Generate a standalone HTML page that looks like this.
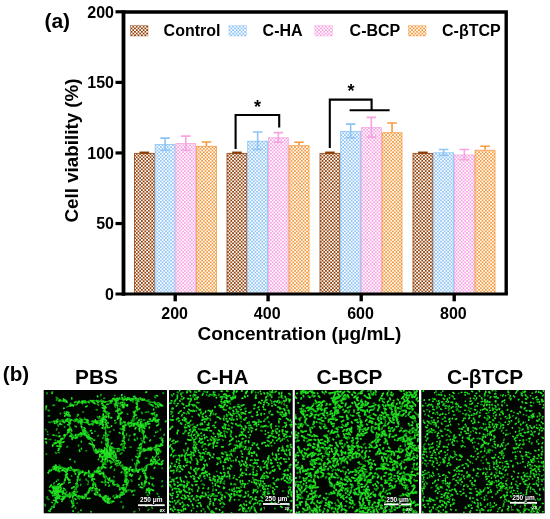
<!DOCTYPE html>
<html lang="en"><head><meta charset="utf-8"><title>Cell viability</title>
<style>html,body{margin:0;padding:0;background:#fff}svg{display:block}text{font-family:"Liberation Sans",sans-serif;font-weight:bold;fill:#000}</style>
</head><body>
<svg width="550" height="519" viewBox="0 0 550 519">
<defs>
<pattern id="p-ctrl" width="3.44" height="3.44" patternUnits="userSpaceOnUse"><rect width="3.44" height="3.44" fill="#fff"/><rect x="0" y="0" width="1.72" height="1.72" fill="#96420c"/><rect x="1.72" y="1.72" width="1.72" height="1.72" fill="#96420c"/></pattern>
<pattern id="p-ha" width="3.44" height="3.44" patternUnits="userSpaceOnUse"><rect width="3.44" height="3.44" fill="#fff"/><rect x="0" y="0" width="1.72" height="1.72" fill="#8ec4f6"/><rect x="1.72" y="1.72" width="1.72" height="1.72" fill="#8ec4f6"/></pattern>
<pattern id="p-bcp" width="3.44" height="3.44" patternUnits="userSpaceOnUse"><rect width="3.44" height="3.44" fill="#fff"/><rect x="0" y="0" width="1.72" height="1.72" fill="#f7a3e2"/><rect x="1.72" y="1.72" width="1.72" height="1.72" fill="#f7a3e2"/></pattern>
<pattern id="p-tcp" width="3.44" height="3.44" patternUnits="userSpaceOnUse"><rect width="3.44" height="3.44" fill="#fff"/><rect x="0" y="0" width="1.72" height="1.72" fill="#f79a3e"/><rect x="1.72" y="1.72" width="1.72" height="1.72" fill="#f79a3e"/></pattern>
<filter id="soft" x="-5%" y="-5%" width="110%" height="110%"><feGaussianBlur stdDeviation="0.45"/></filter>
</defs>
<rect width="550" height="519" fill="#fff"/>
<g id="bars">
<rect x="134.40" y="153.35" width="19.90" height="141.15" fill="url(#p-ctrl)" stroke="#96420c" stroke-width="0.8"/>
<path d="M139.55 152.65H149.15" stroke="#8a3d06" stroke-width="2.2" fill="none"/>
<rect x="155.10" y="144.60" width="19.90" height="149.90" fill="url(#p-ha)" stroke="#8ec4f6" stroke-width="0.8"/>
<path d="M165.05 138.13V150.27M160.25 138.13H169.85M160.25 150.27H169.85" stroke="#8ec4f6" stroke-width="1.6" fill="none"/>
<rect x="175.80" y="143.61" width="19.90" height="150.89" fill="url(#p-bcp)" stroke="#f7a3e2" stroke-width="0.8"/>
<path d="M185.75 136.15V150.27M180.95 136.15H190.55M180.95 150.27H190.55" stroke="#f7a3e2" stroke-width="1.6" fill="none"/>
<rect x="196.50" y="146.29" width="19.90" height="148.21" fill="url(#p-tcp)" stroke="#f79a3e" stroke-width="0.8"/>
<path d="M206.45 141.94V145.89M201.65 141.94H211.25" stroke="#f79a3e" stroke-width="1.6" fill="none"/>
<rect x="227.00" y="153.35" width="19.90" height="141.15" fill="url(#p-ctrl)" stroke="#96420c" stroke-width="0.8"/>
<path d="M232.15 152.65H241.75" stroke="#8a3d06" stroke-width="2.2" fill="none"/>
<rect x="247.70" y="141.21" width="19.90" height="153.29" fill="url(#p-ha)" stroke="#8ec4f6" stroke-width="0.8"/>
<path d="M257.65 132.06V149.56M252.85 132.06H262.45M252.85 149.56H262.45" stroke="#8ec4f6" stroke-width="1.6" fill="none"/>
<rect x="268.40" y="137.82" width="19.90" height="156.68" fill="url(#p-bcp)" stroke="#f7a3e2" stroke-width="0.8"/>
<path d="M278.35 132.62V142.22M273.55 132.62H283.15M273.55 142.22H283.15" stroke="#f7a3e2" stroke-width="1.6" fill="none"/>
<rect x="289.10" y="145.73" width="19.90" height="148.77" fill="url(#p-tcp)" stroke="#f79a3e" stroke-width="0.8"/>
<path d="M299.05 142.22V145.33M294.25 142.22H303.85" stroke="#f79a3e" stroke-width="1.6" fill="none"/>
<rect x="320.00" y="153.35" width="19.90" height="141.15" fill="url(#p-ctrl)" stroke="#96420c" stroke-width="0.8"/>
<path d="M325.15 152.65H334.75" stroke="#8a3d06" stroke-width="2.2" fill="none"/>
<rect x="340.70" y="131.33" width="19.90" height="163.17" fill="url(#p-ha)" stroke="#8ec4f6" stroke-width="0.8"/>
<path d="M350.65 124.16V137.71M345.85 124.16H355.45M345.85 137.71H355.45" stroke="#8ec4f6" stroke-width="1.6" fill="none"/>
<rect x="361.40" y="127.66" width="19.90" height="166.84" fill="url(#p-bcp)" stroke="#f7a3e2" stroke-width="0.8"/>
<path d="M371.35 117.38V137.14M366.55 117.38H376.15M366.55 137.14H376.15" stroke="#f7a3e2" stroke-width="1.6" fill="none"/>
<rect x="382.10" y="132.74" width="19.90" height="161.76" fill="url(#p-tcp)" stroke="#f79a3e" stroke-width="0.8"/>
<path d="M392.05 123.03V132.34M387.25 123.03H396.85" stroke="#f79a3e" stroke-width="1.6" fill="none"/>
<rect x="413.00" y="153.35" width="19.90" height="141.15" fill="url(#p-ctrl)" stroke="#96420c" stroke-width="0.8"/>
<path d="M418.15 152.65H427.75" stroke="#8a3d06" stroke-width="2.2" fill="none"/>
<rect x="433.70" y="152.79" width="19.90" height="141.71" fill="url(#p-ha)" stroke="#8ec4f6" stroke-width="0.8"/>
<path d="M443.65 149.56V155.21M438.85 149.56H448.45M438.85 155.21H448.45" stroke="#8ec4f6" stroke-width="1.6" fill="none"/>
<rect x="454.40" y="155.04" width="19.90" height="139.46" fill="url(#p-bcp)" stroke="#f7a3e2" stroke-width="0.8"/>
<path d="M464.35 149.56V159.73M459.55 149.56H469.15M459.55 159.73H469.15" stroke="#f7a3e2" stroke-width="1.6" fill="none"/>
<rect x="475.10" y="150.24" width="19.90" height="144.26" fill="url(#p-tcp)" stroke="#f79a3e" stroke-width="0.8"/>
<path d="M485.05 146.32V149.84M480.25 146.32H489.85" stroke="#f79a3e" stroke-width="1.6" fill="none"/>
</g>
<g id="axes" stroke="#000" fill="none">
<path d="M123.5 12 H506.2 V294" stroke-width="3.4"/>
<path d="M123.5 10.3 V295.7" stroke-width="3.8"/>
<path d="M115.5 294 H507.9" stroke-width="3.2"/>
<path d="M115.5 223.53H123" stroke-width="3.2"/>
<path d="M115.5 152.95H123" stroke-width="3.2"/>
<path d="M115.5 82.38H123" stroke-width="3.2"/>
<path d="M115.5 11.80H123" stroke-width="3.2"/>
<path d="M175.2 294V301.3" stroke-width="3.4"/>
<path d="M268.1 294V301.3" stroke-width="3.4"/>
<path d="M361.2 294V301.3" stroke-width="3.4"/>
<path d="M454.2 294V301.3" stroke-width="3.4"/>
</g>
<g id="sig" stroke="#000" stroke-width="2.1" fill="none" stroke-linejoin="miter">
<path d="M235.6 149 V115 H279.2 V127.4"/>
<path d="M329.8 148 V99.6 H371.6 V110.3 M349.6 110.3 H389.6"/>
</g>
<text x="257.4" y="112.6" font-size="18" text-anchor="middle">*</text>
<text x="351" y="96.7" font-size="18" text-anchor="middle">*</text>
<text x="114" y="299.8" font-size="16" text-anchor="end">0</text>
<text x="114" y="229.2" font-size="16" text-anchor="end">50</text>
<text x="114" y="158.7" font-size="16" text-anchor="end">100</text>
<text x="114" y="88.1" font-size="16" text-anchor="end">150</text>
<text x="114" y="17.5" font-size="16" text-anchor="end">200</text>
<text x="174.6" y="319.4" font-size="16" text-anchor="middle">200</text>
<text x="267.2" y="319.4" font-size="16" text-anchor="middle">400</text>
<text x="360.5" y="319.4" font-size="16" text-anchor="middle">600</text>
<text x="453.4" y="319.4" font-size="16" text-anchor="middle">800</text>
<text x="299.4" y="339.6" font-size="19" text-anchor="middle">Concentration (μg/mL)</text>
<text transform="translate(77.6 150.5) rotate(-90)" font-size="18.8" text-anchor="middle">Cell viability (%)</text>
<text x="44.4" y="28" font-size="21">(a)</text>
<text x="2.8" y="381.0" font-size="20.6">(b)</text>
<rect x="130.3" y="25.5" width="17.7" height="10.5" fill="url(#p-ctrl)" stroke="#96420c" stroke-opacity="0.6" stroke-width="0.6"/>
<text x="163.6" y="36" font-size="16">Control</text>
<rect x="228.9" y="25.5" width="17.7" height="10.5" fill="url(#p-ha)" stroke="#8ec4f6" stroke-opacity="0.6" stroke-width="0.6"/>
<text x="262.6" y="36" font-size="16">C-HA</text>
<rect x="314.8" y="25.5" width="17.7" height="10.5" fill="url(#p-bcp)" stroke="#f7a3e2" stroke-opacity="0.6" stroke-width="0.6"/>
<text x="349.6" y="36" font-size="16">C-BCP</text>
<rect x="408.3" y="25.5" width="17.7" height="10.5" fill="url(#p-tcp)" stroke="#f79a3e" stroke-opacity="0.6" stroke-width="0.6"/>
<text x="442" y="36" font-size="16">C-βTCP</text>
<text x="96.4" y="383.8" font-size="20.8" text-anchor="middle">PBS</text>
<text x="222.5" y="383.8" font-size="20.8" text-anchor="middle">C-HA</text>
<text x="349.5" y="383.8" font-size="20.8" text-anchor="middle">C-BCP</text>
<text x="485" y="383.8" font-size="20.8" text-anchor="middle">C-βTCP</text>
<g id="panel-pbs">
<clipPath id="c-pbs"><rect x="43.7" y="390.0" width="123.3" height="123.29999999999995"/></clipPath>
<rect x="43.7" y="390.0" width="123.3" height="123.29999999999995" fill="#020402"/>
<g clip-path="url(#c-pbs)" filter="url(#soft)" fill="none" stroke-linecap="round">
<path d="M66.7 407.0L71.3 405.5L72.6 404.9L76.9 404.8L78.7 402.2L83.0 402.9L86.6 402.6L88.4 401.2L93.3 400.6L93.9 400.3L97.5 401.5L100.2 401.6L103.6 402.4L107.2 401.5L108.2 401.2L111.4 400.0L114.4 399.6L117.8 399.4L123.7 398.9L124.9 397.7L127.1 398.8L130.3 398.9L133.4 398.3L136.7 398.7L140.6 399.2L142.7 400.2L145.9 400.3L148.9 401.3L152.1 402.4L153.7 402.4L156.5 404.2L159.5 404.6L161.2 406.1M58.2 400.9L61.2 400.6L63.3 401.1L67.4 402.7M51.6 421.8L54.6 421.6L57.4 421.6L61.7 420.8L63.1 422.0L67.0 420.9L70.6 419.1L74.9 421.5L76.5 421.2L79.6 420.4L82.5 421.9L86.3 422.8L88.5 423.8L91.0 424.0L94.7 422.4L95.0 421.0L98.8 421.1L102.1 419.2L103.4 419.1L105.7 415.8M70.5 421.5L70.4 421.9L69.1 425.4L70.8 428.4L68.9 431.7L67.1 434.1L65.0 434.6L64.3 438.1L62.6 439.4L59.2 440.9L59.4 443.7L59.6 446.5L59.2 449.5M79.3 421.1L81.0 424.1L81.6 425.7L82.2 429.4L85.3 430.5L85.2 432.1L87.1 435.5L90.0 438.0L89.5 438.5L92.5 442.7L92.2 445.1L93.9 449.8L97.6 450.1L98.5 450.6L101.8 451.8L105.4 452.2L107.6 455.4L111.8 452.9L111.9 453.5M101.6 419.2L101.5 422.1L102.0 424.8L104.6 428.4L106.1 430.6L105.1 432.9L105.7 435.7L105.2 440.1L108.0 443.2L108.3 445.7L107.1 448.6L107.7 450.8M107.0 415.2L107.0 414.0L105.5 412.5L104.8 409.5L104.3 406.2L102.1 404.9M107.7 455.4L107.3 457.6L106.4 457.8L105.1 461.2L102.9 463.8L102.4 467.1L101.0 467.7L98.2 469.6L96.2 472.5L93.3 473.0L91.7 474.3L87.9 472.5L85.0 473.7L83.3 471.8L79.7 471.3L76.7 470.5L73.3 469.2L70.1 470.6L68.0 468.9L64.5 468.3L61.9 467.2L58.8 467.2L55.1 465.9L53.2 467.5L52.7 468.4L50.1 471.4M107.8 454.6L111.4 456.4L112.9 457.7L115.3 460.5L117.5 460.9L118.7 462.7L120.4 466.0L123.4 466.9L126.0 468.4L128.7 470.2L130.2 469.4L133.9 471.9L138.6 469.6L141.6 469.4L143.8 468.5L146.2 465.8L148.1 464.4L151.6 464.9L155.5 461.4L155.6 462.2L159.3 464.7M123.0 425.3L126.4 425.4L127.8 423.9L131.9 423.5L135.4 424.0L138.6 424.6L141.0 426.9L144.3 425.0L145.3 423.3L149.4 421.4L152.0 420.8L154.7 420.2L157.8 420.3M131.8 424.5L132.4 419.6L134.2 416.3L134.2 414.5L136.1 410.3L136.4 410.4L137.7 406.6L137.3 404.1L137.7 401.8M122.4 425.7L124.0 428.7L122.7 432.6L123.6 434.5L124.8 437.5L123.6 440.6L125.3 443.3L123.1 447.5L123.1 450.3L120.8 449.2L117.2 451.4M139.6 453.0L142.8 451.2L145.7 450.4L149.0 450.2L151.0 448.0L153.0 448.1L156.9 446.8L159.8 445.9L162.4 445.0M140.9 425.7L141.8 429.3L142.5 431.7L143.7 435.8L143.5 437.1L143.8 439.4L142.8 442.2L141.6 443.7L141.4 447.0L139.4 451.2L139.8 454.6L138.8 455.1L137.8 459.6L136.9 462.0L136.5 464.2L135.4 467.7M90.6 474.2L92.6 476.7L92.0 478.2L93.6 482.5L92.7 485.5L94.0 488.0L96.4 490.6L97.6 492.9L97.9 494.9L100.7 496.5L103.6 498.6L107.0 497.8L108.5 501.0L113.4 501.2M66.4 469.1L66.6 472.5L65.7 474.8L65.7 477.7L64.8 479.5L63.7 483.3L61.6 483.7L60.0 486.6L57.9 488.0L56.6 488.8L52.9 489.8M50.4 492.2L52.6 493.5L56.9 495.0L58.0 497.9L60.4 496.3L63.7 496.3L67.5 495.5L69.0 494.6L72.4 494.4L75.3 495.5L77.9 497.0L82.0 497.0L83.7 496.8L86.1 497.2L87.2 493.0L88.6 490.8L90.0 489.4L93.3 487.6M57.7 486.8L57.7 490.8L56.2 492.9L56.6 497.3L56.6 499.6L55.4 502.5L54.0 506.2L51.7 506.8M125.8 468.7L126.5 471.8L126.2 474.6L125.8 477.1L128.9 481.3L127.0 484.7L126.1 487.9L124.8 490.2L123.7 492.0L120.2 494.0L118.8 496.5L116.8 497.3M143.8 469.9L144.6 472.0L145.3 475.0L146.5 478.8L145.3 481.8L144.9 483.0L144.9 485.5M155.0 412.2L153.7 414.2L155.7 416.2L154.4 418.4L156.7 420.3L158.9 423.3M72.1 494.9L72.4 497.6L73.6 501.3L73.8 504.0M59.5 441.7L57.5 442.4L55.0 442.8L53.4 443.2M87.2 433.0L82.8 433.7L81.3 436.4L77.7 435.6L74.4 438.2L72.4 434.6L69.9 432.5M115.4 399.1L116.0 404.5L117.8 404.8L117.4 408.6L117.7 412.2L118.3 413.7L119.1 416.2L121.1 419.2L120.0 420.8L121.2 424.0M98.8 471.9L100.6 471.5L103.0 474.6L105.0 475.1L106.7 477.1L108.1 479.5L110.9 480.2L111.8 480.7L115.0 484.8L117.7 484.0L119.6 487.5L123.7 489.6M153.9 461.8L154.1 459.0L155.8 456.4L157.2 454.2L158.6 453.1L157.7 449.4M79.4 470.2L78.9 474.6L77.6 478.1L77.5 480.5L76.9 482.3L77.6 484.8L75.9 487.6L74.5 489.8L73.0 493.4" stroke="#14b414" stroke-width="1.25" stroke-linejoin="round"/>
<path d="M71.0 404.3l0.7 0.2M76.3 401.4l0.5 0.4M78.9 403.0l0.6 -0.6M83.6 401.9l2.1 0.8M93.7 400.6l0.7 0.2M97.3 404.0l1.2 1.0M98.4 400.6l0.4 0.1M100.8 400.5l0.6 -0.7M103.9 398.4l0.6 -0.2M109.5 403.4l2.2 -0.4M113.6 398.4l0.6 -0.3M135.5 397.5l1.7 1.9M137.9 400.4l1.2 0.8M143.8 400.0l0.7 -0.1M149.3 403.4l-0.1 0.6M146.7 400.9l2.2 -0.9M149.4 402.3l0.4 -0.4M157.2 402.9l1.8 0.0M58.1 398.7l-1.8 -1.4M59.9 399.8l1.4 0.9M69.7 404.6l1.0 -1.5M48.9 422.1l1.6 0.4M61.5 420.1l2.3 -0.1M67.6 420.3l1.6 -1.7M74.8 419.4l0.5 -0.0M80.6 423.5l1.3 0.5M86.3 420.6l1.6 1.4M91.6 421.5l1.4 -0.8M93.2 422.7l0.2 0.4M100.7 421.5l1.7 1.4M68.0 419.0l0.1 1.4M70.6 423.2l-0.9 0.9M65.0 435.3l-0.7 1.9M65.3 435.3l-0.2 0.5M60.9 446.2l-0.6 1.5M98.4 451.0l2.0 -0.9M104.3 453.4l1.5 0.6M102.4 421.8l0.0 0.8M102.9 428.1l0.9 0.3M106.9 435.3l0.3 1.5M106.4 434.6l2.2 0.5M106.6 440.2l-0.5 1.7M106.7 449.2l0.7 -0.3M107.1 449.1l-0.5 0.2M107.5 414.4l-1.3 -1.1M107.9 412.2l-0.6 -0.0M104.2 406.4l-0.8 0.9M108.7 454.5l-0.9 0.2M106.9 458.7l-2.1 -0.7M104.1 462.5l-1.4 1.8M104.7 463.2l1.1 1.3M93.7 473.3l-0.7 1.3M89.6 473.5l-1.2 0.5M86.2 473.7l-0.8 -0.9M83.2 471.3l-2.1 1.0M79.8 470.4l-1.8 1.7M79.3 470.9l-1.4 -1.3M70.6 468.3l-2.0 -0.3M72.9 470.5l-0.2 -0.2M58.0 468.0l-0.8 -0.5M122.2 464.8l-0.4 1.5M121.9 465.1l1.9 1.5M122.4 466.4l1.4 1.2M127.0 469.2l0.6 -0.0M127.3 468.3l0.9 0.5M134.7 469.7l1.6 1.0M132.6 471.3l0.1 -0.5M142.0 469.5l0.8 -0.4M141.6 468.4l0.4 -0.2M142.6 470.2l-0.1 -1.6M151.9 463.6l1.0 -0.1M120.2 428.6l1.1 0.4M127.2 424.0l0.7 -0.4M131.7 425.3l2.3 0.3M143.2 424.2l-0.9 2.1M141.7 424.0l1.5 -0.2M144.2 425.1l2.1 -0.9M150.1 420.9l0.7 -0.5M128.9 425.4l-0.6 -2.3M133.4 421.3l1.1 -1.8M131.7 422.1l-0.4 -1.6M133.4 417.4l0.5 -0.6M133.7 418.3l-0.2 -1.1M137.2 402.9l0.1 -2.1M136.7 402.9l0.5 -0.5M126.6 433.8l-0.2 1.5M124.3 438.4l-1.2 0.7M123.3 445.5l0.8 2.1M123.1 449.4l0.9 1.3M122.8 446.8l-0.2 0.9M121.4 449.7l-2.2 0.3M121.9 453.0l-1.6 1.0M137.5 453.8l0.5 0.1M141.6 450.9l2.0 0.5M145.5 449.4l1.6 0.2M148.0 450.2l1.8 -0.1M151.0 450.7l0.4 -1.0M141.9 427.5l0.7 1.2M142.4 430.6l-0.6 1.5M146.4 437.1l0.7 0.8M143.7 440.0l-0.6 0.6M141.8 440.6l0.8 0.5M141.1 443.8l0.3 1.0M140.4 447.8l0.7 1.8M139.2 447.7l0.6 0.6M137.9 450.5l-0.7 -0.1M136.7 460.3l0.9 1.8M136.2 464.7l0.5 0.9M135.5 465.2l0.7 1.4M134.8 463.7l0.6 0.9M90.2 474.9l-0.5 2.3M94.2 482.5l0.0 0.6M95.3 483.4l-0.6 1.1M95.5 490.3l-0.3 0.3M68.2 478.7l0.6 2.1M64.5 482.7l-1.1 0.9M60.9 484.7l-0.9 1.1M54.8 491.8l1.2 1.2M68.2 496.7l0.2 -0.5M72.2 492.6l2.2 -1.2M75.2 493.1l2.2 -1.4M77.6 497.9l2.0 1.1M82.4 498.3l0.9 0.2M84.0 497.2l0.7 -1.2M91.4 490.7l1.5 -0.5M57.1 486.2l-1.3 1.0M56.7 488.1l0.9 -0.2M56.6 493.7l-0.1 1.2M55.8 502.8l-1.8 1.5M52.5 506.4l-0.6 0.2M128.1 473.1l-0.8 0.7M125.7 476.0l-0.5 2.0M125.0 488.1l-1.6 0.9M116.9 495.8l-0.7 -0.9M147.4 477.4l-0.4 0.4M155.4 415.2l0.5 1.9M158.1 421.9l0.1 0.3M73.1 502.4l-0.3 0.7M85.5 431.5l-2.4 0.0M77.2 437.9l-0.6 -0.1M79.2 434.4l-1.0 0.3M71.5 431.5l-0.7 -2.4M117.9 402.6l-0.8 1.9M115.1 406.7l0.4 0.5M118.8 408.7l-0.9 2.3M120.9 421.9l1.6 1.4M103.4 476.2l0.8 0.7M105.3 478.2l0.2 1.3M113.3 480.1l1.1 1.7M120.0 489.2l1.7 -1.7M154.0 458.8l0.1 -1.1M158.2 457.0l0.2 -0.2M158.6 450.1l0.9 -0.5M157.5 448.9l-1.5 -1.1M156.5 446.7l1.7 -1.7M82.3 470.9l-0.2 1.1M78.3 475.3l0.1 1.3M78.1 478.6l1.3 1.4M78.2 485.3l-2.2 -0.2M77.7 486.8l-0.2 0.5M75.9 487.7l0.5 2.1M74.9 491.5l-0.3 0.2M74.7 491.2l1.2 0.8M105.3 453.4l-1.0 0.9M112.8 461.9l-2.1 1.0M110.2 453.9l1.1 0.3M109.1 451.6l0.4 2.0M105.9 450.5l-0.6 0.6M104.7 460.8l0.9 2.1M110.5 453.0l0.4 2.1M112.8 457.6l0.3 0.6M114.5 461.9l1.2 0.7M112.8 448.6l2.4 0.0M105.7 451.7l-0.3 0.9M109.5 450.7l-0.7 0.5M100.0 418.1l-0.8 0.4M99.4 422.1l-0.3 0.4M102.3 417.4l0.7 1.1M105.3 419.0l0.0 0.5M100.1 423.9l-0.9 1.3M104.2 419.4l0.7 0.5M103.6 421.1l-1.2 1.7M105.8 424.7l0.5 1.0M58.5 492.9l-0.2 0.3M54.4 482.7l-0.5 1.0M56.5 488.6l-2.0 0.1M61.8 491.1l0.4 1.6M59.4 491.1l2.0 0.9M66.6 492.3l-1.1 1.7M60.7 485.2l0.1 0.7M55.0 486.1l-0.4 0.8M54.6 494.7l-0.7 0.9M54.0 486.0l-1.9 1.1M140.7 438.4l0.4 0.2M139.3 419.3l2.3 0.3M106.9 496.8l-1.3 1.4M104.1 497.8l1.6 0.2M108.0 496.3l-0.4 0.7M85.6 431.9l1.2 0.1M85.5 432.6l2.0 0.5M85.0 435.4l2.0 0.5M87.8 432.4l-1.2 0.9M123.9 406.0l-1.5 1.4M123.2 404.4l0.1 0.9M120.0 403.2l-2.3 0.6M124.3 402.4l0.8 2.1M68.0 415.9l1.9 0.5M57.0 470.4l1.8 0.2M58.4 470.1l-0.1 0.5M58.3 470.8l0.0 0.8M56.3 469.2l-0.8 0.6M125.3 472.9l-0.0 1.4M125.6 472.1l-1.4 0.9M127.3 472.6l0.6 0.5M124.9 470.5l-0.5 0.1M113.8 429.9l0.3 0.1M127.6 490.0l0.9 0.3M164.2 434.0l-0.1 1.3M47.6 496.9l-0.9 0.8M86.3 450.6l-0.3 0.1M54.5 468.8l-0.4 0.1M67.6 446.5l-0.8 0.6M124.5 396.5l0.8 0.6M132.5 401.6l0.6 0.2M94.8 431.2l0.3 0.2M123.4 506.4l-0.6 1.4M59.4 465.2l0.6 1.3M118.1 465.4l-1.5 0.4M60.5 443.9l0.9 0.3M71.6 475.8l0.1 0.2M152.5 405.6l0.6 0.7M51.3 484.8l-0.2 0.3M120.1 406.1l-0.0 0.3M78.7 445.0l-0.2 1.1M157.5 431.3l0.2 0.4M134.2 435.3l0.4 0.3M95.5 492.1l0.3 1.3M101.6 461.3l0.5 0.6M75.0 425.9l0.2 0.4M114.5 395.3l0.4 0.4M66.7 491.9l-0.8 1.2M60.2 413.1l0.5 0.8M146.3 492.5l-0.2 0.1M47.5 431.6l0.0 0.2M87.3 406.0l-0.5 0.2M83.3 411.8l-0.3 0.2M97.4 416.9l1.1 1.1M131.2 479.9l0.7 1.4M162.1 468.1l0.2 0.2M111.5 449.7l-1.5 0.7M144.6 420.1l-1.1 0.1M49.5 415.8l-1.3 0.2M134.0 471.4l1.5 0.1M80.7 484.4l-0.1 0.9M108.9 502.7l-0.7 0.4M148.3 411.6l0.3 0.6M49.2 439.5l1.6 0.0M143.9 449.1l0.6 0.1M138.3 426.3l0.8 0.2M114.7 405.5l0.4 0.9M135.6 440.3l-0.6 0.0M136.4 400.1l-0.9 0.3M65.6 490.1l-0.4 0.1M151.8 507.2l0.6 1.2M132.2 459.5l0.2 0.6M144.1 486.2l-0.3 0.1M113.8 476.7l0.2 0.1M153.7 485.7l-0.4 0.5M97.2 489.7l1.2 0.4M131.2 447.0l-1.1 0.2M152.2 414.0l0.2 0.6M105.9 482.7l-1.5 0.0M148.9 509.4l-0.8 0.9M55.3 440.2l0.0 0.3M154.3 436.0l0.2 0.2M110.4 431.6l-1.1 0.2M96.2 409.7l1.1 0.2M119.1 450.6l-0.0 0.8M154.6 396.8l1.0 0.9M82.7 430.8l0.1 0.6M137.2 401.6l-0.2 1.2M86.0 479.2l0.5 1.0M56.8 428.8l-0.2 1.0M101.0 394.3l-0.2 1.4M77.5 415.7l-0.2 0.5M57.0 398.9l-0.5 1.3M139.2 462.4l-1.3 0.5M77.8 437.0l-1.5 0.1M122.5 467.4l0.2 0.3M84.7 418.2l-0.4 1.0M121.0 501.9l0.5 0.0M56.8 435.6l-0.8 0.2M141.7 412.3l0.6 1.2M80.2 479.3l-0.3 1.1M48.1 434.5l-0.7 0.0M78.4 512.2l-0.3 1.1M103.3 466.5l0.2 0.6M79.9 418.2l-0.2 0.3M59.2 452.5l-1.3 0.0M125.6 480.9l0.7 0.6M46.2 454.1l0.4 0.0M58.9 432.5l0.0 0.5M54.5 405.2l-1.6 0.2M155.4 406.8l1.2 0.8M46.4 408.0l-0.7 1.4M157.1 493.3l0.7 1.0M159.4 500.5l-1.3 0.1M140.3 475.9l0.2 1.0M157.5 460.4l0.8 0.1M150.7 476.5l0.1 1.5M137.1 417.4l-0.8 1.1M44.9 504.4l0.3 1.4M45.6 429.4l0.3 0.4M125.0 487.2l-0.7 1.3M57.9 424.9l0.4 1.2M134.9 511.5l-0.9 0.4M134.7 490.0l-0.1 1.1M148.5 492.2l0.2 0.1M130.1 489.9l1.2 0.8M136.3 410.3l1.0 0.5M120.6 410.0l-0.5 0.1M145.6 505.9l1.1 0.4M111.4 502.1l0.1 0.8M72.3 493.4l0.8 1.2M47.8 499.2l1.2 0.1M160.5 429.4l-0.2 0.7M52.2 492.5l0.0 1.3M48.1 410.0l1.0 0.9M46.9 392.9l0.3 0.7M147.3 495.1l0.9 0.8M88.0 484.1l-0.1 0.3M101.6 441.8l0.1 1.0M128.7 439.0l-0.1 1.4M127.2 414.0l0.5 0.2M161.3 437.6l-1.4 0.6M130.0 435.3l-0.6 0.6M160.9 451.3l-0.5 1.1M121.3 411.9l-0.2 0.8M127.1 485.0l0.6 0.4M75.5 507.7l0.0 0.8M162.6 486.0l-0.8 0.4M59.3 435.9l0.7 0.2M99.8 449.1l-0.9 0.1M64.7 412.0l-0.5 0.8M94.1 450.3l0.3 1.1M74.7 461.1l0.1 1.3M162.3 480.8l-0.3 0.8M57.7 479.6l0.6 0.4M116.1 422.7l-0.9 0.4M163.1 392.9l0.1 0.6M114.7 469.0l-0.4 1.5M98.5 435.5l-0.7 0.7M77.0 503.1l0.2 0.2M110.4 501.6l-0.9 0.6M106.3 425.9l0.7 0.4M146.8 458.2l-1.3 0.1M110.5 462.1l0.4 1.4M146.6 412.1l-1.1 0.3M88.1 481.0l0.3 1.1M106.6 467.5l-1.4 0.4M103.3 437.4l-0.7 0.9M55.5 452.4l0.7 0.9M64.4 426.7l0.4 0.4M113.6 495.6l-0.5 1.0M137.2 437.8l0.2 1.1" stroke="#109a10" stroke-width="1.7"/>
<path d="M70.0 405.7l1.1 -0.3M70.3 405.3l0.7 0.1M70.7 406.1l0.3 -0.2M72.0 404.5l1.4 1.6M74.7 402.4l0.4 -0.3M77.4 402.9l1.8 -1.8M81.7 401.3l1.9 -0.3M82.4 403.6l-0.2 -2.5M83.6 401.7l1.3 0.1M85.8 401.4l-1.0 -0.5M88.9 402.6l0.3 -0.3M93.2 402.4l1.8 1.1M92.8 401.3l0.1 -0.4M91.6 401.3l0.7 0.5M96.9 400.6l1.1 1.9M101.7 401.3l0.3 -0.1M101.9 403.6l0.6 -0.3M103.3 401.2l2.2 0.8M110.3 401.2l1.4 -0.4M110.4 402.1l2.0 -1.1M112.7 398.9l2.2 0.2M115.0 400.6l1.2 0.7M117.4 398.2l0.4 0.4M115.2 400.0l0.3 0.1M118.3 398.9l1.3 -1.0M125.2 399.2l1.7 0.1M122.0 397.7l0.8 0.6M122.9 399.8l2.0 -0.2M126.7 400.0l1.8 -0.9M127.6 397.9l1.8 0.6M129.3 399.1l1.5 1.6M131.1 399.1l1.2 0.4M132.3 400.0l1.4 -0.4M133.6 396.7l1.1 -0.5M135.4 397.8l0.7 0.8M140.1 398.0l1.4 1.9M142.6 399.0l0.4 0.5M141.4 399.9l0.5 -0.1M143.5 399.9l0.9 -0.7M150.6 404.5l2.0 0.9M154.3 402.1l0.4 0.1M154.8 402.5l1.0 1.9M157.6 405.7l1.0 1.2M159.7 404.0l1.5 0.5M160.0 405.3l2.5 0.4M161.1 404.9l1.5 0.9M59.5 400.8l0.1 -1.0M63.6 400.8l-0.1 -2.0M64.0 400.3l0.6 -0.1M65.2 400.2l0.4 0.0M66.1 401.5l0.8 -0.1M54.5 422.9l0.4 0.4M54.1 421.1l1.0 0.0M56.7 422.9l0.8 -1.0M56.9 420.9l-0.1 1.0M59.4 424.2l0.9 -1.1M59.6 423.8l2.1 0.7M64.1 422.4l0.4 0.2M66.6 419.6l1.0 -0.9M65.6 420.2l1.6 1.0M70.4 420.7l1.0 -0.7M69.7 421.3l0.7 -0.5M76.5 419.0l1.3 0.7M75.5 420.1l0.5 0.1M80.2 420.9l0.8 -0.4M81.0 419.2l0.2 1.4M80.8 421.0l1.8 -1.1M85.4 419.5l1.9 0.3M86.3 422.0l1.6 0.5M88.6 424.3l1.3 0.5M91.8 424.1l1.1 0.7M93.3 421.6l0.6 -0.1M95.4 422.7l1.7 -0.3M97.7 422.7l0.4 0.5M102.2 420.4l1.7 -1.9M103.1 417.0l2.4 -0.9M101.9 419.0l2.3 0.3M105.6 416.9l1.3 -0.1M110.9 417.9l0.8 -0.3M69.1 422.3l-0.4 0.1M69.4 422.7l0.1 1.1M68.4 424.4l-0.7 0.4M69.8 429.0l-0.3 0.7M69.7 428.6l-2.1 1.6M69.3 430.0l-0.8 1.7M68.2 431.8l-0.5 0.5M64.7 434.8l-0.6 1.0M65.3 435.6l-1.4 -0.5M62.5 438.4l-1.5 0.8M62.5 438.5l-1.5 0.2M61.1 439.2l-0.3 0.6M58.6 441.0l-1.2 0.1M60.7 442.2l-0.0 0.8M60.4 445.8l0.5 0.6M56.6 446.0l2.3 0.1M58.4 448.7l0.2 0.4M58.9 449.9l-0.8 0.5M78.4 421.9l-0.1 0.8M81.9 421.8l-0.2 0.6M80.6 422.5l0.6 1.0M81.5 426.7l0.1 0.4M81.3 426.3l0.2 0.3M84.1 429.8l0.8 0.4M84.6 431.3l1.1 -0.4M82.7 433.5l1.4 1.0M84.4 433.7l1.7 1.6M88.7 434.7l0.4 0.5M86.8 436.8l0.1 0.7M88.0 436.7l0.3 0.1M88.2 439.0l1.5 -0.2M89.9 437.7l2.3 1.1M89.1 443.3l1.6 0.9M93.3 444.8l0.6 0.4M90.9 444.0l1.8 0.9M94.3 445.4l0.0 1.0M93.9 446.6l0.2 0.5M95.8 449.1l0.2 2.1M97.9 451.5l0.4 0.8M97.3 451.1l1.9 0.3M102.1 451.3l1.9 -0.2M102.9 451.0l1.3 1.3M105.7 453.6l1.7 -0.1M105.4 457.5l0.3 -0.3M108.5 454.8l2.1 -1.5M111.6 453.9l1.5 -0.2M110.3 454.3l0.9 0.1M110.2 451.5l0.8 -2.4M113.4 451.1l0.7 -0.1M100.4 420.7l0.8 1.2M101.4 421.6l1.2 1.3M101.8 423.1l-0.6 1.0M103.0 424.6l-0.1 0.5M102.3 427.7l0.0 0.4M107.3 427.6l2.0 -0.1M105.8 432.9l0.1 0.6M103.9 435.2l0.2 0.3M107.5 438.7l0.6 2.4M106.2 438.7l0.1 1.6M105.8 443.9l1.1 2.1M108.0 445.0l-0.6 1.9M107.3 444.0l0.2 0.5M106.8 446.3l-0.2 0.3M105.0 452.9l-0.1 1.9M109.3 452.7l-2.2 1.1M108.7 417.4l-0.0 -1.8M106.1 411.7l-1.8 -0.5M104.8 411.4l-1.4 -0.4M103.8 408.5l-1.5 -0.8M104.8 407.8l-0.4 2.0M106.1 407.8l-1.2 -1.9M103.5 405.7l-1.2 -1.8M106.1 454.4l-1.6 1.7M106.5 459.0l-2.1 0.4M102.9 459.2l-0.6 0.9M105.0 467.4l-0.8 -0.0M103.9 464.1l-1.1 0.7M103.3 466.4l-1.6 0.7M99.0 467.2l-1.3 1.4M100.2 470.2l-1.9 1.6M98.1 471.9l-1.2 -1.6M97.2 471.2l-0.6 -0.3M95.1 471.6l-0.6 -0.5M92.4 475.6l-1.4 1.2M93.9 474.8l-2.0 0.2M89.0 472.5l-0.3 -1.8M86.4 473.1l-1.0 -0.8M84.9 473.5l-0.6 1.6M82.8 471.8l-1.2 0.7M75.0 471.9l-1.0 -0.6M75.8 474.1l-0.6 -0.2M74.7 470.0l-0.7 0.1M71.6 468.2l-0.9 -1.2M67.8 470.5l-0.4 -0.9M67.2 469.7l-1.3 -0.6M65.0 468.4l-1.2 0.5M63.4 469.3l-1.8 1.3M61.1 468.1l-2.5 0.4M58.7 468.3l-0.0 -1.3M56.2 468.4l-0.3 -2.0M55.8 465.0l0.2 0.4M55.3 468.1l-0.9 -0.6M55.1 467.4l1.4 2.1M49.4 470.0l-0.5 1.9M51.5 470.3l-1.4 0.2M48.4 473.0l-0.3 -0.3M108.9 453.3l0.7 0.3M108.8 456.3l2.0 0.1M111.0 457.8l1.9 1.6M109.7 455.8l1.1 -0.1M114.9 457.3l1.0 -0.0M113.0 459.4l0.5 0.7M116.6 461.0l2.2 -0.4M117.4 463.5l-2.1 0.8M120.8 461.9l-1.1 1.8M122.5 468.1l1.7 1.2M125.0 467.6l0.5 -0.3M130.1 467.4l0.7 -0.3M129.0 469.9l0.2 1.4M137.5 471.7l0.6 0.5M138.3 471.4l0.6 -1.0M138.5 470.7l1.1 -1.3M146.1 469.0l0.6 -1.3M146.8 466.2l0.1 -0.4M150.4 464.3l0.5 -0.9M151.5 464.1l1.8 -1.0M150.4 464.2l1.6 0.5M152.4 461.1l1.3 1.4M155.1 461.1l1.5 0.4M157.1 462.2l0.4 0.4M158.3 463.9l2.3 0.2M161.5 464.8l1.0 -1.4M161.4 462.1l1.6 -1.4M124.3 426.8l1.0 -2.2M129.6 426.5l2.2 -1.0M128.5 423.7l2.4 -1.0M130.8 423.5l0.3 -0.1M133.2 423.8l1.5 -0.4M135.2 423.4l1.9 0.5M136.4 424.7l1.8 -1.8M138.6 425.7l0.8 0.7M140.8 427.3l1.6 -0.6M146.1 423.8l1.5 0.2M145.5 423.2l-0.1 -0.3M149.4 419.2l1.1 -0.1M148.8 423.9l0.9 -0.3M151.6 421.0l0.9 0.1M154.6 419.2l0.9 -0.1M157.8 419.8l0.1 0.7M157.2 420.5l1.9 -0.9M157.3 420.9l0.8 0.3M134.0 416.4l0.1 -0.3M135.7 415.4l0.4 -0.4M134.7 414.0l-1.3 -2.1M135.0 411.5l0.0 -0.5M138.9 409.4l0.5 -0.9M137.5 409.2l-1.3 -1.6M136.5 407.2l0.2 -0.8M136.6 407.3l0.6 -0.3M137.7 401.3l0.6 -2.0M123.3 426.1l-0.3 0.7M124.7 427.8l-1.4 0.5M122.4 429.0l-0.2 0.4M123.6 429.4l0.9 1.0M123.3 432.9l-0.7 1.0M122.9 432.2l0.0 2.4M124.1 436.1l-0.5 1.9M124.3 437.4l-0.4 0.4M123.1 440.7l-0.8 0.4M124.1 441.3l0.2 0.5M122.0 444.0l-1.0 0.9M119.1 448.5l-2.1 0.4M117.5 451.3l-0.0 -0.4M115.6 453.5l0.3 2.4M144.2 450.9l1.7 -1.0M143.2 449.6l0.7 -1.0M148.0 449.2l0.2 -1.0M149.0 449.2l1.7 -1.8M155.2 447.1l1.1 -1.1M155.4 449.3l1.5 -0.2M156.0 445.2l0.9 0.1M159.2 446.1l1.1 -0.1M160.9 444.8l0.5 -0.7M161.4 445.6l1.2 -0.4M162.5 443.0l0.3 -2.4M161.7 440.0l0.9 -1.2M141.7 425.4l-0.4 0.9M143.2 427.2l1.6 1.3M142.8 430.6l0.2 0.4M144.1 431.8l-0.8 1.7M145.3 435.4l0.0 1.4M144.1 437.4l-0.2 1.4M144.2 441.7l0.6 1.0M140.8 443.6l-1.3 2.0M139.3 448.3l-1.2 -0.2M140.5 447.3l0.2 1.1M140.6 452.3l-0.5 1.6M140.0 455.9l-0.9 0.7M135.9 456.4l1.8 1.0M137.7 460.5l1.6 2.0M136.6 463.3l0.4 0.5M136.2 468.5l0.4 2.2M133.1 469.5l-1.3 0.8M92.7 475.1l-0.2 0.5M92.6 474.6l0.5 1.8M93.8 479.2l0.8 -0.1M92.3 478.5l-0.3 1.4M92.4 479.0l-0.5 1.5M95.5 484.6l0.2 1.9M95.6 488.8l0.8 0.0M96.5 488.1l0.4 0.4M94.4 493.9l0.4 -0.1M95.8 494.3l0.2 0.7M97.0 492.1l0.7 0.6M99.9 494.4l0.4 0.8M100.0 496.2l0.9 0.1M102.9 497.6l1.5 -0.3M104.3 496.3l1.8 -0.5M102.8 497.5l0.8 1.2M104.0 499.1l0.5 0.7M104.3 500.2l1.6 1.5M108.0 501.9l1.2 1.4M108.3 500.8l0.6 -1.1M114.6 497.9l0.2 0.4M112.4 501.8l1.4 -0.5M68.6 467.7l-1.3 2.3M67.3 471.1l-1.3 1.2M64.3 470.7l1.4 0.8M67.5 474.0l-2.0 1.3M66.7 476.2l0.8 1.4M65.8 477.2l-0.5 1.7M67.7 478.7l1.2 1.1M65.2 480.4l-0.5 -0.4M62.4 484.1l-1.5 0.9M60.9 484.7l-1.0 1.2M58.5 486.8l-2.4 0.3M58.8 488.3l-1.9 1.1M57.6 490.8l-1.3 1.2M54.9 488.5l-1.1 -0.3M54.3 491.1l-2.2 1.3M52.0 492.4l0.3 0.6M49.3 490.6l1.4 0.7M53.0 495.3l-0.1 0.4M55.1 492.8l-0.2 0.6M57.1 495.8l2.0 1.1M58.0 496.4l1.1 2.1M57.7 497.6l0.5 0.6M61.0 499.2l1.5 0.1M62.6 498.2l1.2 0.9M63.1 497.0l0.9 -0.6M64.4 497.9l0.8 -0.9M67.0 496.1l0.5 -1.0M69.2 496.3l0.9 -0.3M69.4 493.5l0.5 -0.5M73.6 493.1l1.2 1.0M77.9 496.1l1.7 -0.1M81.1 496.5l1.1 1.6M81.8 496.3l0.3 -0.1M84.4 498.1l-0.9 -0.9M85.4 495.8l1.1 -1.5M85.8 494.6l-0.8 -0.2M88.3 493.0l0.5 -1.9M89.5 490.1l-0.4 -0.2M89.3 488.7l1.5 -1.0M92.0 488.3l1.1 -1.0M93.3 484.9l-0.2 -1.1M56.6 490.1l-0.8 0.4M57.3 491.3l-0.0 0.4M55.5 493.2l-1.0 -0.0M55.2 497.7l1.4 2.2M56.3 498.7l-0.6 1.7M56.7 501.8l1.1 0.8M54.4 500.5l-0.8 -0.2M54.2 506.9l-0.7 0.4M51.4 508.3l-1.2 1.3M126.7 467.6l0.2 1.7M125.6 469.5l-0.8 0.1M125.3 475.2l0.3 0.2M127.1 476.0l-0.8 0.2M126.1 478.9l0.8 1.1M125.1 479.9l-0.2 2.2M126.6 479.9l0.2 2.5M127.5 483.7l-1.5 0.7M126.7 482.3l-1.2 -0.2M123.8 484.7l-0.8 0.8M123.5 487.4l-0.7 0.5M126.7 491.7l-1.1 0.2M123.4 492.5l-2.3 -0.2M122.8 494.6l-1.0 0.6M124.3 493.9l-1.3 0.2M120.7 494.3l0.1 1.0M117.9 496.0l-1.8 1.1M119.9 496.9l-0.1 0.4M117.6 497.6l-0.5 -0.1M145.7 469.3l-0.0 1.2M146.0 470.3l-2.0 0.3M142.8 469.7l-0.1 1.8M143.7 473.1l1.9 0.2M145.1 475.4l0.5 -0.0M146.3 476.5l-0.6 1.2M145.6 476.9l0.9 1.9M146.5 481.7l-1.6 1.4M144.8 481.1l-0.1 1.4M144.4 483.4l-0.2 0.6M142.0 484.8l-0.4 -2.2M142.7 487.8l-2.5 -0.7M153.7 409.2l-0.1 0.6M153.8 413.3l-2.4 0.4M156.9 414.5l-0.0 1.4M153.7 417.8l0.8 1.4M154.9 419.9l0.1 1.1M157.6 420.7l-0.3 0.2M156.1 420.8l-0.1 0.6M158.4 424.6l-1.7 1.2M72.8 496.1l0.0 1.0M70.6 495.8l-1.0 1.8M74.0 495.5l2.4 -0.6M71.4 500.5l0.5 2.1M72.3 503.6l0.3 0.3M73.8 505.4l-1.6 1.5M73.9 505.6l-1.0 0.5M60.8 441.5l-0.4 1.1M59.7 441.9l-1.8 0.4M56.0 442.6l-0.9 0.4M56.1 443.4l-1.4 0.3M54.9 442.9l-0.1 0.3M53.0 444.7l-0.3 1.4M81.7 433.1l-0.5 1.4M80.2 434.0l-2.0 0.5M80.6 432.8l-0.1 0.4M77.2 437.1l-1.7 1.2M72.2 439.5l-0.2 -2.0M75.2 436.0l0.2 -1.1M73.1 437.6l-0.5 0.2M71.5 436.1l-0.2 -1.2M71.7 430.5l-0.8 -1.1M116.3 398.6l1.6 2.0M116.2 401.1l-0.3 2.2M116.2 404.6l-1.8 -0.6M115.9 405.5l1.5 0.0M119.6 408.9l-1.0 1.3M115.9 411.2l2.2 -0.6M120.1 413.7l2.3 -1.1M118.9 413.5l1.9 0.4M118.9 415.4l-1.4 1.6M118.5 417.6l-0.9 1.6M120.2 418.7l0.6 0.6M121.2 418.4l-0.7 2.3M123.6 421.9l1.7 0.4M120.3 422.7l0.1 1.8M97.2 472.7l0.0 -1.4M98.5 471.0l0.2 1.1M99.7 474.0l2.4 -0.8M103.5 472.4l0.0 2.4M103.8 476.6l0.9 0.5M105.2 480.8l0.4 0.7M109.7 478.0l-0.6 0.7M108.4 479.7l1.0 0.4M110.5 481.7l1.5 -1.2M113.4 484.7l0.6 0.3M113.3 482.2l-0.6 1.3M118.3 485.5l0.4 0.2M117.1 486.0l1.0 0.2M119.7 489.2l0.0 0.5M121.9 488.4l1.8 0.9M124.6 488.6l-1.2 1.8M124.6 489.2l1.5 1.2M150.8 461.2l0.6 -1.9M153.7 459.3l1.6 0.2M156.4 452.7l0.1 -0.7M156.8 453.5l-0.6 -2.4M157.8 454.4l0.8 -1.2M157.2 450.5l1.5 -1.8M80.2 473.2l-1.1 -0.2M79.6 473.7l-0.8 1.1M78.3 477.0l-0.9 -0.1M77.2 479.9l0.3 0.7M77.1 483.3l-1.2 0.4M73.8 487.0l-2.1 1.3M74.2 486.8l-0.6 0.2M74.2 491.6l-0.6 0.9M101.5 449.7l1.0 1.2M98.5 459.0l-0.0 0.6M99.6 455.9l0.2 1.2M102.7 456.6l0.2 0.6M109.1 457.3l1.2 0.3M102.9 453.1l-1.3 0.6M116.5 457.3l-0.4 1.6M106.4 457.2l1.5 0.2M107.0 457.7l0.3 0.2M99.9 454.7l0.3 0.2M114.3 451.7l-1.8 0.5M99.8 454.2l1.1 2.0M114.6 452.0l0.3 0.4M106.1 454.6l1.8 0.6M97.5 451.1l-0.7 2.1M106.3 449.0l0.6 1.4M101.3 451.4l-0.5 0.6M111.7 450.1l-1.3 0.7M104.8 454.7l-0.8 1.2M113.8 455.0l-0.1 1.3M106.4 455.1l0.7 0.6M109.9 449.5l-0.0 0.7M104.6 447.9l0.1 1.6M109.7 460.6l1.4 1.2M107.2 451.2l-0.3 1.9M111.6 466.5l-1.2 1.3M104.6 453.1l0.0 2.4M109.5 448.8l1.5 0.1M103.1 450.8l0.4 1.8M104.1 451.4l-0.7 1.3M102.1 457.2l0.5 2.3M110.2 446.2l0.1 0.6M111.4 447.1l1.3 0.5M106.2 451.5l-0.3 2.1M104.1 450.2l0.4 0.5M110.0 446.8l-0.3 0.8M101.4 420.1l1.3 1.3M103.4 413.9l-0.3 1.4M102.3 422.7l-0.7 0.5M105.5 422.1l-0.3 0.2M97.3 421.3l-0.6 2.1M102.5 419.9l0.1 2.0M101.5 420.2l0.5 0.5M102.2 421.6l-1.3 0.0M103.4 424.5l-0.2 0.5M102.8 417.4l-1.3 2.0M107.7 422.7l0.5 0.2M106.0 424.1l1.4 1.8M95.3 419.8l0.3 1.9M103.2 419.5l-1.1 2.0M102.4 421.0l-0.0 0.6M105.4 419.7l1.1 1.1M54.4 487.5l-1.1 0.9M58.2 490.2l1.4 1.8M55.8 490.9l-0.2 0.5M58.6 496.5l-2.2 0.7M59.2 483.6l-1.5 1.2M57.7 492.6l-0.4 1.3M59.0 487.2l-0.1 1.5M53.6 490.4l0.4 0.4M63.2 490.6l-0.2 1.6M61.2 488.8l-1.3 1.8M51.2 485.2l-1.5 1.8M59.8 486.1l1.1 1.7M56.4 481.2l0.1 0.3M55.1 487.7l2.1 0.1M62.1 491.6l1.0 0.3M55.2 495.0l-0.3 0.5M59.8 495.9l-0.5 1.7M55.7 489.1l-0.5 2.1M62.7 499.1l-0.7 2.2M52.7 486.9l-0.1 0.8M58.8 491.0l-0.2 0.6M58.6 494.6l-0.1 1.8M64.0 493.0l1.7 1.6M63.6 488.5l1.0 0.5M61.1 491.4l1.0 0.6M141.3 425.6l1.0 0.2M139.0 420.4l-0.3 0.3M139.8 426.2l-0.2 0.6M143.2 425.5l0.6 2.2M141.7 421.7l-1.0 0.1M138.4 425.3l-0.5 0.1M136.0 427.5l-1.0 1.4M139.8 426.3l0.4 0.6M139.7 429.6l-0.1 1.9M141.8 424.4l0.6 0.1M144.0 431.0l-0.0 1.4M140.2 422.6l0.7 1.9M134.2 424.1l-0.3 1.8M139.5 428.1l-0.5 1.1M139.9 424.7l1.8 0.7M144.1 426.8l-0.1 0.9M137.4 422.2l-0.2 1.7M140.8 424.8l0.5 1.6M105.6 500.5l0.0 1.2M107.7 502.2l-0.4 0.5M108.7 498.3l-0.3 0.2M110.2 498.4l-1.4 1.6M106.1 495.7l-1.1 2.0M107.2 499.6l0.2 0.7M105.7 497.2l-0.7 0.1M107.4 502.2l0.5 0.5M108.3 498.6l-1.6 0.4M102.9 498.7l0.3 0.4M103.6 499.8l1.7 0.7M103.7 498.6l-0.2 0.4M85.3 430.7l-0.2 0.2M91.7 433.1l0.6 0.1M85.2 434.8l1.8 0.5M83.5 430.0l-0.0 2.4M91.4 430.5l-1.0 0.4M84.9 433.1l-1.5 0.2M85.4 432.7l-0.6 1.1M88.8 436.7l-1.0 1.1M122.9 402.0l0.1 0.4M120.7 402.5l-0.1 0.4M122.3 402.4l0.5 0.4M124.7 404.1l-0.5 0.8M126.2 405.2l1.2 0.9M123.9 407.0l-0.2 0.5M122.2 405.6l0.2 0.3M121.2 404.7l2.4 0.1M65.5 413.6l-0.5 0.0M67.3 414.6l-1.0 0.3M66.4 414.4l1.9 0.5M65.0 415.6l-0.1 0.6M68.6 414.0l1.4 1.8M66.6 411.8l2.1 0.7M66.2 413.3l0.3 1.0M147.1 488.8l-0.6 1.9M149.7 490.0l-1.6 0.3M148.9 488.0l-0.0 0.4M148.7 490.2l1.2 0.9M148.2 489.7l-1.1 0.6M151.4 489.7l2.1 0.7M149.2 491.4l0.3 2.3M151.0 489.2l-0.3 0.5M54.0 466.5l0.7 0.6M56.0 469.5l-0.1 0.8M57.7 467.3l-1.6 0.2M59.4 471.2l0.2 0.4M56.0 467.9l-0.7 0.8M58.6 469.9l-0.5 0.6M55.3 468.7l-1.7 0.5M54.7 466.3l-1.5 0.4M126.5 469.3l-0.9 0.2M127.3 472.0l-1.0 1.3M130.3 473.8l0.6 1.6M129.5 468.9l-0.5 0.0M126.6 467.3l0.1 2.2M130.3 474.5l-0.7 0.6M125.1 470.9l-0.5 0.0M121.8 472.0l-0.6 0.7M70.2 482.4l-1.4 0.4M52.0 502.4l0.3 0.2M119.2 432.6l0.9 0.6M109.8 455.6l-0.0 1.1M139.7 478.1l-0.8 1.1M101.6 468.7l0.3 0.1M99.0 473.3l1.1 1.0M79.5 449.8l0.2 1.6M63.1 420.9l-0.3 0.6M86.6 406.5l-0.8 0.2M115.1 420.5l-0.3 0.1M129.5 398.2l-0.1 0.7M160.6 444.1l-0.2 0.1M73.0 511.0l0.1 0.2M76.0 434.5l-0.1 0.7M81.4 448.3l0.0 0.5M107.7 460.4l-0.3 1.2M99.8 416.5l-0.4 0.1M81.3 441.3l0.1 0.5M149.5 427.0l-0.2 1.0M59.7 443.0l0.9 0.4M133.7 494.9l-0.4 0.1M159.8 450.9l-0.3 0.1M92.1 475.5l-0.8 0.4M149.0 482.9l0.3 1.1M108.0 404.1l-1.3 0.4M153.4 419.2l-0.2 0.2M105.3 427.1l-0.0 0.7M111.9 443.2l-0.8 0.8M77.9 414.5l0.5 0.4M96.7 451.6l-1.2 1.1M76.2 426.5l-0.0 0.2M122.0 394.6l-0.3 1.0M91.0 511.6l0.1 0.2M57.7 419.4l-0.8 0.9M87.2 498.4l0.5 0.3M114.3 455.5l-0.5 0.4M154.8 467.4l-0.6 0.8M70.2 459.4l-0.2 0.0M84.1 427.7l0.9 0.9M123.9 406.4l-0.9 1.1M52.4 392.1l-0.4 1.4M111.4 451.9l0.3 1.0M156.1 463.3l-0.6 0.6M152.3 484.2l-0.0 0.6M81.0 510.1l-0.1 0.3M108.0 442.5l-0.2 0.6M155.1 449.4l-0.5 0.3M152.8 456.9l-0.1 0.8M159.5 459.0l-0.1 0.7M100.1 423.3l0.1 0.6M53.0 435.1l1.1 0.1M55.7 501.0l0.3 0.5M111.6 425.9l-0.4 0.5M156.1 395.5l1.4 0.3M128.5 422.4l-0.3 0.6M106.4 423.6l-0.1 1.1M147.8 421.3l-0.2 1.0M151.8 448.9l-1.4 0.6M94.6 440.1l-1.0 0.1M109.3 485.2l-0.3 0.9M124.6 422.4l0.1 0.2M132.9 490.7l-1.1 1.2M136.2 403.0l0.8 1.3M57.5 497.8l-0.3 0.2M69.9 479.9l-0.1 0.2M109.4 413.4l-0.9 0.4M45.1 438.8l1.5 0.0M152.0 478.3l1.5 0.0M76.8 469.7l-0.7 0.7M59.7 436.4l-0.8 0.2M62.5 469.4l0.6 1.2M89.1 491.8l-0.4 0.2M155.9 432.2l-0.1 0.3M160.6 510.2l-0.2 0.3M125.3 447.6l0.0 0.5M63.0 493.2l-0.4 1.2M134.6 439.3l-0.1 0.6M124.5 443.0l-0.5 0.4M90.6 400.5l0.5 0.1M46.0 441.7l0.5 1.3M48.8 510.8l1.3 0.4M88.1 420.2l-0.2 0.7M46.5 406.0l-0.6 1.0M166.0 421.2l-0.5 0.5M155.8 420.6l0.3 1.4M99.5 489.6l-0.1 0.7M132.0 469.6l0.6 1.5M55.8 494.0l-0.8 0.9M101.6 482.0l1.1 0.2M150.5 440.0l-0.8 0.9M105.6 484.5l0.0 0.4M107.8 482.4l0.7 0.4M146.6 392.0l-0.6 0.3M88.7 475.7l-0.1 0.6M64.0 441.7l-1.5 0.5M132.4 475.0l-0.8 1.2M64.0 408.2l-0.2 0.1M108.7 439.6l-1.0 0.3M71.7 397.9l0.1 1.0M101.0 461.5l0.7 0.1M145.5 425.7l0.4 0.3M158.9 496.5l0.2 0.6M89.9 498.3l-1.4 0.2M127.6 404.8l-0.4 0.1M134.0 434.1l1.1 0.1M74.9 498.8l1.0 0.6M97.4 396.1l0.4 0.5M139.2 484.8l-0.4 0.1M69.9 436.0l0.3 0.4" stroke="#1cd81c" stroke-width="1.7"/>
<path d="M70.6 405.4l0.0 0.0M72.7 405.3l0.0 0.0M74.9 402.2l0.0 0.0M78.3 402.0l0.0 0.0M94.1 403.0l0.0 0.0M92.8 401.1l0.0 0.0M110.9 401.1l0.0 0.0M127.6 399.6l0.0 0.0M135.8 398.2l0.0 0.0M144.0 399.5l0.0 0.0M160.4 404.2l0.0 0.0M161.2 405.5l0.0 0.0M161.8 405.3l0.0 0.0M59.6 400.3l0.0 0.0M66.5 401.4l0.0 0.0M54.7 423.1l0.0 0.0M56.9 421.4l0.0 0.0M67.1 419.2l0.0 0.0M87.1 422.3l0.0 0.0M96.2 422.6l0.0 0.0M103.1 419.4l0.0 0.0M103.1 419.1l0.0 0.0M106.2 416.9l0.0 0.0M111.2 417.7l0.0 0.0M68.7 429.4l0.0 0.0M68.9 430.8l0.0 0.0M67.9 432.0l0.0 0.0M64.4 435.3l0.0 0.0M64.5 435.4l0.0 0.0M61.7 438.7l0.0 0.0M61.7 438.6l0.0 0.0M57.7 446.0l0.0 0.0M58.5 450.1l0.0 0.0M81.6 426.9l0.0 0.0M93.6 445.0l0.0 0.0M91.8 444.5l0.0 0.0M95.8 450.1l0.0 0.0M98.3 451.3l0.0 0.0M103.0 451.2l0.0 0.0M106.6 453.5l0.0 0.0M109.5 454.0l0.0 0.0M102.0 422.3l0.0 0.0M103.0 424.9l0.0 0.0M102.3 427.9l0.0 0.0M105.8 433.1l0.0 0.0M107.7 439.9l0.0 0.0M106.4 445.0l0.0 0.0M108.2 453.3l0.0 0.0M108.7 416.5l0.0 0.0M105.2 411.4l0.0 0.0M103.1 408.1l0.0 0.0M104.6 408.8l0.0 0.0M105.5 406.9l0.0 0.0M105.5 459.2l0.0 0.0M102.6 459.6l0.0 0.0M104.6 467.4l0.0 0.0M98.4 467.9l0.0 0.0M99.3 471.0l0.0 0.0M96.9 471.1l0.0 0.0M91.6 476.2l0.0 0.0M92.9 474.9l0.0 0.0M88.8 471.6l0.0 0.0M82.2 472.2l0.0 0.0M74.4 470.1l0.0 0.0M67.5 470.1l0.0 0.0M62.5 470.0l0.0 0.0M56.0 467.4l0.0 0.0M54.9 467.8l0.0 0.0M48.3 472.9l0.0 0.0M109.3 453.5l0.0 0.0M110.2 455.8l0.0 0.0M117.7 460.8l0.0 0.0M120.2 462.8l0.0 0.0M123.3 468.7l0.0 0.0M125.2 467.5l0.0 0.0M130.5 467.3l0.0 0.0M137.8 471.9l0.0 0.0M139.0 470.1l0.0 0.0M159.4 464.0l0.0 0.0M133.9 423.6l0.0 0.0M139.0 426.1l0.0 0.0M149.2 423.7l0.0 0.0M134.1 416.2l0.0 0.0M136.0 415.2l0.0 0.0M134.1 412.9l0.0 0.0M136.6 406.8l0.0 0.0M136.9 407.1l0.0 0.0M123.1 426.4l0.0 0.0M124.0 428.0l0.0 0.0M122.9 433.4l0.0 0.0M123.0 433.4l0.0 0.0M122.7 440.9l0.0 0.0M145.1 450.4l0.0 0.0M148.1 448.7l0.0 0.0M149.8 448.3l0.0 0.0M155.8 446.6l0.0 0.0M159.7 446.1l0.0 0.0M161.1 444.5l0.0 0.0M141.5 425.8l0.0 0.0M145.4 436.1l0.0 0.0M144.5 442.2l0.0 0.0M140.1 444.6l0.0 0.0M140.6 447.8l0.0 0.0M140.3 453.1l0.0 0.0M139.5 456.3l0.0 0.0M138.5 461.4l0.0 0.0M132.5 469.9l0.0 0.0M92.9 475.6l0.0 0.0M94.2 479.1l0.0 0.0M92.2 479.2l0.0 0.0M96.0 488.8l0.0 0.0M96.7 488.3l0.0 0.0M94.6 493.9l0.0 0.0M95.9 494.7l0.0 0.0M97.4 492.4l0.0 0.0M103.7 497.5l0.0 0.0M105.3 496.1l0.0 0.0M104.2 499.5l0.0 0.0M105.1 500.9l0.0 0.0M113.1 501.5l0.0 0.0M65.0 471.1l0.0 0.0M66.5 474.6l0.0 0.0M68.3 479.3l0.0 0.0M61.6 484.5l0.0 0.0M60.4 485.3l0.0 0.0M54.3 488.3l0.0 0.0M53.2 491.8l0.0 0.0M52.1 492.7l0.0 0.0M55.0 493.1l0.0 0.0M57.9 497.9l0.0 0.0M63.2 498.6l0.0 0.0M69.7 493.3l0.0 0.0M78.7 496.0l0.0 0.0M92.6 487.8l0.0 0.0M56.2 490.3l0.0 0.0M57.3 491.5l0.0 0.0M57.2 502.2l0.0 0.0M54.0 500.4l0.0 0.0M53.9 507.1l0.0 0.0M126.8 468.4l0.0 0.0M125.2 469.5l0.0 0.0M125.0 481.0l0.0 0.0M126.7 484.1l0.0 0.0M123.1 487.7l0.0 0.0M122.2 492.4l0.0 0.0M117.0 496.6l0.0 0.0M119.9 497.0l0.0 0.0M145.0 470.4l0.0 0.0M146.0 477.1l0.0 0.0M146.0 477.8l0.0 0.0M145.7 482.4l0.0 0.0M141.5 487.5l0.0 0.0M152.6 413.5l0.0 0.0M157.5 420.8l0.0 0.0M157.6 425.3l0.0 0.0M72.8 496.6l0.0 0.0M75.2 495.2l0.0 0.0M73.0 506.1l0.0 0.0M52.8 445.4l0.0 0.0M75.3 435.5l0.0 0.0M117.0 410.9l0.0 0.0M119.9 413.7l0.0 0.0M118.0 418.4l0.0 0.0M120.8 419.6l0.0 0.0M98.6 471.6l0.0 0.0M101.0 473.6l0.0 0.0M103.5 473.6l0.0 0.0M109.3 478.4l0.0 0.0M108.9 479.9l0.0 0.0M119.7 489.4l0.0 0.0M151.1 460.3l0.0 0.0M154.6 459.4l0.0 0.0M156.5 452.4l0.0 0.0M156.5 452.3l0.0 0.0M158.0 449.6l0.0 0.0M79.7 473.0l0.0 0.0M79.2 474.2l0.0 0.0M77.8 477.0l0.0 0.0M74.0 486.9l0.0 0.0M102.0 450.3l0.0 0.0M99.7 456.5l0.0 0.0M102.7 456.9l0.0 0.0M100.0 454.7l0.0 0.0M113.4 451.9l0.0 0.0M100.4 455.2l0.0 0.0M97.2 452.2l0.0 0.0M106.6 449.7l0.0 0.0M101.1 451.7l0.0 0.0M111.1 450.4l0.0 0.0M109.9 449.8l0.0 0.0M107.1 452.2l0.0 0.0M104.7 454.3l0.0 0.0M110.2 448.8l0.0 0.0M103.3 451.7l0.0 0.0M103.7 452.0l0.0 0.0M104.3 450.5l0.0 0.0M103.3 414.6l0.0 0.0M105.4 422.2l0.0 0.0M102.5 420.9l0.0 0.0M95.4 420.7l0.0 0.0M102.4 421.3l0.0 0.0M53.8 487.9l0.0 0.0M58.4 484.2l0.0 0.0M58.7 491.3l0.0 0.0M138.9 420.6l0.0 0.0M135.5 428.2l0.0 0.0M140.5 423.6l0.0 0.0M134.0 425.0l0.0 0.0M139.3 428.7l0.0 0.0M107.5 502.4l0.0 0.0M108.5 498.4l0.0 0.0M107.6 502.5l0.0 0.0M107.5 498.8l0.0 0.0M92.0 433.2l0.0 0.0M88.3 437.2l0.0 0.0M126.8 405.6l0.0 0.0M123.8 407.3l0.0 0.0M122.3 405.8l0.0 0.0M122.4 404.7l0.0 0.0M67.3 414.7l0.0 0.0M64.9 416.0l0.0 0.0M66.3 413.8l0.0 0.0M146.8 489.8l0.0 0.0M148.9 488.2l0.0 0.0M149.3 490.6l0.0 0.0M152.5 490.1l0.0 0.0M149.4 492.5l0.0 0.0M54.4 468.9l0.0 0.0M126.0 469.4l0.0 0.0M126.8 472.7l0.0 0.0M130.6 474.6l0.0 0.0M129.3 469.0l0.0 0.0M126.7 468.3l0.0 0.0M130.0 474.8l0.0 0.0M139.3 478.7l0.0 0.0M99.6 473.8l0.0 0.0M86.2 406.6l0.0 0.0M115.0 420.5l0.0 0.0M73.1 511.1l0.0 0.0M99.6 416.5l0.0 0.0M91.7 475.7l0.0 0.0M149.2 483.4l0.0 0.0M153.3 419.3l0.0 0.0M121.9 395.1l0.0 0.0M87.5 498.5l0.0 0.0M70.1 459.4l0.0 0.0M123.5 406.9l0.0 0.0M155.8 463.6l0.0 0.0M55.8 501.2l0.0 0.0M106.4 424.1l0.0 0.0M147.7 421.8l0.0 0.0M151.1 449.2l0.0 0.0M45.8 438.9l0.0 0.0M59.3 436.5l0.0 0.0M155.8 432.3l0.0 0.0M46.2 406.5l0.0 0.0M108.2 482.6l0.0 0.0M146.3 392.1l0.0 0.0M88.6 476.0l0.0 0.0M63.2 442.0l0.0 0.0M63.9 408.2l0.0 0.0M127.4 404.8l0.0 0.0M134.6 434.2l0.0 0.0M97.6 396.3l0.0 0.0M139.0 484.8l0.0 0.0M70.0 436.2l0.0 0.0" stroke="#3cf23c" stroke-width="1.1"/>
</g>
<rect x="138.0" y="504.3" width="26.7" height="1.8" fill="#fff"/>
<text x="151.3" y="502.0" font-size="6.5" text-anchor="middle" style="fill:#fff;stroke:#000;stroke-width:1.6;paint-order:stroke">250 μm</text>
<text x="165.0" y="511.6" font-size="4.4" text-anchor="end" style="fill:#f0f4f0">2X</text>
<path d="M138.3 508.5h1.2v2.4" stroke="#c8d0c8" stroke-width="0.5" fill="none"/>
</g>
<g id="panel-ha">
<clipPath id="c-ha"><rect x="169.0" y="390.0" width="123.7" height="123.29999999999995"/></clipPath>
<rect x="169.0" y="390.0" width="123.7" height="123.29999999999995" fill="#020402"/>
<g clip-path="url(#c-ha)" filter="url(#soft)" fill="none" stroke-linecap="round">
<path d="M287.3 407.7l-0.5 0.0M283.0 474.2l1.8 0.3M242.4 428.2l-1.1 0.5M176.0 455.4l-1.0 0.2M214.1 443.1l-1.9 0.4M232.5 439.4l-0.4 0.1M213.4 413.1l-0.2 1.6M282.6 446.2l-0.1 1.2M291.6 481.0l-0.9 1.0M213.0 486.4l-0.1 0.0M200.7 496.3l0.2 0.2M227.8 415.2l-1.2 1.4M271.9 395.1l-0.1 0.1M195.0 449.9l-1.0 1.0M226.4 420.9l0.2 0.2M174.7 450.0l-0.1 0.1M246.6 510.7l0.8 0.7M269.9 391.4l-0.2 0.4M268.5 499.5l-1.0 0.5M193.1 424.2l-0.9 0.5M254.7 489.6l0.5 1.7M193.3 410.0l0.2 0.5M234.9 484.3l-1.4 0.2M268.3 491.4l0.4 0.1M249.5 429.7l0.2 0.1M283.0 426.9l0.2 0.2M224.1 430.7l0.1 0.9M213.1 489.1l-0.2 1.8M287.7 436.2l-1.1 0.2M196.1 406.0l0.2 0.3M231.1 398.1l0.7 1.7M240.3 446.5l1.4 0.2M204.2 391.5l0.9 0.4M248.1 467.3l-1.2 0.3M207.1 419.7l-0.7 0.2M218.1 457.8l0.5 1.8M238.5 490.8l-1.5 0.6M239.9 463.7l-0.1 0.8M240.0 418.1l1.4 0.6M175.3 464.4l-0.3 0.2M252.6 477.7l0.7 0.3M249.0 421.6l0.3 1.6M189.2 402.5l0.0 0.4M240.2 418.4l0.3 0.1M178.7 491.4l-1.3 0.3M208.2 492.2l0.1 0.1M267.3 467.0l-0.7 1.3M179.4 500.1l-1.4 0.5M173.3 408.5l-1.5 0.7M196.9 433.3l1.2 0.6M256.0 423.9l0.5 0.7M280.9 414.7l0.5 0.3M226.4 453.6l-0.0 0.6M208.3 395.9l1.1 0.2M253.7 451.9l0.9 1.3M271.8 401.6l0.0 1.8M275.1 430.2l0.1 0.3M202.2 484.1l1.5 0.3M260.8 482.5l0.0 2.0M264.9 419.1l0.8 0.2M265.1 400.6l0.1 1.0M253.6 504.4l-0.2 1.4M242.7 438.6l-0.6 0.5M239.8 434.7l-0.7 1.3M258.4 483.1l-0.3 0.5M226.6 396.5l0.4 0.3M232.9 396.1l1.4 0.4M185.0 486.3l1.0 0.3M193.8 453.4l-0.3 0.4M240.2 424.4l0.3 1.6M213.4 439.1l0.3 0.4M205.9 472.0l-0.7 1.7M224.2 415.9l-0.0 1.5M290.5 490.8l0.2 1.1M273.2 431.2l-1.2 0.4M216.0 438.6l-0.3 1.6M194.8 449.0l0.9 0.3M245.1 442.7l-0.0 0.5M229.5 477.3l0.2 1.3M287.5 410.4l1.3 0.5M219.5 492.2l1.4 0.4M210.2 443.7l-1.3 0.1M225.2 425.7l-1.7 0.6M231.1 454.7l1.2 1.3M290.7 511.4l-0.5 0.7M235.1 451.2l-1.5 0.3M201.7 436.0l0.1 0.3M263.8 426.0l1.5 0.5M288.2 398.6l0.1 0.2M231.6 408.3l-1.7 0.6M193.8 442.8l0.3 0.5M223.6 396.5l1.6 0.7M196.0 436.8l0.9 1.4M186.4 413.7l0.1 0.1M189.0 404.7l-0.2 0.7M246.0 408.2l-1.3 0.7M179.3 457.9l-0.1 1.4M190.9 451.7l0.1 1.5M205.5 448.4l1.1 0.8M188.2 488.0l1.5 0.6M172.4 426.1l-0.7 0.9M289.4 450.8l0.8 1.4M169.8 467.7l-0.6 0.6M284.0 404.0l0.7 1.0M195.8 437.8l0.6 0.1M234.4 445.0l1.2 0.1M270.7 442.5l-0.6 1.2M237.0 491.3l-0.7 0.5M190.1 430.3l0.7 1.0M240.8 443.3l-0.5 0.2M276.5 453.9l-0.5 1.0M185.9 405.8l0.1 0.1M218.5 437.0l0.2 0.4M222.7 502.3l-1.0 0.4M248.2 449.2l-1.1 0.4M192.9 427.6l-0.2 0.8M229.3 455.1l-0.2 0.4M173.7 402.9l1.2 0.8M182.4 392.4l0.5 0.3M290.0 394.1l0.3 0.7M288.4 446.1l-0.5 1.3M286.1 422.6l-0.4 0.6M215.2 395.2l0.7 0.3M267.7 492.2l0.1 2.0M180.7 485.3l1.4 0.2M244.8 473.1l-1.5 0.2M172.5 411.8l-0.2 0.9M287.9 482.8l0.6 0.1M220.2 478.1l0.3 1.3M288.3 479.2l0.5 1.3M204.2 485.2l0.1 0.3M180.9 399.0l1.4 0.4M245.2 425.5l0.4 1.9M290.8 477.1l0.3 0.2M223.1 506.6l-1.0 0.6M202.7 445.2l-0.7 1.7M208.9 508.4l0.6 1.3M195.8 394.8l0.0 0.4M214.2 479.1l-1.3 1.2M174.1 471.9l-0.6 1.3M193.3 395.1l-0.3 1.7M184.7 498.6l-0.2 0.4M291.4 447.1l-0.1 0.2M200.8 423.3l-0.6 1.5M192.4 491.0l0.2 0.2M220.5 483.1l-0.0 0.1M289.1 486.5l-0.4 1.0M225.0 452.2l1.7 0.1M279.3 397.2l-0.8 0.3M171.6 470.8l-1.3 0.2M201.5 469.7l1.5 0.6M169.9 429.2l-0.1 0.3M252.1 466.1l0.9 0.2M208.0 453.5l1.8 0.4M260.1 484.9l-0.3 1.7M173.6 506.0l-0.0 0.7M187.3 481.0l-0.1 0.6M254.2 467.4l-0.5 0.2M274.9 508.4l-0.2 0.1M261.4 509.8l0.0 0.1M198.5 408.6l0.5 1.3M202.2 473.5l1.1 0.3M183.7 489.4l-0.3 0.9M260.6 490.4l-0.0 0.3M265.9 399.0l1.5 0.8M174.8 443.2l-1.9 0.2M220.7 494.2l0.6 0.4M248.6 427.9l0.9 1.0M248.3 491.4l-0.5 0.2M234.6 494.9l0.5 0.2M279.4 438.3l0.5 0.7M194.6 428.8l0.5 1.5M192.0 416.5l0.3 0.3M195.8 410.6l0.6 0.4M268.1 416.9l-0.9 1.4M169.6 481.9l0.4 0.3M240.7 484.0l1.5 1.1M224.7 433.6l-0.3 0.1M210.0 494.8l-1.5 0.7M171.5 413.3l-0.5 0.9M271.4 425.9l-0.5 0.7M240.4 474.9l0.3 0.8M270.2 485.2l0.5 1.5M230.2 403.3l0.2 0.5M252.8 442.8l1.0 0.6M266.7 426.5l1.4 0.2M230.9 434.0l-0.6 0.8M187.2 458.8l0.2 1.5M210.0 410.9l0.9 1.2M229.2 500.8l0.6 0.5M241.9 490.6l-0.7 0.1M213.2 511.6l0.0 0.2M270.5 400.2l0.4 0.5M230.7 460.5l0.6 0.6M278.9 479.7l-0.7 0.3M200.9 457.0l-0.1 0.6M183.5 509.4l-0.4 1.6M181.1 455.6l-0.0 0.7M271.5 445.8l0.3 0.2M261.8 400.3l0.2 0.2M182.6 484.7l0.4 0.7M281.1 412.0l-1.2 0.6M199.0 402.7l-0.4 0.1M204.6 476.1l-0.7 0.0M183.7 449.9l0.7 1.8M286.8 454.8l0.3 0.9M237.9 404.6l1.1 0.1M184.7 431.6l0.1 0.7M215.8 495.7l-1.8 0.4M247.6 483.4l0.3 0.2M244.2 496.9l-0.9 0.1M241.4 421.7l-0.3 0.1M191.5 456.6l-1.1 0.5M287.3 440.0l0.8 0.8M214.0 479.5l1.3 0.3M231.3 496.7l0.3 0.7M221.7 436.0l-1.7 0.2M196.8 448.7l-0.9 0.3M223.0 401.8l-1.2 1.6M205.2 478.4l-0.5 0.1M198.4 428.8l1.6 0.6M244.4 508.4l0.4 0.9M255.6 392.3l0.1 0.2M262.8 477.7l-0.1 0.6M236.4 441.0l0.4 0.9M234.6 396.4l0.4 1.5M240.1 496.4l0.3 0.2M215.0 392.2l-1.0 0.4M228.9 473.7l0.1 0.3M195.8 397.2l0.2 0.3M239.3 499.8l-0.7 0.1M199.3 476.7l0.9 0.2M268.5 461.4l-0.5 1.7M291.5 496.2l0.3 0.3M253.7 390.4l-1.3 0.9M203.0 508.9l0.7 0.5M209.9 418.6l0.6 1.7M241.1 412.4l0.4 1.9M250.3 509.3l-0.5 1.8M193.8 508.1l-0.5 0.3M234.7 483.6l1.0 1.2M227.6 391.2l0.5 0.1M243.6 446.2l-0.5 0.9M190.4 461.8l-0.2 0.6M182.4 495.1l0.7 0.5M257.0 463.9l-0.4 0.1M245.1 429.9l-0.9 0.7M197.3 470.4l-0.4 0.3M186.9 421.7l-0.5 0.8M196.5 511.5l0.1 0.1M254.1 510.1l0.1 0.0M268.9 437.5l-1.6 0.2M181.6 454.6l0.5 0.8M253.6 479.7l0.4 1.0M193.8 404.7l-0.4 1.7M205.0 511.4l0.1 0.7M212.3 394.5l-1.1 0.5M286.9 476.9l0.5 0.8M252.4 391.5l-0.1 0.6M204.5 454.1l0.2 0.1M206.5 495.0l-0.3 0.0M174.3 483.3l-0.3 0.1M216.6 471.4l0.3 0.3M292.7 426.3l-1.6 0.6M222.3 452.5l-0.5 0.3M219.1 394.3l-0.6 1.1M217.1 481.7l2.0 0.1M191.7 460.0l0.2 0.2M249.0 452.2l-0.8 1.7M237.6 447.8l-0.4 0.3M203.2 418.7l1.0 0.3M240.6 486.8l0.9 0.4M259.7 504.0l0.2 1.1M171.4 394.8l0.9 1.3M197.4 464.2l-0.3 0.2M205.9 437.1l0.4 0.1M245.6 466.0l-0.2 0.0M267.4 394.5l0.6 1.5M228.3 425.2l0.8 0.6M265.4 475.6l-1.8 0.8M283.5 491.0l-1.0 0.2M257.7 486.4l0.4 1.9M260.5 466.8l-0.4 0.6M288.5 419.3l0.2 1.1M187.8 390.5l-1.0 0.8M212.8 395.0l1.3 1.2M241.6 505.1l0.3 1.8M288.7 410.2l-0.5 0.3M177.2 392.1l1.0 0.8M189.8 425.0l0.8 0.2M290.2 467.4l-1.1 0.0M235.3 406.6l-1.7 1.0M174.3 479.1l-1.0 0.7M230.2 494.1l0.4 0.5M217.6 481.8l-0.8 1.1M284.2 401.0l0.1 0.0M227.0 457.1l1.0 0.9M225.9 431.4l1.5 1.1M229.9 451.4l0.6 0.2M179.9 503.1l0.7 0.2M224.8 409.7l1.6 0.4M195.6 500.4l0.6 0.5M270.0 500.9l-0.9 0.2M224.6 481.1l-0.4 0.6M194.8 477.8l-0.1 0.5M232.1 417.4l0.4 1.3M196.1 458.6l0.6 0.5M283.4 449.2l-1.1 0.1M236.3 494.5l1.8 0.5M258.1 419.9l1.3 0.2M268.6 404.9l-0.6 0.6M223.0 483.2l1.4 0.6M283.1 408.6l1.3 0.7M276.4 480.8l-1.0 0.0M268.8 412.2l0.6 1.0M184.8 417.3l-0.2 1.6M282.5 431.4l-0.1 0.5M234.1 448.5l1.0 0.3M222.8 439.8l0.3 0.6M204.9 464.5l-0.1 0.0M266.8 477.4l0.5 0.5M251.2 501.0l-1.3 0.5M201.6 480.4l-0.6 0.7M256.6 473.3l0.6 1.7M217.3 495.7l-0.6 0.7M243.5 431.7l-1.5 0.2M206.4 394.9l0.1 0.0M170.2 419.4l1.0 1.0M285.6 459.0l0.6 0.3M286.6 450.6l-0.0 0.2M176.4 468.3l1.5 1.2M202.4 442.1l0.0 0.4M264.6 488.2l0.4 1.2M261.3 425.9l-0.3 1.0M170.1 477.3l0.0 0.5M289.1 504.8l-0.8 0.9M171.7 509.0l0.1 0.1M271.8 498.4l0.5 0.4M231.2 431.4l-0.1 1.6M268.5 421.4l0.7 1.1M235.8 413.0l1.4 0.4M256.5 470.8l0.4 0.2M282.4 398.0l0.3 0.2M187.9 447.9l0.3 0.7M279.4 466.1l-0.6 1.6M179.8 492.7l0.7 0.1M258.1 392.4l0.2 0.5M273.5 458.1l-0.3 0.0M203.3 458.2l0.3 0.1M278.5 400.4l0.5 0.2M189.6 498.9l0.7 1.5M251.1 411.3l0.1 0.2M195.2 468.9l-1.3 0.9M184.4 426.7l0.5 0.9M290.9 474.4l0.1 0.6M194.9 391.0l-0.2 1.5M282.0 402.0l-0.6 1.7M225.9 492.5l1.3 0.8M241.6 444.5l0.0 0.7M222.9 397.0l-0.7 1.1M183.6 504.1l1.5 1.3M249.3 447.7l-0.2 0.1M209.1 427.5l-0.1 0.5M189.0 440.1l0.1 0.1M284.5 438.5l-0.1 0.4M196.1 496.7l0.7 0.6M278.3 426.2l0.9 0.4M170.3 486.4l1.3 0.8M201.1 453.8l-0.6 0.1M270.8 462.3l0.9 1.1M204.9 496.4l-0.2 0.0M189.9 492.6l0.1 0.1M204.0 429.0l-0.3 0.8M260.8 430.7l1.2 0.2M187.3 483.7l-0.2 0.1" stroke="#109a10" stroke-width="1.7"/>
<path d="M237.6 406.7l1.9 0.1M193.6 478.4l0.9 1.0M292.3 491.4l-1.1 1.6M258.6 424.3l-0.1 0.2M247.0 457.7l-0.3 1.9M238.6 411.6l-1.8 0.1M206.9 437.1l-0.2 0.0M189.3 492.7l0.3 0.8M278.8 453.9l0.2 0.3M276.9 440.4l-0.2 0.1M242.5 472.5l-0.6 0.7M170.3 465.7l0.4 1.7M241.3 409.4l-0.8 0.4M174.2 466.1l1.0 0.4M191.2 501.3l-0.2 0.2M195.3 468.4l1.2 0.0M170.8 444.6l-0.8 1.3M267.0 464.3l-0.2 0.2M179.2 510.0l-1.8 0.2M206.1 416.2l-0.0 0.2M193.3 447.2l0.0 0.7M177.8 496.7l-1.1 0.4M212.1 511.0l-1.1 1.0M262.8 426.6l-0.2 0.0M182.6 502.2l-0.4 0.2M240.2 491.3l-0.1 0.6M287.8 469.3l0.3 1.4M175.6 400.0l-1.0 1.5M214.9 479.7l0.2 1.6M220.5 435.5l0.5 0.3M201.3 433.0l-0.4 0.4M228.7 494.4l0.4 0.4M232.3 439.2l-1.3 1.1M241.0 451.0l0.6 0.6M177.3 395.2l0.2 2.0M194.8 434.4l-1.0 0.8M242.5 438.7l0.6 0.0M242.4 480.6l0.2 0.5M221.2 478.2l1.2 1.2M235.9 423.8l-0.1 0.4M171.2 403.0l-1.3 0.3M261.0 480.8l-0.6 0.2M256.0 397.2l0.3 1.0M229.7 395.6l-1.6 0.7M171.0 411.6l0.1 0.1M272.6 470.4l-0.1 0.3M221.0 498.3l1.0 1.0M198.1 499.9l0.1 0.0M195.9 446.6l0.2 1.6M279.0 392.7l0.3 1.3M279.6 468.6l0.4 0.5M251.8 506.6l-0.6 1.7M286.4 418.3l0.4 0.3M256.6 429.2l-0.8 0.6M236.6 416.2l0.1 0.1M178.0 418.0l0.8 0.6M176.4 461.3l0.2 0.8M188.4 454.9l-0.8 0.2M240.3 480.6l-0.1 1.6M203.7 496.6l0.4 0.0M267.4 465.4l-0.9 0.6M275.0 501.9l0.1 0.2M243.7 428.9l0.3 0.9M290.9 464.5l-1.5 1.2M238.4 488.0l1.0 0.3M252.8 445.0l-0.6 0.1M181.2 490.8l-0.3 1.6M171.4 463.2l0.5 0.5M177.5 482.2l0.6 0.4M232.0 490.2l0.2 0.6M268.8 437.3l-0.5 0.2M257.5 502.3l0.1 1.0M237.0 418.8l0.1 0.9M221.6 476.5l2.0 0.1M289.7 452.9l0.6 0.1M189.7 488.7l-0.7 1.2M292.4 500.9l-2.0 0.1M181.0 484.3l-1.6 0.7M250.9 447.8l-0.5 1.5M241.0 474.9l1.4 0.6M176.8 470.4l-0.1 0.5M265.0 495.1l0.1 1.5M246.1 469.0l0.2 1.4M246.0 411.2l-0.6 0.5M213.3 478.4l-0.2 0.5M202.4 472.8l-0.8 0.9M196.9 463.3l0.7 0.9M174.9 484.6l0.2 0.2M219.1 478.1l0.0 0.5M222.9 512.0l-1.3 1.1M289.7 399.4l0.6 0.5M215.3 436.5l-0.1 0.1M196.6 444.1l0.2 0.2M241.4 426.1l0.4 0.7M173.6 456.0l-0.3 0.8M169.2 484.3l1.3 1.3M285.1 426.3l0.5 0.9M233.0 398.6l-1.7 0.7M186.9 427.5l-2.0 0.2M260.6 421.7l0.6 0.1M222.3 435.6l0.5 0.7M291.9 421.9l-0.2 0.0M194.9 426.7l-0.9 0.1M207.3 454.0l-0.1 0.0M220.6 461.2l0.1 1.4M194.9 447.7l-0.8 1.8M202.7 456.6l-0.3 0.7M279.4 437.8l-0.3 0.6M283.0 433.5l0.8 0.3M219.4 405.1l-0.1 0.6M255.9 395.1l0.3 0.2M209.9 415.6l0.6 0.0M197.0 505.9l0.7 0.8M242.6 434.3l1.1 0.9M257.5 444.2l-1.0 1.1M182.1 403.4l1.5 1.3M281.3 457.8l-0.7 0.2M173.8 393.9l-0.3 0.2M190.4 395.5l-0.1 0.1M285.0 396.3l0.5 1.2M226.5 401.5l1.7 1.0M252.7 498.5l-0.3 0.8M210.4 439.2l1.0 1.2M280.6 506.3l1.5 1.1M201.2 412.0l-0.5 1.1M215.3 483.9l-0.0 1.6M231.6 450.1l0.3 0.9M242.9 398.2l-0.9 0.1M191.0 457.5l0.4 1.3M240.3 416.9l0.8 0.2M202.3 468.7l0.1 1.4M253.9 405.3l1.3 0.1M261.4 508.5l-0.5 1.3M248.5 494.6l-0.4 1.3M267.4 440.6l1.6 0.9M227.2 428.8l1.9 0.4M276.0 426.1l-0.2 0.0M184.1 407.8l0.4 0.1M220.5 503.5l-0.3 0.3M227.8 476.4l-1.5 0.4M290.9 444.5l-0.6 0.5M251.7 430.5l-0.2 1.4M173.9 507.2l0.0 0.2M189.0 405.6l-0.1 0.1M211.6 436.6l-0.1 0.3M194.1 441.4l1.4 1.2M251.7 391.0l-0.2 1.8M200.3 459.5l1.2 0.7M177.8 430.2l0.7 0.6M267.5 468.3l0.3 0.5M259.9 484.2l-0.4 0.7M200.0 475.2l0.4 0.2M281.9 395.5l-0.5 1.0M284.3 434.5l-0.2 2.0M245.4 461.6l0.6 1.5M222.5 495.1l-0.3 0.5M274.7 489.4l-0.0 0.2M188.5 435.5l0.5 0.0M229.8 440.8l-0.1 0.5M285.5 480.5l-1.1 0.2M214.6 427.4l1.0 0.2M270.9 435.4l-0.2 0.5M216.0 413.8l-0.6 0.7M254.3 482.0l-0.1 0.1M228.8 412.2l-0.0 0.3M197.2 460.4l0.7 1.7M222.1 456.8l0.5 0.3M223.8 487.1l-0.2 0.3M200.6 424.0l0.2 0.7M266.5 461.1l-1.0 1.1M180.5 423.0l1.1 1.0M257.0 460.1l1.4 0.1M190.9 420.5l-0.6 0.7M267.7 458.5l0.6 1.4M239.2 446.4l0.5 1.3M182.7 455.3l-0.9 0.5M212.3 493.7l1.5 0.4M189.6 390.5l1.1 1.5M258.8 406.8l-0.8 0.8M206.5 418.9l-2.0 0.4M252.0 460.0l-1.6 0.2M218.7 430.3l0.9 1.3M242.8 509.4l0.5 1.9M225.8 397.5l1.1 1.0M259.5 500.9l-0.3 0.3M206.8 464.0l0.5 1.7M198.9 452.2l1.5 1.2M212.3 495.2l-1.4 1.3M271.5 433.1l0.9 0.6M219.5 509.7l0.3 0.4M286.5 449.6l-0.1 0.3M196.6 495.7l1.3 0.7M199.0 435.0l-1.1 0.8M285.9 470.1l-1.7 1.0M209.0 473.6l0.7 1.0M221.5 432.6l-0.7 0.2M174.7 500.6l0.1 0.2M172.9 415.9l-0.4 0.8M246.0 393.0l0.1 0.7M193.1 430.9l-0.7 1.3M231.9 427.0l0.1 0.6M183.8 508.5l-0.1 1.2M261.1 413.3l-0.0 1.8M240.6 490.3l-1.5 0.7M203.5 488.1l-0.4 0.2M189.6 473.2l0.8 0.1M239.2 477.1l0.2 0.1M199.0 468.4l-1.0 1.0M193.0 475.6l1.2 0.8M275.9 431.6l1.3 1.4M199.7 409.8l0.8 0.1M201.3 510.8l0.0 0.1M259.2 409.5l0.0 0.3M193.8 445.0l1.2 0.2M186.2 497.7l-0.7 0.9M213.4 446.4l-0.2 1.5M279.0 434.5l-0.2 1.1M282.6 447.6l-0.3 0.3M264.1 473.2l0.0 0.2M286.1 414.9l0.3 0.2M263.1 481.1l-0.0 0.6M217.1 464.5l0.1 0.0M283.8 476.9l-0.6 1.8M212.4 512.4l1.7 0.3M291.9 510.4l-1.3 0.2M183.6 486.6l0.8 1.0M227.1 405.5l-0.1 0.4M242.0 442.1l-1.2 1.2M242.2 412.7l0.3 0.2M265.8 445.5l0.2 0.8M250.7 425.4l-1.7 0.0M213.4 442.4l1.1 0.1M260.6 468.3l0.4 1.8M191.6 454.6l-2.0 0.3M254.5 452.0l-0.7 1.0M254.9 462.7l-1.4 0.7M193.9 394.3l0.9 1.2M184.9 455.4l-0.1 1.8M173.1 493.3l-0.5 0.0M264.0 392.8l0.6 1.0M172.1 400.8l-0.9 0.1M222.4 427.2l0.8 1.1M177.9 501.7l-0.0 0.2M186.4 486.0l-0.1 0.8M251.7 482.0l0.1 0.2M285.8 431.3l1.3 1.2M213.8 454.1l0.1 0.5M265.6 489.3l-1.9 0.2M261.2 496.7l1.4 1.4M264.9 467.0l-1.4 0.3M270.6 435.5l-1.6 0.4M257.0 462.9l-1.2 0.3M256.4 482.8l-0.2 1.8M204.2 434.6l-0.1 0.9M215.6 508.6l1.1 0.1M219.8 418.6l0.8 0.2M190.7 476.3l0.6 0.6M201.1 496.7l-0.6 1.5M209.6 454.4l0.8 1.1M265.4 430.8l-0.1 0.0M262.4 442.7l-0.4 1.1M272.0 405.9l0.1 0.1M274.8 469.3l-0.2 1.3M194.4 455.2l-1.0 0.4M289.9 482.6l0.1 0.4M224.9 435.5l0.6 1.7M249.0 480.8l0.4 0.1M233.3 460.6l-0.1 0.1M195.4 481.4l-0.8 0.1M281.5 395.4l-0.3 1.7M284.9 474.3l-0.3 1.3M204.8 421.6l-0.1 0.6M281.0 408.6l-1.3 0.3M229.7 418.3l-0.2 0.4M234.2 488.0l-0.3 1.2M273.7 436.4l0.2 0.6M282.8 438.9l-0.7 1.2M241.3 432.0l0.9 1.0M278.3 465.4l-0.7 0.2M197.8 490.1l-0.1 1.3M265.3 462.4l-0.7 1.4M240.1 509.2l-1.1 1.0M224.9 474.7l-0.5 1.5M231.0 431.0l0.6 1.2M224.4 393.9l-0.5 0.8M194.8 398.8l0.1 0.9M230.8 465.4l0.9 1.2M246.0 501.1l0.4 0.3M248.5 440.8l0.3 1.7M283.3 450.1l1.3 1.3M197.1 397.2l0.9 0.5M201.2 496.0l-1.5 1.2M210.1 498.8l0.1 0.7M266.4 396.8l-0.6 0.8M245.8 511.1l-0.2 0.5M182.1 414.5l-0.2 1.4M213.3 504.9l0.4 0.4M231.5 493.6l-0.0 0.7M207.3 424.7l1.2 0.4M237.2 425.3l1.9 0.4M286.4 399.0l-0.5 1.9M233.9 419.6l-0.8 0.3M172.6 495.5l-1.1 0.2M173.9 440.2l-1.7 1.0M287.2 445.6l-0.3 0.7M214.4 498.8l1.7 0.3M194.5 429.6l0.6 0.2M172.1 426.8l0.5 0.1M221.1 480.9l-0.6 1.6M242.2 483.3l1.8 0.3M264.6 421.0l-0.8 0.2M233.8 477.7l-0.6 0.4M237.0 390.9l-0.5 1.1M241.2 405.6l0.4 0.3M193.9 470.0l1.2 1.5M265.7 434.1l-0.5 0.2M285.7 415.8l-1.6 0.1M288.4 491.1l0.1 1.1M173.3 419.8l-1.9 0.3M180.9 480.0l0.8 1.7M262.1 485.6l1.6 0.9M184.3 485.4l-0.2 0.0M213.7 476.2l1.5 0.7M254.7 499.1l1.6 0.8M272.9 497.1l0.2 0.1M191.5 440.0l-1.9 0.1M251.6 416.3l1.0 0.4M254.5 443.1l-0.2 0.6M280.0 402.0l-1.0 0.9M231.5 512.8l0.1 0.1M189.4 498.8l-0.6 0.6M247.9 422.9l-0.7 0.3M198.4 434.7l-0.7 1.3M244.1 404.8l-1.7 0.6M283.6 458.6l0.7 1.0M187.7 495.7l1.2 1.1M212.9 438.0l1.4 1.2M230.4 499.0l-0.9 1.7M289.8 454.2l0.3 1.0M253.1 472.0l0.3 0.7M266.9 475.8l1.4 1.2M273.6 466.3l-1.5 0.9M238.6 441.0l0.5 0.5M217.8 442.6l-1.0 0.2M203.1 393.5l-0.7 1.7M216.5 397.5l-0.2 0.3M255.1 509.8l0.4 1.6M270.8 472.1l-1.3 1.2M264.0 483.7l0.8 0.2M170.1 493.8l0.4 1.2M217.7 433.5l0.7 1.4M240.7 434.5l-1.0 1.3M272.3 470.6l1.4 0.6M208.5 487.9l-0.4 1.1M282.1 430.0l1.0 0.2M223.9 472.6l0.9 0.3M287.7 496.4l0.6 0.5M291.8 432.2l0.2 1.8M202.1 429.1l0.6 0.7M178.0 485.9l-0.4 0.5M282.4 412.3l-0.1 0.2M235.9 459.1l0.1 1.8M169.5 505.1l0.4 0.2M250.4 412.6l-1.5 0.1M291.2 424.3l1.1 0.4M276.2 391.3l-1.2 0.8M177.6 459.3l-0.8 0.2M269.9 394.0l0.4 1.6M187.7 439.5l1.0 0.4M245.2 435.5l1.0 1.3M194.3 405.2l0.6 0.2M188.0 461.7l-1.4 0.9M240.9 495.6l-2.0 0.0M202.5 442.2l-1.7 0.7M233.2 392.7l0.6 1.5M174.2 484.6l0.5 0.3M184.4 495.2l0.8 1.6M196.1 431.8l0.7 0.3M214.0 394.3l1.0 0.4M257.9 414.7l-1.2 0.7M239.9 407.5l-0.8 0.2M221.7 453.4l1.9 0.6M231.0 419.5l0.2 0.5M286.4 424.4l-0.3 1.3M183.8 481.3l0.4 0.9M286.0 434.4l-1.2 0.1M274.2 483.3l0.3 1.0M180.9 510.1l0.7 0.9M223.7 406.6l-1.8 0.8M275.3 401.2l-1.3 0.6M274.8 459.2l1.6 0.9M264.0 402.3l0.3 0.1M224.0 462.2l1.8 0.2M253.5 489.5l0.2 1.6M200.7 504.7l0.5 1.8M233.7 449.3l-0.0 0.8M285.8 475.3l-0.8 0.3M287.6 509.0l0.2 1.7M286.7 461.8l-1.5 0.1M231.1 483.4l0.0 1.0M202.3 416.9l1.2 0.3M180.0 503.9l0.2 0.1M278.3 479.1l-1.4 0.5M222.2 396.7l-1.9 0.4M272.9 490.5l-0.0 1.8M179.3 460.2l0.6 0.4M266.2 472.0l0.9 0.9M178.4 413.1l0.5 0.1M270.7 459.6l0.6 0.9M290.9 494.4l0.7 1.4M187.4 504.6l1.3 1.3M273.4 493.5l0.2 0.5M188.7 472.0l0.9 0.8M272.5 487.8l0.8 0.2M229.9 407.5l-0.6 0.7M230.6 496.8l-0.2 1.1M176.7 491.7l-0.1 0.7M256.0 489.9l-0.2 0.3M217.4 475.7l0.2 0.2M212.5 482.8l-0.0 0.5M225.4 427.2l-0.3 1.5M221.1 407.1l-0.6 0.2M264.5 493.2l-0.1 0.8M192.2 437.6l0.4 0.7M207.6 506.2l0.5 1.3M229.3 489.4l0.3 0.5M229.8 458.1l0.4 0.5M289.8 449.4l-0.9 0.8M272.6 430.4l0.5 1.0M221.7 399.1l-0.2 0.2M209.2 427.6l-1.6 0.2M205.7 411.1l-0.3 1.3M264.8 425.8l-1.3 0.9M231.1 453.7l0.1 1.2M170.9 470.6l1.0 0.2M277.6 462.6l-0.2 0.1M178.6 455.3l1.1 0.7M179.8 400.7l0.3 0.5M249.3 502.3l0.9 1.1M176.9 405.5l-0.6 0.6M246.2 391.9l-0.7 1.5M176.9 419.0l-0.4 0.5M253.3 469.0l-0.1 0.7M208.7 423.0l0.2 1.0M271.3 427.4l0.1 0.7M246.4 474.2l-0.5 0.5M290.4 473.5l-0.0 0.1M226.7 414.5l-0.1 0.4M249.1 437.4l0.1 0.1M204.1 443.8l1.5 0.3M181.2 410.7l-1.4 0.9M216.1 489.6l0.2 0.9M237.2 457.0l0.1 0.0M194.3 411.1l-0.1 0.1M192.3 504.2l0.7 1.4M228.0 421.0l-0.5 1.1M279.5 430.6l-0.2 1.1M242.0 456.9l0.6 0.1M221.2 401.3l0.0 0.5M256.5 425.6l0.3 0.5M234.3 475.6l0.2 0.1M203.8 464.4l0.6 1.0M178.9 465.4l1.9 0.6M287.6 431.5l-1.4 0.4M263.1 406.6l0.2 0.7M262.9 475.1l-0.8 1.8M171.0 428.0l-1.0 1.1M289.8 476.5l-0.1 0.1M257.8 447.5l1.2 1.4M202.9 419.9l-1.1 0.2M199.7 438.2l0.6 0.9M289.7 478.1l0.5 1.7M246.5 504.6l-0.1 0.7M229.4 429.1l-1.0 0.3M223.1 465.8l0.3 0.8M252.6 474.6l1.7 0.2M185.4 508.4l0.3 0.8M238.8 461.3l0.9 1.0M177.3 432.2l-0.1 1.6M184.0 417.8l0.5 0.5M219.3 439.6l-1.8 0.4M255.2 404.6l-0.8 0.5M264.1 478.1l0.4 0.2M271.4 502.2l0.9 1.2M287.0 477.8l0.1 0.8M273.6 478.0l-0.4 0.4M173.5 480.8l0.5 0.4M185.5 476.3l1.0 1.0M217.4 463.1l0.5 0.4M251.5 496.7l-1.4 0.5M203.6 449.4l0.2 0.3M262.9 487.6l-0.0 0.6M210.8 501.1l-0.9 0.9M267.0 392.9l1.1 0.4M273.4 482.8l0.7 0.7M272.0 463.3l-1.3 0.3M224.3 424.0l1.7 0.9M236.0 436.3l0.2 0.6M259.2 401.8l-0.4 0.9M191.1 410.9l1.3 0.3M197.1 398.9l-0.4 0.1M181.4 497.7l1.3 0.9M223.7 468.6l0.0 0.8M284.7 453.5l1.4 1.0M250.2 434.8l0.0 0.2M200.4 409.3l-0.5 0.8M274.3 404.3l1.5 1.1M284.0 409.0l1.0 1.5M226.0 395.2l0.7 0.3M239.3 491.4l0.6 0.7M213.2 433.1l0.7 0.7M200.1 502.8l-1.7 0.4M204.2 468.3l-1.0 0.6M268.7 403.7l0.2 0.4M256.3 512.1l0.2 1.2M254.5 408.4l-0.5 0.2M278.3 438.8l-0.1 0.3M228.3 471.6l-0.3 1.5M198.4 397.2l-1.0 0.2M217.9 479.9l-0.1 1.0M271.6 396.9l0.2 0.4M257.7 491.1l-0.7 1.6M183.0 433.5l0.7 0.1M282.3 431.2l0.1 0.3M178.4 512.1l1.5 1.2M244.3 486.1l0.1 1.4M183.6 465.8l0.7 1.3M206.6 472.1l0.5 0.1M198.5 390.8l1.3 0.0M242.6 507.6l0.8 0.8M257.4 474.0l-0.5 0.0M231.6 414.9l1.1 0.8M251.2 452.7l1.1 0.4M249.5 451.0l-0.2 1.4M190.6 400.8l-0.6 0.9M241.6 464.7l-0.9 1.2M191.0 398.3l0.1 1.9M245.5 448.2l-1.2 1.2M170.3 438.6l-0.5 1.4M228.2 468.0l-0.6 0.1M186.7 453.0l-1.3 1.1M195.8 472.4l0.4 1.8M288.6 393.5l0.8 0.1M279.1 418.8l1.4 0.4M177.3 477.7l-1.2 0.7M209.8 444.2l-1.5 1.2M213.3 502.8l0.1 0.6M278.3 449.5l-0.1 1.8M187.0 406.0l-0.3 0.2M174.4 488.4l1.8 0.3M177.6 466.9l-0.1 0.3M270.6 498.5l0.5 1.2M226.8 390.4l0.2 0.8M233.7 407.1l0.2 0.3M290.9 447.0l1.6 0.7M264.2 413.8l0.2 0.1M232.8 438.3l0.3 0.5M193.9 498.0l-0.2 0.7M187.1 392.0l-0.1 0.8M179.5 491.3l0.5 0.7M244.8 413.7l0.7 0.4M199.8 455.9l0.9 0.3M251.7 455.5l0.2 0.4M185.3 491.7l1.8 0.6M196.1 481.2l1.3 0.2M241.7 391.0l0.4 0.1M202.5 495.9l-0.7 0.4M250.3 474.0l-0.8 0.6M177.5 494.5l0.9 0.4M272.5 390.7l-0.8 1.6M196.5 392.2l-0.3 0.0M245.2 496.2l-0.8 1.0M174.9 509.2l0.1 0.1M232.0 489.3l-0.0 0.2M213.6 392.0l-0.1 0.6M261.6 477.6l-0.8 0.9M221.9 497.2l-0.2 1.1M289.0 412.6l0.4 0.9M171.6 447.8l0.5 1.3M195.3 427.2l0.7 0.1M172.1 501.9l0.7 0.1M203.1 472.8l1.8 0.5M170.8 481.5l0.8 0.1M185.7 458.6l-0.8 0.5M245.7 446.7l0.2 0.2M241.0 469.0l-0.4 1.6M218.8 499.8l1.3 1.1M225.9 400.6l1.9 0.5M179.3 463.2l-0.3 0.0M283.4 449.9l-1.8 0.7M183.8 397.7l-0.2 1.0M267.6 417.4l-0.3 0.0M279.5 448.1l-0.7 0.2M265.4 491.8l-1.9 0.5M179.9 467.2l0.5 0.4M230.6 443.6l-1.5 1.3M214.1 440.9l1.3 0.1M262.1 400.5l-0.4 0.1M190.0 461.6l0.5 1.3M281.7 392.3l-0.1 1.5M249.1 453.1l0.1 1.1M224.6 487.8l-1.1 0.8M261.2 500.7l1.2 0.6M180.3 477.4l-0.0 1.6M224.8 459.4l0.1 1.1M265.3 442.5l-1.5 0.1M185.0 459.5l0.8 1.2M265.8 485.8l0.6 0.0M247.0 464.9l0.3 0.0M265.9 400.1l-0.3 0.1M217.7 485.8l1.7 1.0M271.3 442.3l-0.1 0.2M268.2 432.5l0.3 0.2M281.6 478.9l-0.2 0.5M172.3 498.2l0.1 0.2M259.7 402.3l1.3 1.0M287.0 405.9l-0.7 0.1M220.4 472.7l0.9 0.7M218.8 492.8l-0.5 0.2M226.0 458.2l0.3 1.1M255.7 396.8l-0.2 1.5M280.1 462.7l1.1 1.5M256.4 454.3l0.5 1.5M243.6 413.1l-0.6 0.2M224.7 496.4l0.4 1.1M229.6 467.6l0.4 1.5M205.5 471.2l-0.2 1.1M277.2 411.3l1.0 1.1M205.5 460.2l-0.5 0.9M276.0 437.3l-0.7 0.4M287.8 419.3l0.1 0.2M193.7 452.5l-1.9 0.1M198.1 477.5l1.1 1.1M263.8 409.3l1.5 0.4M254.2 482.8l1.4 0.3M224.6 401.0l-0.8 1.6M185.9 443.4l-0.0 0.4M183.4 505.9l-1.1 1.1M209.8 479.6l1.2 0.9M277.6 428.8l-1.4 0.2M288.6 492.2l0.1 1.5M290.1 424.6l0.5 0.9M217.0 417.0l1.9 0.3M272.5 453.1l0.2 1.7M198.2 450.2l-0.0 0.1M207.0 429.9l0.2 0.4M229.9 495.7l-0.4 0.2M198.6 487.2l0.2 1.2M238.7 414.3l1.1 1.5M215.1 406.7l-0.1 0.7M196.8 484.6l-1.0 0.3M196.5 407.1l0.7 0.7M202.1 423.2l0.4 1.2M173.9 470.4l-0.9 0.2M183.8 489.9l1.3 1.2M207.9 497.1l0.5 0.7M231.5 423.1l1.3 0.6M204.8 437.3l-0.1 1.4M288.6 410.5l0.4 0.4M235.4 396.0l-0.1 1.7M202.5 458.1l0.0 0.6M206.9 474.6l0.6 1.2M178.3 403.5l-0.7 0.1M180.4 471.4l-1.2 0.2M233.2 413.4l0.9 0.4M207.8 440.4l0.1 0.0M241.9 434.8l-0.5 0.4M246.0 440.8l-1.0 0.7M193.3 499.2l0.6 0.1M280.2 414.4l0.6 0.0M239.9 444.3l0.5 1.5M273.8 493.6l0.3 0.3M191.9 489.3l-0.1 0.3M225.9 394.2l-0.2 0.4M214.1 425.3l-1.1 0.5M205.8 451.5l-0.1 0.0M184.1 420.4l1.8 0.6M260.4 391.0l0.0 0.6M246.1 427.1l-0.5 0.8M230.8 397.6l1.3 0.4M181.8 396.4l-0.0 0.1M226.0 418.7l0.7 0.4M173.4 450.5l-0.7 1.4M271.5 423.9l-1.2 1.4M202.3 438.6l-1.1 1.1M249.7 465.1l1.0 0.5M276.0 486.5l1.3 0.4M258.2 466.4l-0.3 0.3M285.0 501.2l0.9 0.2M241.8 390.7l-0.0 0.1M246.3 466.1l-0.2 0.0M225.3 404.3l-1.1 0.7M209.6 477.5l0.4 0.2M243.2 412.9l0.1 0.1M255.8 474.9l0.2 0.5M179.8 390.1l-0.5 0.8M290.5 419.9l-0.6 0.8M189.2 403.8l0.4 0.9M248.8 507.6l-0.4 0.8M256.2 497.1l-0.9 0.2M206.3 428.7l-0.1 1.2M186.9 465.3l-1.0 0.2M244.4 508.3l-1.8 0.3M190.9 467.1l0.2 1.9M192.0 404.6l0.6 0.4M172.6 489.1l-0.3 0.8M171.0 508.6l-0.5 0.7M220.7 433.5l-1.5 0.9M262.9 494.3l0.0 0.4M205.4 493.0l0.6 1.9M241.8 460.6l0.6 0.8M256.6 422.5l-0.8 1.7M279.2 407.4l0.5 0.2M274.5 443.0l0.2 0.0M280.7 441.0l-0.2 0.3M197.6 425.0l-0.4 0.5M241.0 495.4l-1.1 0.3M267.9 488.7l-0.1 0.1M171.5 454.3l-0.8 1.3M289.2 399.8l-0.2 0.2M278.9 458.8l0.2 0.7M213.5 443.4l-0.1 1.4M192.0 484.7l0.6 1.0M288.8 458.3l0.3 0.8M188.6 409.3l1.5 1.2M285.6 412.7l0.7 0.9M240.8 504.9l-0.9 1.0M286.5 437.2l-0.4 0.1M287.5 474.7l0.7 0.5M202.8 441.9l-0.4 0.7M195.3 439.3l-1.6 0.5M268.2 485.6l0.6 0.4M271.2 392.4l1.6 0.0M230.0 401.2l-0.9 0.1M250.8 427.4l1.7 0.9M209.5 458.6l0.1 0.4M191.5 510.3l-0.1 0.6M217.0 458.0l0.4 0.6M263.9 404.3l-0.2 0.7M219.2 476.7l-0.1 0.0M254.4 507.9l0.2 0.5M178.0 488.7l1.6 0.6M284.2 473.8l0.1 0.2M236.9 492.5l0.2 0.1M175.9 441.5l-0.0 0.8M218.9 457.7l1.1 1.2M265.9 425.4l-1.4 0.8M198.4 414.2l1.1 1.6M282.4 416.5l0.3 0.1M248.2 432.0l0.5 0.1M277.6 400.7l-0.7 1.5M209.8 430.6l1.7 0.2M290.7 487.7l-0.3 0.0M282.4 412.2l-0.4 0.4M195.1 450.3l0.5 1.3M231.5 414.9l-0.1 0.6M255.3 423.6l-1.1 1.2M196.9 402.5l0.8 0.1M193.8 429.6l0.1 0.8M204.5 467.1l-1.5 1.0M236.8 487.5l-0.0 0.5M227.7 454.9l-0.9 0.4M243.9 503.9l0.5 1.1M290.1 489.6l-0.5 0.2M283.4 414.3l1.4 0.0M260.3 503.6l-0.4 0.3M269.4 493.5l-1.1 0.2M253.6 421.9l-1.0 0.1M190.3 429.4l-0.9 0.6M221.1 391.1l1.2 0.2M209.2 452.5l-1.2 0.1M229.6 475.1l0.1 1.2M290.7 436.3l-1.3 0.2M232.6 397.4l1.3 0.6M186.4 419.1l-0.9 0.0M205.1 429.9l0.3 0.1M181.0 393.3l-0.1 1.4M276.0 454.6l0.7 1.6M254.4 421.5l1.2 1.2M267.6 445.0l1.2 1.0M185.6 424.5l-0.1 0.3M245.6 483.9l-0.6 0.7M257.5 480.6l1.1 0.1M189.1 482.2l-0.5 0.3M209.8 411.1l1.9 0.5M182.7 419.7l-0.3 0.2M230.3 413.7l-0.1 1.0M204.5 476.2l-0.5 0.2M222.4 477.9l0.3 0.3M244.6 396.0l0.7 1.2M199.6 440.6l-0.8 1.5M217.2 446.0l-1.6 0.1M233.6 390.2l0.9 1.7M188.0 425.8l1.6 1.1M210.0 394.3l0.1 0.3M207.6 391.8l-0.5 0.8M215.2 499.3l-0.6 1.2M277.9 407.1l1.8 0.4M215.8 422.1l-0.6 0.7M261.2 393.7l-0.1 0.3M207.9 418.0l-0.1 0.2M271.3 414.6l1.4 0.1M187.8 449.1l-0.5 1.5M283.8 400.6l0.6 1.1M257.2 411.7l-0.1 1.1M236.1 409.3l0.4 0.6M211.1 412.7l-0.5 1.4M270.2 411.2l0.0 0.2M172.4 510.1l0.8 1.0M230.7 436.1l0.6 0.5M179.5 420.8l-0.8 0.5M278.2 502.6l-0.1 0.1M192.3 495.7l-0.9 0.8M254.9 479.7l1.3 0.1M181.5 468.9l1.2 0.9M223.3 409.1l0.9 0.7M263.7 460.9l-1.0 0.5M223.5 418.5l0.4 1.5M243.8 419.5l1.0 0.6M276.2 431.8l0.3 1.6M177.0 398.3l0.2 0.5M191.6 434.2l-0.6 1.7M234.5 499.6l0.2 0.3M236.2 479.2l1.2 0.5M221.4 405.6l-1.0 0.2M224.7 402.5l0.2 0.0M170.5 445.7l-1.0 1.2M202.8 492.3l-0.4 1.0M268.9 455.9l-0.4 1.8M168.8 501.2l1.5 0.6M286.5 481.8l0.8 0.5M254.9 459.6l0.4 1.0M253.3 492.3l-0.2 0.5M272.6 436.5l0.6 0.1M246.4 417.6l-1.0 1.0M292.5 479.6l-0.7 0.7M272.8 439.8l0.0 1.0M267.7 458.0l0.9 0.7M172.0 479.6l1.0 0.1M278.8 420.9l0.2 1.9M245.5 492.0l0.5 1.5M233.0 410.5l0.7 0.9M177.6 441.2l0.1 0.2M235.1 491.0l-1.2 0.5M234.2 493.6l0.0 2.0M187.8 411.9l1.2 1.6M276.8 457.6l-0.6 0.6M185.4 430.3l0.6 0.7M235.9 447.3l-0.4 1.3M266.8 402.4l0.2 0.1M221.5 446.8l1.8 0.0M172.3 408.1l0.9 0.4M203.7 413.4l-1.4 1.3M247.7 395.8l0.0 0.2M187.1 483.3l0.4 1.8M210.1 503.4l-0.6 1.3M183.5 412.8l1.0 0.2M289.4 400.4l-0.0 1.5M243.6 463.7l0.7 1.4M236.7 445.3l1.0 0.7M247.2 391.0l-0.5 1.2M227.3 458.7l1.1 1.6M189.4 422.6l-1.8 0.8M189.3 432.6l-1.0 0.9M242.3 453.5l0.0 0.6M223.6 503.5l0.9 0.8M187.7 398.6l1.4 0.2M202.5 452.9l1.9 0.2M176.1 502.8l-0.5 1.0M212.1 457.1l1.0 0.3M208.9 410.3l-0.8 0.4M255.5 503.2l-1.5 0.6M258.5 421.9l0.5 0.0M285.1 422.8l-0.5 0.1M212.5 410.3l-0.4 0.9" stroke="#1cd81c" stroke-width="1.7"/>
<path d="M194.0 478.9l0.0 0.0M258.6 424.4l0.0 0.0M246.8 458.6l0.0 0.0M206.8 437.1l0.0 0.0M189.5 493.1l0.0 0.0M276.8 440.5l0.0 0.0M242.2 472.9l0.0 0.0M170.5 466.6l0.0 0.0M174.7 466.3l0.0 0.0M191.1 501.4l0.0 0.0M178.3 510.1l0.0 0.0M206.1 416.3l0.0 0.0M193.3 447.5l0.0 0.0M287.9 470.0l0.0 0.0M220.8 435.6l0.0 0.0M201.1 433.3l0.0 0.0M241.3 451.3l0.0 0.0M242.5 480.9l0.0 0.0M221.8 478.8l0.0 0.0M235.9 424.0l0.0 0.0M260.8 480.9l0.0 0.0M272.6 470.5l0.0 0.0M221.5 498.8l0.0 0.0M198.2 500.0l0.0 0.0M196.0 447.5l0.0 0.0M279.2 393.3l0.0 0.0M279.8 468.9l0.0 0.0M286.6 418.5l0.0 0.0M188.0 455.0l0.0 0.0M266.9 465.7l0.0 0.0M243.8 429.4l0.0 0.0M290.2 465.1l0.0 0.0M252.5 445.1l0.0 0.0M181.0 491.6l0.0 0.0M268.6 437.3l0.0 0.0M189.4 489.3l0.0 0.0M291.4 501.0l0.0 0.0M265.1 495.9l0.0 0.0M245.7 411.4l0.0 0.0M202.0 473.3l0.0 0.0M215.3 436.5l0.0 0.0M169.8 484.9l0.0 0.0M285.4 426.7l0.0 0.0M185.9 427.6l0.0 0.0M194.4 426.8l0.0 0.0M219.4 405.4l0.0 0.0M197.4 506.3l0.0 0.0M257.0 444.8l0.0 0.0M182.9 404.0l0.0 0.0M280.9 457.9l0.0 0.0M190.4 395.6l0.0 0.0M227.3 401.9l0.0 0.0M281.3 506.9l0.0 0.0M215.3 484.7l0.0 0.0M242.4 398.3l0.0 0.0M261.2 509.1l0.0 0.0M184.4 407.9l0.0 0.0M220.4 503.7l0.0 0.0M290.6 444.8l0.0 0.0M251.6 431.2l0.0 0.0M259.7 484.5l0.0 0.0M200.2 475.3l0.0 0.0M284.2 435.5l0.0 0.0M245.7 462.4l0.0 0.0M285.0 480.6l0.0 0.0M254.3 482.1l0.0 0.0M228.7 412.3l0.0 0.0M223.7 487.3l0.0 0.0M268.0 459.2l0.0 0.0M219.2 431.0l0.0 0.0M243.0 510.3l0.0 0.0M226.4 398.0l0.0 0.0M219.6 509.9l0.0 0.0M209.3 474.1l0.0 0.0M221.1 432.7l0.0 0.0M174.7 500.7l0.0 0.0M192.8 431.6l0.0 0.0M183.7 509.1l0.0 0.0M203.3 488.2l0.0 0.0M200.1 409.8l0.0 0.0M201.3 510.9l0.0 0.0M278.9 435.0l0.0 0.0M282.5 447.7l0.0 0.0M264.1 473.3l0.0 0.0M263.1 481.4l0.0 0.0M217.2 464.5l0.0 0.0M291.3 510.4l0.0 0.0M227.0 405.7l0.0 0.0M242.4 412.8l0.0 0.0M214.0 442.5l0.0 0.0M260.8 469.2l0.0 0.0M254.1 452.5l0.0 0.0M254.2 463.0l0.0 0.0M184.8 456.3l0.0 0.0M172.8 493.4l0.0 0.0M264.3 393.3l0.0 0.0M222.8 427.7l0.0 0.0M177.9 501.8l0.0 0.0M286.4 431.9l0.0 0.0M269.8 435.8l0.0 0.0M204.2 435.1l0.0 0.0M216.1 508.6l0.0 0.0M220.2 418.7l0.0 0.0M200.8 497.5l0.0 0.0M265.3 430.8l0.0 0.0M262.2 443.2l0.0 0.0M272.1 405.9l0.0 0.0M274.7 469.9l0.0 0.0M193.9 455.3l0.0 0.0M249.2 480.8l0.0 0.0M284.8 475.0l0.0 0.0M204.8 421.8l0.0 0.0M229.6 418.6l0.0 0.0M241.7 432.5l0.0 0.0M224.6 475.4l0.0 0.0M224.1 394.3l0.0 0.0M194.9 399.2l0.0 0.0M248.7 441.7l0.0 0.0M197.5 397.5l0.0 0.0M210.1 499.1l0.0 0.0M266.1 397.2l0.0 0.0M231.5 493.9l0.0 0.0M286.2 399.9l0.0 0.0M172.0 495.6l0.0 0.0M173.1 440.7l0.0 0.0M215.2 499.0l0.0 0.0M236.8 391.4l0.0 0.0M194.5 470.8l0.0 0.0M172.4 419.9l0.0 0.0M181.4 480.8l0.0 0.0M184.2 485.4l0.0 0.0M214.5 476.6l0.0 0.0M255.5 499.5l0.0 0.0M273.0 497.2l0.0 0.0M190.5 440.1l0.0 0.0M279.5 402.5l0.0 0.0M189.1 499.1l0.0 0.0M198.1 435.4l0.0 0.0M283.9 459.1l0.0 0.0M230.0 499.8l0.0 0.0M289.9 454.7l0.0 0.0M253.3 472.3l0.0 0.0M217.3 442.7l0.0 0.0M216.5 397.6l0.0 0.0M255.3 510.6l0.0 0.0M264.4 483.8l0.0 0.0M218.1 434.2l0.0 0.0M282.6 430.1l0.0 0.0M288.0 496.6l0.0 0.0M177.8 486.2l0.0 0.0M282.4 412.4l0.0 0.0M249.6 412.6l0.0 0.0M291.8 424.4l0.0 0.0M188.2 439.7l0.0 0.0M245.7 436.1l0.0 0.0M187.3 462.2l0.0 0.0M233.5 393.5l0.0 0.0M174.5 484.7l0.0 0.0M184.8 496.0l0.0 0.0M214.5 394.5l0.0 0.0M257.2 415.0l0.0 0.0M231.1 419.7l0.0 0.0M286.3 425.1l0.0 0.0M285.4 434.4l0.0 0.0M274.3 483.8l0.0 0.0M181.3 510.6l0.0 0.0M222.9 407.0l0.0 0.0M274.6 401.5l0.0 0.0M275.6 459.7l0.0 0.0M264.2 402.3l0.0 0.0M253.6 490.3l0.0 0.0M287.7 509.9l0.0 0.0M180.0 504.0l0.0 0.0M272.8 491.4l0.0 0.0M178.7 413.1l0.0 0.0M270.9 460.1l0.0 0.0M291.2 495.1l0.0 0.0M229.6 407.8l0.0 0.0M230.5 497.3l0.0 0.0M176.6 492.1l0.0 0.0M225.2 428.0l0.0 0.0M272.8 430.9l0.0 0.0M208.3 427.7l0.0 0.0M205.5 411.7l0.0 0.0M264.2 426.3l0.0 0.0M277.6 462.6l0.0 0.0M179.2 455.6l0.0 0.0M249.8 502.8l0.0 0.0M245.9 392.7l0.0 0.0M246.1 474.4l0.0 0.0M180.5 411.2l0.0 0.0M216.2 490.1l0.0 0.0M237.3 457.0l0.0 0.0M194.2 411.1l0.0 0.0M192.6 504.9l0.0 0.0M227.7 421.6l0.0 0.0M279.4 431.2l0.0 0.0M221.2 401.5l0.0 0.0M204.2 464.9l0.0 0.0M263.2 407.0l0.0 0.0M170.5 428.5l0.0 0.0M258.3 448.2l0.0 0.0M202.4 420.0l0.0 0.0M200.0 438.6l0.0 0.0M246.5 505.0l0.0 0.0M223.3 466.2l0.0 0.0M185.5 508.8l0.0 0.0M177.2 433.0l0.0 0.0M184.3 418.0l0.0 0.0M264.3 478.2l0.0 0.0M287.0 478.2l0.0 0.0M173.8 481.0l0.0 0.0M186.0 476.8l0.0 0.0M250.8 496.9l0.0 0.0M203.7 449.5l0.0 0.0M271.3 463.4l0.0 0.0M225.2 424.4l0.0 0.0M236.1 436.6l0.0 0.0M182.0 498.2l0.0 0.0M250.2 434.9l0.0 0.0M200.2 409.7l0.0 0.0M284.5 409.7l0.0 0.0M226.3 395.4l0.0 0.0M239.6 491.7l0.0 0.0M257.4 491.9l0.0 0.0M183.9 466.4l0.0 0.0M199.1 390.8l0.0 0.0M232.1 415.3l0.0 0.0M251.8 452.9l0.0 0.0M241.2 465.3l0.0 0.0M191.0 399.2l0.0 0.0M279.8 419.0l0.0 0.0M176.6 478.1l0.0 0.0M209.0 444.8l0.0 0.0M213.3 503.1l0.0 0.0M278.2 450.4l0.0 0.0M270.8 499.2l0.0 0.0M233.8 407.3l0.0 0.0M264.3 413.8l0.0 0.0M233.0 438.5l0.0 0.0M187.0 392.4l0.0 0.0M179.8 491.6l0.0 0.0M251.8 455.7l0.0 0.0M186.2 492.0l0.0 0.0M244.8 496.7l0.0 0.0M174.9 509.3l0.0 0.0M213.5 392.3l0.0 0.0M204.0 473.1l0.0 0.0M171.2 481.5l0.0 0.0M185.4 458.8l0.0 0.0M245.8 446.8l0.0 0.0M240.8 469.8l0.0 0.0M219.5 500.4l0.0 0.0M183.7 398.2l0.0 0.0M279.2 448.1l0.0 0.0M264.4 492.1l0.0 0.0M180.1 467.4l0.0 0.0M261.9 400.6l0.0 0.0M249.2 453.6l0.0 0.0M224.1 488.2l0.0 0.0M224.8 459.9l0.0 0.0M264.6 442.6l0.0 0.0M185.4 460.1l0.0 0.0M265.7 400.2l0.0 0.0M218.6 486.3l0.0 0.0M271.3 442.4l0.0 0.0M268.3 432.6l0.0 0.0M172.4 498.3l0.0 0.0M220.9 473.1l0.0 0.0M218.5 492.9l0.0 0.0M255.6 397.5l0.0 0.0M280.7 463.4l0.0 0.0M256.6 455.1l0.0 0.0M224.9 496.9l0.0 0.0M205.4 471.7l0.0 0.0M205.3 460.6l0.0 0.0M275.7 437.5l0.0 0.0M287.8 419.4l0.0 0.0M198.6 478.0l0.0 0.0M185.9 443.6l0.0 0.0M210.4 480.0l0.0 0.0M288.7 493.0l0.0 0.0M218.0 417.2l0.0 0.0M207.1 430.2l0.0 0.0M229.7 495.8l0.0 0.0M196.3 484.8l0.0 0.0M208.2 497.4l0.0 0.0M204.7 438.0l0.0 0.0M288.8 410.6l0.0 0.0M235.3 396.9l0.0 0.0M207.2 475.1l0.0 0.0M207.8 440.4l0.0 0.0M245.5 441.2l0.0 0.0M240.1 445.0l0.0 0.0M260.4 391.3l0.0 0.0M245.9 427.5l0.0 0.0M181.8 396.5l0.0 0.0M173.0 451.2l0.0 0.0M271.0 424.6l0.0 0.0M201.8 439.2l0.0 0.0M250.2 465.4l0.0 0.0M276.7 486.7l0.0 0.0M258.1 466.5l0.0 0.0M285.4 501.3l0.0 0.0M241.8 390.7l0.0 0.0M224.8 404.7l0.0 0.0M209.9 477.6l0.0 0.0M243.2 412.9l0.0 0.0M255.9 475.2l0.0 0.0M179.6 390.6l0.0 0.0M189.3 404.2l0.0 0.0M248.6 508.0l0.0 0.0M255.7 497.2l0.0 0.0M243.6 508.5l0.0 0.0M172.4 489.5l0.0 0.0M170.7 509.0l0.0 0.0M205.7 494.0l0.0 0.0M242.1 461.0l0.0 0.0M256.2 423.4l0.0 0.0M197.4 425.2l0.0 0.0M267.8 488.7l0.0 0.0M171.1 455.0l0.0 0.0M289.1 399.9l0.0 0.0M285.9 413.1l0.0 0.0M240.4 505.4l0.0 0.0M287.8 475.0l0.0 0.0M202.6 442.2l0.0 0.0M194.5 439.5l0.0 0.0M268.5 485.8l0.0 0.0M209.6 458.8l0.0 0.0M191.5 510.7l0.0 0.0M263.8 404.7l0.0 0.0M175.9 441.9l0.0 0.0M199.0 415.0l0.0 0.0M277.3 401.4l0.0 0.0M210.7 430.7l0.0 0.0M282.3 412.4l0.0 0.0M195.4 451.0l0.0 0.0M203.8 467.6l0.0 0.0M236.8 487.7l0.0 0.0M227.3 455.1l0.0 0.0M289.9 489.7l0.0 0.0M268.9 493.6l0.0 0.0M253.1 422.0l0.0 0.0M208.6 452.6l0.0 0.0M229.7 475.7l0.0 0.0M290.1 436.4l0.0 0.0M205.2 430.0l0.0 0.0M276.3 455.4l0.0 0.0M255.0 422.1l0.0 0.0M245.3 484.3l0.0 0.0M182.5 419.7l0.0 0.0M230.2 414.3l0.0 0.0M204.3 476.2l0.0 0.0M244.9 396.6l0.0 0.0M199.3 441.4l0.0 0.0M234.1 391.1l0.0 0.0M188.8 426.4l0.0 0.0M261.1 393.9l0.0 0.0M207.9 418.1l0.0 0.0M272.0 414.6l0.0 0.0M257.1 412.3l0.0 0.0M210.9 413.4l0.0 0.0M270.2 411.3l0.0 0.0M182.1 469.4l0.0 0.0M244.3 419.8l0.0 0.0M234.5 499.8l0.0 0.0M224.8 402.5l0.0 0.0M170.0 446.3l0.0 0.0M169.5 501.4l0.0 0.0M253.2 492.6l0.0 0.0M272.9 436.6l0.0 0.0M292.2 480.0l0.0 0.0M245.7 492.8l0.0 0.0M233.3 410.9l0.0 0.0M234.2 494.6l0.0 0.0M235.7 448.0l0.0 0.0M266.9 402.5l0.0 0.0M222.4 446.8l0.0 0.0M172.8 408.3l0.0 0.0M247.7 395.9l0.0 0.0M243.9 464.4l0.0 0.0M237.2 445.7l0.0 0.0M247.0 391.6l0.0 0.0M188.8 433.0l0.0 0.0M242.3 453.8l0.0 0.0M208.5 410.5l0.0 0.0M212.3 410.8l0.0 0.0" stroke="#3cf23c" stroke-width="1.1"/>
</g>
<rect x="263.0" y="503.1" width="26.5" height="1.8" fill="#fff"/>
<text x="276.2" y="501.4" font-size="6.5" text-anchor="middle" style="fill:#fff;stroke:#000;stroke-width:1.6;paint-order:stroke">250 μm</text>
<text x="289.8" y="510.4" font-size="4.4" text-anchor="end" style="fill:#f0f4f0">2X</text>
<path d="M263.3 507.3h1.2v2.4" stroke="#c8d0c8" stroke-width="0.5" fill="none"/>
</g>
<g id="panel-bcp">
<clipPath id="c-bcp"><rect x="294.8" y="390.0" width="124.2" height="123.29999999999995"/></clipPath>
<rect x="294.8" y="390.0" width="124.2" height="123.29999999999995" fill="#020402"/>
<g clip-path="url(#c-bcp)" filter="url(#soft)" fill="none" stroke-linecap="round">
<path d="M373.6 427.1l0.0 0.4M371.4 479.8l-2.5 1.3M362.3 473.6l2.9 0.5M387.3 405.2l0.7 0.7M296.0 454.3l0.3 0.8M363.7 405.4l1.1 0.4M301.5 423.6l1.7 1.2M351.8 447.2l-0.3 2.4M342.2 485.9l-0.3 0.1M404.8 475.4l0.0 2.0M351.4 441.1l1.8 1.9M413.4 448.3l0.8 2.3M335.9 402.6l-1.2 1.6M415.5 491.4l-2.3 1.6M383.5 417.7l1.2 1.4M366.1 414.8l-0.5 0.1M418.7 473.5l-1.4 0.3M408.0 490.0l0.4 0.0M335.2 405.5l0.8 1.4M350.5 415.0l0.5 0.4M308.4 440.7l-1.4 1.0M323.9 392.8l0.6 1.1M329.7 479.1l0.7 0.1M416.8 432.7l-2.0 0.2M412.7 431.0l0.9 0.1M343.0 497.3l-0.3 0.7M314.2 416.9l1.2 0.7M354.2 411.7l-0.4 0.4M409.7 459.5l-2.7 1.2M406.4 454.3l-0.7 2.3M417.3 450.1l1.0 1.5M362.7 425.0l-0.9 0.2M351.2 489.9l-0.8 2.5M409.7 433.3l1.1 0.1M335.6 469.8l0.4 0.5M392.6 500.4l-0.3 0.4M348.3 452.6l0.7 0.7M303.7 391.5l-1.4 1.5M327.1 510.8l0.3 1.2M311.3 411.6l0.4 1.0M333.8 462.0l-0.2 1.9M296.2 466.9l1.1 2.0M413.6 427.6l1.3 2.5M316.9 470.7l-0.4 2.3M343.3 488.0l-2.3 1.4M406.3 433.4l-2.0 1.9M320.9 406.2l-0.4 2.5M295.7 414.7l-0.4 0.7M364.0 465.0l0.3 1.3M326.3 434.9l1.1 0.4M309.8 427.9l0.6 0.5M376.9 427.5l-2.3 1.7M322.6 474.0l0.6 0.5M401.9 461.2l2.3 1.3M381.9 497.7l-0.6 2.9M367.3 480.3l0.2 2.5M384.9 410.9l0.2 1.5M417.3 504.4l-0.2 0.6M406.1 504.5l2.3 0.5M352.3 484.5l0.6 2.2M340.8 451.0l-0.3 0.4M380.8 500.7l-2.2 0.3M342.6 459.1l-0.2 0.3M400.0 504.8l2.1 0.5M342.6 393.3l-0.9 2.2M389.8 480.2l-2.8 0.5M381.7 507.1l-0.7 0.2M368.1 492.0l0.7 0.8M324.8 462.7l1.1 1.1M391.2 461.9l-0.8 0.1M382.2 427.7l-0.4 1.7M382.0 398.9l2.5 0.0M413.5 468.2l-1.3 0.4M300.6 495.3l-0.2 0.3M349.9 447.1l-0.9 0.6M379.3 494.8l-0.4 0.0M317.7 446.6l2.3 1.2M401.6 481.3l-1.9 2.1M390.1 428.3l0.6 1.0M299.9 408.7l0.3 0.2M386.8 490.4l-1.6 2.1M302.0 497.3l0.6 0.8M393.6 402.5l-1.1 2.6M307.9 468.8l1.4 0.8M328.1 506.5l-0.0 0.3M333.2 469.4l-0.9 1.6M375.2 392.9l0.5 2.0M405.9 410.4l-0.1 2.1M394.4 506.6l1.5 1.5M361.1 406.1l0.3 0.3M295.7 431.4l-0.2 1.5M359.2 467.3l-1.7 1.2M398.8 471.0l-0.7 0.3M384.4 417.7l-0.4 1.5M404.1 473.4l0.7 1.0M343.7 460.3l0.7 1.4M384.0 408.2l1.1 2.2M333.5 417.1l-0.0 2.0M387.4 416.7l2.6 1.4M326.9 503.3l0.9 0.8M380.2 417.8l0.8 0.1M396.2 409.8l0.4 0.3M415.2 392.3l1.2 2.3M391.8 412.3l-0.3 0.5M401.4 473.1l0.3 0.5M381.5 463.9l-0.4 0.8M384.8 473.0l0.7 0.5M380.9 491.9l-0.8 0.2M348.4 494.3l-0.4 0.2M331.2 492.4l0.1 1.7M300.0 504.3l-2.1 0.5M376.2 434.4l0.1 2.9M300.0 481.9l0.4 0.1M351.4 430.6l-0.2 0.5M401.0 449.0l2.4 1.2M393.2 478.5l1.8 0.4M367.0 471.8l-1.9 0.1M346.3 410.5l1.4 1.6M347.4 489.1l-2.6 1.4M377.7 487.1l0.2 1.3M414.1 479.4l0.3 1.4M372.5 507.0l1.2 0.7M364.5 507.7l1.7 0.1M401.6 407.2l-0.8 1.8M347.0 425.7l-2.3 0.5M350.7 480.3l0.5 0.8M414.7 420.5l1.2 1.1M330.4 474.3l0.9 1.0M321.4 466.2l-1.4 1.8M298.4 436.0l-0.9 1.8M296.0 481.7l2.3 0.1M314.2 462.5l2.6 0.8M411.6 447.5l0.0 1.1M356.7 437.2l0.9 2.2M400.9 479.2l2.8 0.0M386.6 463.5l-1.8 1.7M336.5 436.7l-0.1 0.5M299.1 440.6l-1.2 0.0M418.4 436.0l0.2 0.4M373.2 491.8l-0.2 0.3M358.8 492.1l2.6 1.0M365.6 489.3l-2.0 0.4M301.1 430.4l1.6 1.6M318.5 502.7l0.5 0.3M393.4 497.7l-1.9 1.1M328.3 455.8l0.5 0.2M369.0 502.3l0.9 0.4M409.9 429.9l1.3 0.3M414.0 394.1l-1.9 2.0M403.9 436.6l-1.7 0.6M385.5 510.9l-0.8 2.5M318.2 402.5l-2.5 1.1M336.5 448.7l-0.8 0.0M319.1 449.2l1.3 1.0M359.6 409.1l1.4 0.6M319.0 407.7l-0.0 0.7M329.4 437.6l-0.1 0.3M391.2 414.5l1.2 0.2M389.6 433.4l0.9 0.4M345.1 444.0l-0.9 1.8M336.3 510.4l0.4 0.3M341.4 461.5l-0.4 2.0M362.4 512.0l2.7 0.6M381.6 435.3l-0.6 1.4M339.9 443.4l0.7 1.1M351.6 430.9l-0.6 0.1M319.4 422.7l2.4 1.1M403.7 509.1l2.5 1.4M414.0 455.6l0.0 0.4M303.4 412.9l-0.1 2.2M334.9 412.5l-0.4 0.6M315.1 491.1l-0.1 2.6M301.2 417.5l-2.4 1.4M359.8 455.0l-1.7 2.2M323.6 467.6l1.8 1.8M359.4 463.8l2.5 0.6M366.6 401.9l-1.1 1.6M306.1 487.1l2.1 0.1M308.9 472.8l-0.1 1.3M337.2 451.2l-1.5 1.2M335.4 418.4l-2.3 1.0M372.0 422.0l0.6 1.0M393.3 393.9l-0.8 1.7M313.8 426.5l0.9 0.3M385.3 432.7l0.7 2.5M305.1 469.7l1.5 1.5M404.3 487.6l-0.4 0.0M386.1 439.5l1.2 1.9M397.8 417.2l-2.4 0.7M327.0 452.4l-1.7 0.9M297.9 472.4l-0.7 0.7M360.9 469.6l1.2 0.5M302.4 491.1l1.6 0.0M370.4 415.5l-1.2 0.6M413.6 445.9l0.4 0.0M356.1 419.5l-0.6 1.1M377.8 424.4l1.4 2.1M318.5 409.0l-1.4 2.2M331.5 423.6l0.3 0.8M379.4 449.0l-1.3 2.6M358.3 445.1l-0.6 2.9M374.5 488.6l0.3 0.3M344.9 467.1l-1.8 0.4M361.8 434.6l-1.4 0.0M368.4 402.6l-2.6 0.6M325.2 409.9l0.4 0.7M406.7 394.4l-0.2 2.6M414.7 412.2l1.9 2.0M299.9 420.4l-0.2 0.2M358.4 479.4l-1.2 1.2M377.3 437.9l1.2 2.0M411.1 502.9l-0.0 0.7M323.6 400.9l1.2 0.7M310.0 461.2l2.0 1.5M377.7 488.6l-1.0 0.2M418.9 467.0l-1.8 1.1M323.2 447.6l1.3 1.7M335.1 431.4l-0.8 0.4M324.6 456.1l-0.4 0.1M391.2 509.5l-2.0 0.3M302.8 511.7l0.8 1.2M387.2 450.7l-1.3 0.4M327.6 497.5l-1.7 1.0M338.1 401.1l-0.9 0.4M361.9 507.7l-1.9 0.4M373.7 494.2l-0.5 0.1M336.5 411.6l2.4 1.2M342.3 470.5l1.0 1.2M384.0 442.6l0.7 0.6M299.5 501.9l1.0 0.2M313.7 403.5l-0.3 1.8M409.4 494.4l-0.2 1.8M343.7 397.2l2.3 1.6M402.2 439.6l-1.9 0.5M406.8 450.9l0.1 0.3M345.7 479.6l1.5 1.4M381.2 432.1l1.9 1.7M309.0 439.4l0.7 0.8M299.4 424.0l-1.3 0.3M310.3 434.6l-0.5 0.0M310.5 479.8l0.9 1.6M304.2 436.6l-1.2 0.1M348.0 478.1l1.2 2.0M322.3 475.9l-1.3 1.4M354.2 457.9l-2.4 0.2M361.6 399.4l-0.7 2.3M310.0 509.2l2.3 1.6M358.8 393.2l-1.3 1.2M324.5 424.3l1.2 1.7M320.1 463.2l-1.6 0.8M415.4 510.6l-2.0 0.8M390.2 457.1l0.0 1.0M337.3 428.4l-1.8 0.2M407.7 487.1l-0.5 1.0M375.9 489.9l0.4 0.1M402.4 405.8l-1.9 0.5M331.6 432.6l-1.5 1.1M320.0 459.0l-1.2 0.4M413.6 466.0l0.2 0.5M302.8 405.2l1.8 0.5M410.6 436.6l-1.5 1.8M357.8 485.2l1.6 0.4M348.4 418.0l0.3 1.0M360.7 495.0l0.6 1.0M371.4 393.8l0.7 1.0M333.5 425.8l-0.4 0.1M364.8 443.6l-1.2 1.0M402.6 495.3l-2.5 0.5M308.3 396.0l1.3 1.0M394.6 504.1l-1.7 1.1M337.6 499.8l1.3 2.1M312.9 394.0l-0.7 2.1M303.6 409.4l-0.5 2.4M329.0 440.4l0.4 0.7M321.0 413.5l-2.5 1.5M384.6 508.9l-0.9 0.7M398.8 421.6l-0.8 0.6M370.8 389.5l0.0 2.4M342.1 479.6l0.4 0.1M334.7 392.4l0.7 1.2M333.7 487.6l0.9 0.9M404.9 505.6l-1.4 0.4M393.1 418.0l0.0 2.3M365.3 460.4l0.5 0.7M368.9 390.2l-1.1 0.9M379.1 509.3l0.3 0.1M322.2 469.7l-2.0 2.2M407.9 500.7l-0.7 2.0M315.8 449.6l0.5 0.1M359.3 509.1l-1.0 0.8M312.4 390.8l-1.8 0.6M322.8 457.8l-0.4 0.4M412.2 425.4l-2.9 0.1M296.5 441.2l-0.5 0.4M306.0 437.9l0.9 0.7M304.6 422.2l1.6 2.1M327.1 448.9l-1.4 2.3M359.7 511.9l1.3 0.4M306.9 415.0l-1.2 0.7M339.7 440.9l0.9 1.5M403.2 497.8l2.8 0.5M350.0 506.5l-0.9 1.3M310.4 408.9l2.8 0.0M404.9 406.1l1.1 0.3M385.2 423.4l-0.2 0.9M410.9 411.9l-1.6 0.5M320.4 402.1l-1.5 0.2M374.6 407.9l-1.6 2.2M379.6 415.3l0.5 0.2M296.4 460.6l-0.4 0.6M394.5 461.1l0.3 1.3M406.1 415.9l-0.6 0.4M347.6 488.1l1.0 0.3M361.8 422.5l-1.6 2.2M333.7 508.2l-0.5 0.2M388.9 455.1l-1.4 2.3M371.2 465.0l-0.5 1.2M356.1 405.2l0.4 1.2M414.9 437.8l-1.2 0.5M363.4 476.0l-0.5 0.2M391.6 405.0l0.1 2.3M413.6 484.9l1.3 2.4M322.1 443.0l-0.5 0.2M374.1 403.3l-0.5 0.1M394.2 467.4l0.5 2.3M388.7 390.5l0.1 0.5M365.9 403.3l0.1 2.0M401.6 415.2l-1.4 0.3M348.1 396.2l-2.3 1.0M358.6 486.8l-0.2 2.0M296.5 481.4l-0.9 0.8M299.8 476.6l-0.1 1.1M401.0 428.0l1.1 0.4M407.7 441.8l1.1 1.7M328.1 414.7l-0.7 1.1M349.4 410.1l-0.5 2.7M335.8 505.2l1.8 0.6M358.5 428.5l-0.6 0.3M329.0 494.1l0.3 0.4M346.3 476.1l-0.6 1.0M405.1 444.2l0.3 1.8M314.7 410.8l-0.4 0.7M362.2 474.4l-2.8 0.6M359.5 475.8l2.2 0.1M376.0 453.6l-0.1 1.3M339.1 476.9l-1.4 1.0M384.6 430.6l-1.3 0.9M410.5 440.3l0.3 1.4M391.2 488.6l-2.5 1.2M314.6 477.0l0.6 0.1M322.2 409.2l0.4 0.2M359.3 428.6l0.4 0.3M351.9 450.0l-1.2 0.0M361.4 429.4l2.7 0.3M371.1 506.9l-1.4 0.7M300.1 485.1l-2.5 1.4M390.2 479.6l1.3 0.7M345.6 451.8l-0.1 2.0M308.5 481.2l0.2 0.2M314.8 444.4l-0.2 0.3M339.1 427.1l-2.5 0.8M374.7 476.6l-1.8 1.2M335.4 503.2l-0.4 0.1M361.7 456.3l1.4 2.4M391.3 503.5l0.1 0.3M377.1 474.1l1.6 2.0M410.4 476.5l1.4 0.4M407.1 492.8l0.4 0.1M414.3 501.2l-1.3 1.6M398.0 503.5l-0.6 0.1M326.4 476.6l-0.6 1.3M339.9 481.5l-0.5 1.3M340.4 490.7l-2.3 0.3M309.9 443.6l-1.7 0.8M354.8 504.2l-0.7 0.9M355.4 446.4l-1.5 0.2M318.7 440.8l-0.5 2.9M382.1 485.2l0.2 1.5M330.0 485.4l1.2 1.0M348.2 436.8l1.3 1.3M305.8 453.6l-0.7 2.1M385.6 420.4l-0.1 1.6M396.1 463.9l0.7 1.7M354.5 471.4l2.4 1.0M381.5 423.2l-2.7 0.5M359.9 478.6l0.4 1.9M316.9 495.5l-0.8 1.5M334.7 408.8l-0.0 0.5M322.0 501.1l-0.9 1.9M378.7 434.5l-0.4 0.2M364.2 477.8l0.5 1.1M395.7 463.0l2.7 0.3M321.4 407.6l-0.6 1.6M412.0 409.8l0.5 0.6M336.6 444.9l1.5 1.9M328.6 447.2l-0.7 0.5M387.5 394.5l0.3 1.1M406.8 430.4l0.3 1.0M346.8 437.7l0.7 1.7M337.1 449.7l-1.7 0.9M409.1 396.6l-0.5 1.0M320.5 510.3l-0.8 1.0M327.7 473.6l2.2 1.1M389.4 504.0l1.1 2.0M412.0 397.4l0.4 0.2M335.6 408.2l-0.2 0.9M406.3 392.5l0.4 0.6M383.4 463.9l-2.2 1.9M342.2 424.4l1.2 1.4M386.9 468.5l2.8 0.3M417.1 429.3l-0.8 0.5M352.6 486.3l-0.3 0.2M359.4 418.3l1.4 2.3M306.5 479.0l-0.8 1.4M352.1 442.1l0.9 1.4M310.4 484.8l2.0 1.3M413.7 390.0l0.9 1.3M312.7 464.0l0.5 0.6M353.7 453.8l-1.4 2.6M326.6 405.0l-0.7 0.1" stroke="#109a10" stroke-width="1.85"/>
<path d="M356.9 509.7l-0.6 1.2M327.1 437.6l0.7 1.0M303.1 470.1l-0.1 1.6M326.6 403.6l0.4 0.4M359.9 429.6l-0.6 2.3M315.8 435.7l1.5 0.6M306.3 510.3l-1.8 0.1M366.5 397.1l2.1 1.1M356.9 488.6l-2.6 1.4M335.1 393.7l-0.4 1.4M325.8 418.0l-0.7 0.2M397.8 414.7l0.3 0.4M366.8 424.3l0.6 0.4M336.2 484.3l2.0 0.2M337.8 460.5l-1.1 2.3M411.9 450.6l-1.2 2.7M413.1 415.8l-0.6 1.1M414.1 474.8l1.5 0.9M310.6 473.1l-0.5 0.6M318.1 439.5l1.1 1.9M368.6 427.8l-0.6 0.5M329.5 481.0l0.9 2.6M360.5 438.9l0.5 0.1M328.8 420.3l-0.4 1.6M393.4 400.6l0.4 0.1M397.8 472.3l-0.5 0.9M382.0 508.3l-0.8 0.3M405.3 478.8l1.7 1.4M368.6 489.5l0.7 0.7M327.8 509.8l0.5 1.1M375.8 404.6l-0.7 0.2M378.4 476.5l-0.7 1.2M381.1 477.3l0.4 2.0M413.7 448.2l-0.6 0.0M377.2 468.4l-0.9 1.0M405.0 405.2l-0.4 1.1M418.1 438.6l-0.5 2.9M371.2 422.2l0.9 0.7M333.4 511.7l0.8 0.3M301.3 431.5l1.5 0.7M387.1 506.4l-2.0 1.0M347.8 481.4l-0.3 0.1M395.7 500.7l-2.1 1.0M406.4 504.7l0.1 0.9M349.4 502.4l1.9 1.3M295.8 435.0l1.5 0.2M319.4 404.8l-0.6 0.0M315.7 511.6l2.0 0.6M346.2 501.1l0.5 0.4M362.6 450.6l-0.7 1.7M350.6 471.7l-1.7 1.7M368.8 393.8l0.8 1.9M334.5 485.3l-0.2 2.2M389.8 461.7l2.4 0.7M301.1 481.7l-0.5 0.7M338.2 463.8l0.0 1.0M371.6 429.2l-0.2 1.6M409.7 476.0l1.3 2.3M323.7 497.7l0.4 0.7M409.6 395.2l-2.8 0.1M298.4 488.0l1.1 1.4M329.6 451.7l-0.0 0.5M391.7 506.4l0.1 1.7M404.1 413.6l-1.9 2.2M302.4 455.0l1.4 1.9M332.4 413.3l-2.3 0.9M341.8 440.5l-0.6 0.1M373.5 441.4l-2.0 1.3M346.4 484.1l-1.6 0.6M372.0 426.6l-0.5 0.7M370.7 469.2l-0.0 0.5M328.2 504.2l1.1 1.1M376.7 446.9l-2.6 1.0M382.7 404.7l1.0 1.3M405.9 487.0l-0.5 1.7M341.9 482.8l-2.4 0.8M362.6 486.9l-1.2 0.1M340.7 471.3l0.4 0.1M308.9 407.1l-2.4 1.1M338.7 505.7l1.0 0.4M329.5 477.6l-0.5 1.5M338.0 410.0l-0.1 0.3M365.1 412.1l-0.4 2.8M359.2 462.1l-1.0 0.5M401.5 483.6l1.9 1.8M383.3 490.8l-0.5 0.7M383.7 488.4l-0.2 0.9M411.0 442.4l1.8 0.6M306.3 431.1l-1.9 0.2M360.4 496.5l-0.4 2.6M363.4 492.6l-1.3 1.8M411.8 508.4l-0.3 1.9M414.1 459.9l-0.0 0.3M405.6 494.4l2.3 1.8M389.6 434.6l-0.4 2.7M308.1 504.7l-2.2 0.2M335.9 442.6l0.3 0.4M352.4 415.7l1.2 0.0M308.5 448.5l-1.8 1.6M377.0 510.7l1.1 1.8M363.1 510.7l-0.3 0.2M312.0 409.3l1.8 0.7M308.3 495.5l-0.3 1.6M416.1 394.8l-1.4 2.5M354.9 480.7l0.5 0.3M301.7 411.0l1.4 0.3M394.3 453.0l-0.0 2.4M388.5 401.1l-1.1 0.9M365.7 497.8l1.5 1.2M372.6 504.5l-0.2 0.7M357.8 400.2l0.2 0.3M367.9 476.3l-1.1 0.1M337.2 391.1l1.5 0.8M331.3 398.2l2.5 1.2M379.4 502.0l-1.6 0.8M389.5 497.8l-1.3 0.4M390.7 394.6l1.4 0.9M365.1 486.0l-0.6 0.8M315.3 485.0l-2.2 1.0M326.3 499.6l-0.4 0.2M312.9 446.7l0.7 1.3M339.3 491.2l-1.2 1.1M333.0 460.9l0.6 0.1M337.7 454.0l1.1 1.7M381.5 415.3l-1.0 0.2M386.4 510.5l-1.1 1.2M395.0 410.1l1.0 2.2M380.9 507.5l0.6 0.8M383.5 416.5l1.7 0.6M383.1 459.4l0.1 2.0M378.6 499.8l1.1 0.6M403.7 478.4l-0.3 0.8M343.5 498.1l0.4 1.1M347.6 422.9l0.4 0.1M414.3 449.3l2.3 1.5M384.5 435.4l2.1 0.1M360.9 421.2l0.9 0.8M411.7 451.0l0.2 0.3M406.2 397.5l0.2 0.4M318.5 396.0l1.1 1.2M345.6 425.9l0.5 0.1M373.7 406.0l-2.8 0.7M405.0 410.5l-2.8 0.2M387.4 501.9l1.0 1.5M418.3 431.4l0.4 0.7M369.6 509.4l-1.7 1.0M350.9 449.8l-2.6 0.0M353.6 392.1l1.8 1.0M404.2 393.7l1.0 1.1M386.8 460.0l0.0 1.0M408.8 479.6l0.3 1.6M304.0 390.3l-0.3 0.4M372.1 431.8l1.2 0.8M394.8 439.7l0.1 0.3M363.1 498.5l-0.2 2.9M341.6 487.4l1.6 0.5M302.8 508.4l1.3 0.9M368.9 502.8l0.2 2.1M331.0 418.9l-2.5 0.8M407.5 405.4l-0.2 0.8M397.2 403.5l-0.6 0.7M318.0 419.2l2.5 0.2M298.8 447.6l0.1 1.0M351.9 445.3l2.4 1.8M363.7 435.2l-1.3 0.3M315.7 487.4l-2.6 0.1M367.7 429.3l-1.9 0.9M412.3 425.1l-0.5 0.1M321.7 420.6l2.0 0.5M319.5 451.4l-1.0 0.0M357.9 438.1l-2.0 0.3M339.9 443.2l2.3 0.4M328.0 440.8l-0.5 1.9M399.8 457.1l-0.5 0.4M314.3 439.5l1.3 0.6M405.6 430.4l-2.3 1.2M303.6 413.9l-0.0 0.8M412.8 432.0l-0.3 0.3M399.3 411.8l0.7 0.0M394.6 429.1l-1.7 2.1M321.1 467.7l-1.6 0.7M350.7 406.1l-0.7 0.8M367.7 512.1l-2.2 1.0M360.2 505.1l-0.1 0.5M385.9 472.7l0.5 0.2M337.1 482.1l2.1 1.2M357.6 426.1l1.1 0.9M382.8 469.2l0.4 0.4M297.2 393.3l-0.5 0.3M313.5 503.1l0.9 0.7M366.3 484.3l0.3 0.2M306.5 499.3l1.6 0.1M311.9 499.1l1.0 0.2M393.7 436.6l-1.5 0.1M304.6 416.4l0.2 1.2M383.6 500.2l-1.0 0.4M344.2 509.4l2.5 1.5M353.6 453.8l-0.8 0.3M375.4 494.4l-0.1 2.0M327.4 412.7l-0.7 0.5M359.8 454.0l-0.0 1.6M302.9 458.8l1.4 0.3M317.4 444.5l1.2 0.8M296.4 512.3l0.3 0.3M362.9 390.2l-2.2 2.0M385.1 438.4l0.5 1.7M341.5 496.8l-0.6 0.7M338.3 412.0l-1.5 1.6M401.3 466.2l0.1 2.7M379.8 439.4l-2.3 1.3M393.2 467.4l-1.0 2.7M406.9 404.5l-0.9 0.3M333.0 439.1l0.5 0.6M412.2 401.5l1.7 2.3M342.2 453.6l-0.6 1.6M356.6 405.9l0.5 1.1M389.7 407.7l2.1 1.7M309.7 512.2l-0.1 0.4M359.3 483.1l-1.5 0.0M303.3 478.0l0.7 0.9M382.8 466.2l2.0 1.4M412.3 438.5l-2.5 1.5M410.4 480.6l0.4 2.8M376.6 445.1l0.7 0.9M406.5 500.2l1.1 2.0M333.0 426.4l0.6 0.1M312.3 501.1l-1.2 2.2M384.6 412.7l1.4 0.3M346.0 403.5l-0.8 2.4M383.4 393.2l-1.0 0.7M413.6 396.8l-1.8 0.2M396.8 418.4l0.2 2.2M334.0 458.8l2.9 0.1M358.5 426.3l1.8 1.2M321.4 459.8l0.4 0.8M308.3 392.1l-0.7 1.0M414.6 485.6l-2.4 0.4M305.7 488.4l-1.5 2.2M387.8 493.5l-0.5 0.6M324.0 426.5l-0.3 0.3M414.7 502.3l-1.6 1.0M416.6 492.2l-0.2 0.7M381.3 453.2l2.9 0.2M330.6 501.9l1.6 1.3M367.2 409.7l0.1 1.7M414.1 416.2l1.1 2.4M307.9 469.5l-1.2 1.0M301.0 391.5l0.2 2.3M408.1 443.7l-0.2 0.5M315.0 417.3l-0.3 0.6M381.5 422.4l-1.1 0.9M371.4 493.2l-1.1 1.1M416.2 447.6l0.1 1.7M365.7 447.4l0.2 0.7M398.9 413.7l-0.6 0.4M304.0 440.2l0.1 0.4M315.4 495.1l-0.5 0.9M357.2 442.7l-0.2 0.2M398.7 448.3l0.2 1.5M358.0 397.3l-1.2 1.7M375.3 502.7l-1.2 0.1M341.8 505.4l-0.1 1.8M375.6 423.0l-0.1 1.2M311.1 477.2l0.4 0.0M302.0 465.6l0.7 2.5M295.3 477.8l0.9 0.2M372.9 485.0l0.4 0.2M350.2 480.3l0.6 1.0M385.2 480.2l0.6 1.8M377.7 410.5l0.3 0.0M382.0 435.0l-0.2 1.4M363.0 431.2l0.4 0.3M305.0 392.3l-1.4 0.0M357.2 419.8l-2.6 0.3M364.4 475.2l0.2 0.6M360.1 393.3l0.6 0.2M322.0 404.7l-0.3 1.1M397.8 507.8l-0.7 0.0M369.4 481.2l-1.9 1.1M348.4 445.5l-0.2 2.3M297.7 440.4l0.8 0.3M358.0 441.2l-1.4 2.0M362.1 393.1l-0.7 0.2M297.9 455.5l0.8 0.1M371.4 463.1l0.8 0.9M388.9 430.9l1.5 0.2M398.7 407.8l0.2 0.7M417.3 463.1l-0.6 1.8M410.9 394.3l1.5 1.0M401.6 478.1l-0.4 2.7M389.7 493.1l0.5 0.6M405.0 441.1l-2.4 0.2M369.6 473.2l2.1 0.0M346.0 472.0l-0.8 2.2M408.1 458.8l-2.8 1.0M306.6 418.5l-0.9 1.5M329.6 507.1l0.1 0.4M303.3 395.5l0.3 1.0M406.8 454.3l1.2 1.2M353.8 492.5l0.9 1.8M295.5 465.6l-0.4 0.5M406.1 410.9l-0.2 1.4M406.1 467.0l-1.6 1.9M330.9 421.9l-0.1 0.5M381.6 468.5l-2.8 0.0M329.9 445.2l2.2 0.4M408.0 398.4l-1.3 2.5M318.6 458.3l-1.9 0.4M348.5 407.2l-1.1 0.6M393.6 416.4l1.3 0.1M313.7 466.8l0.9 0.4M346.0 433.6l2.0 0.6M370.6 459.6l-1.1 0.2M323.1 414.5l1.4 1.4M300.9 468.7l-1.0 0.9M335.2 447.8l-0.3 0.5M409.2 392.0l1.6 0.8M307.4 425.4l1.0 0.2M380.4 398.1l1.1 0.2M403.0 500.7l-1.7 1.7M300.1 471.2l0.2 1.6M379.5 406.7l-1.3 2.6M384.6 457.3l2.2 1.3M325.6 391.2l0.5 0.9M381.0 485.1l0.5 0.3M304.5 452.9l2.0 0.7M344.4 437.2l-0.3 0.1M310.9 469.0l2.4 0.4M315.5 411.1l0.4 0.4M345.5 512.3l0.0 0.7M296.9 491.0l0.3 1.6M295.7 416.8l0.3 1.9M346.8 461.4l0.7 2.0M344.9 395.3l-1.3 0.7M409.6 503.4l1.0 0.4M409.5 439.8l-0.2 0.8M397.4 422.0l1.2 2.3M311.3 415.4l-1.6 1.1M307.0 477.8l-1.0 0.5M297.6 464.6l-2.3 0.8M399.8 401.8l0.1 1.7M400.5 445.9l-0.2 0.3M410.0 416.7l0.8 0.3M406.8 392.5l0.2 0.4M334.4 401.3l-0.8 1.3M387.4 451.2l2.9 0.0M295.0 396.3l1.3 2.0M382.1 505.4l-1.2 0.0M356.3 398.0l0.9 2.1M295.2 456.9l0.3 0.2M316.2 414.4l-1.2 0.8M373.6 392.5l-0.5 2.2M345.9 458.6l-1.3 1.8M363.9 507.8l0.0 0.3M328.4 468.5l-0.5 1.0M321.6 453.5l-1.1 0.4M319.1 442.5l2.8 1.0M410.0 443.1l-0.4 1.1M298.3 497.1l2.1 1.1M315.9 508.8l-1.4 1.3M357.2 422.2l0.9 0.4M322.4 439.6l-1.7 0.2M359.5 403.2l-1.7 1.4M409.2 493.6l-0.8 0.5M362.3 407.0l-2.6 1.0M321.5 447.4l1.8 0.1M356.2 474.6l-1.2 0.5M380.0 444.8l-0.0 0.4M392.1 451.4l-1.2 0.5M302.6 390.7l-0.3 0.6M402.9 493.9l0.8 1.0M347.4 456.8l0.7 0.9M418.2 434.3l-1.5 0.8M417.2 480.7l-1.3 0.1M364.4 395.4l0.8 0.6M414.4 463.5l-0.8 0.8M376.0 506.3l1.0 0.6M349.9 452.9l-1.6 0.9M314.4 453.5l1.4 0.2M379.6 429.0l-0.3 0.9M367.7 460.9l0.8 1.1M389.7 469.6l2.0 1.0M371.0 466.8l1.2 0.9M381.8 412.3l1.6 1.4M357.9 434.0l1.6 1.0M369.3 411.9l0.0 0.5M363.9 502.5l-1.0 2.0M353.2 449.1l-0.6 0.2M299.3 511.8l-1.0 1.8M347.7 476.7l-1.0 0.8M297.7 498.8l-0.6 1.3M384.4 469.0l-1.0 0.2M322.5 455.8l0.0 0.5M375.6 473.2l-0.9 0.4M413.5 511.4l-0.2 1.1M312.6 496.3l1.5 1.3M390.4 483.2l-1.4 0.9M300.7 411.8l2.0 2.3M392.5 418.0l1.5 2.1M397.4 466.2l-0.3 1.0M396.4 435.1l-1.3 0.4M328.2 439.8l-0.3 0.4M335.3 397.8l0.2 2.0M413.1 409.0l-0.4 0.1M361.9 478.4l-0.4 1.5M338.6 404.9l-0.6 0.7M368.9 495.6l-1.5 1.2M345.5 452.9l-0.6 0.2M324.2 435.6l2.3 1.3M414.4 392.8l0.3 0.3M409.0 446.6l-0.7 2.5M349.0 479.2l0.5 0.1M410.4 446.3l0.6 0.5M385.3 497.5l2.0 0.1M306.7 485.6l-0.7 0.1M298.2 484.6l-0.5 2.0M394.7 463.8l-2.0 1.2M317.2 408.7l1.3 0.2M417.5 397.7l-1.1 2.1M337.2 419.6l-1.4 0.6M353.3 440.0l-1.5 1.0M374.7 464.1l0.7 1.0M407.1 438.1l1.8 0.4M379.7 434.4l-1.5 0.1M379.6 400.0l-0.1 0.7M347.5 446.2l2.4 0.1M383.6 496.1l-2.1 1.0M418.4 400.9l-0.5 0.4M324.3 409.8l0.3 2.4M326.2 447.8l-0.4 0.1M346.1 410.8l-1.7 1.5M415.9 505.3l-0.7 0.4M341.3 450.3l0.3 2.2M337.7 511.5l-0.2 2.2M347.6 417.3l-0.3 2.0M301.3 397.9l-0.3 1.0M358.5 415.1l1.4 1.3M387.8 464.9l0.6 0.3M327.0 408.0l-2.0 0.7M390.6 503.1l0.5 0.6M332.0 419.1l1.6 0.1M376.2 509.0l0.3 0.2M367.5 416.8l1.1 0.1M406.8 485.3l-1.9 0.2M333.2 477.0l2.5 0.6M408.1 457.7l1.3 0.4M308.7 480.5l1.4 0.5M342.8 460.4l-0.9 0.6M365.0 465.8l-1.9 0.6M409.7 412.4l-1.4 2.6M311.4 439.9l-2.1 0.1M324.7 441.3l0.9 0.3M394.2 413.7l2.2 0.2M326.8 454.2l2.4 0.3M406.8 448.2l-0.8 1.6M408.8 512.0l-0.2 1.5M358.3 477.8l-1.7 1.6M320.5 502.3l-1.0 0.9M365.4 428.1l-1.2 0.8M411.3 501.3l-0.1 0.4M347.1 429.5l-0.6 1.5M320.6 464.0l-0.7 0.0M295.4 423.8l0.5 0.7M317.6 393.1l0.1 0.5M355.1 469.7l1.8 1.7M390.5 473.6l1.1 1.2M311.5 407.1l-2.2 2.0M348.1 424.2l-2.2 0.3M390.3 458.5l1.4 1.4M403.6 402.1l-1.3 1.8M391.2 392.5l0.4 0.0M325.7 502.7l0.5 0.3M403.9 390.3l-0.1 0.6M343.3 409.5l-0.2 0.4M378.2 436.7l-0.3 0.5M311.6 490.2l0.1 1.3M383.6 467.6l-1.2 0.2M371.6 447.0l0.5 0.0M310.2 429.7l0.7 2.8M314.3 422.5l-1.2 2.0M297.8 452.7l-0.4 0.0M328.0 458.5l-0.6 0.9M332.6 465.2l0.8 0.8M389.5 418.1l-0.4 0.2M360.9 474.9l-0.8 0.9M310.5 445.5l0.4 0.1M330.6 404.3l-1.0 0.2M351.3 497.3l-0.3 0.1M350.6 431.1l1.0 1.0M403.9 399.1l1.1 2.2M369.4 444.3l1.9 1.5M347.0 442.1l0.2 0.6M418.5 445.8l-0.2 2.7M389.9 420.4l2.2 1.9M314.1 434.7l0.6 1.7M407.8 509.3l-1.7 0.3M352.2 402.7l0.3 0.6M339.1 397.6l-2.7 1.0M336.5 407.4l-2.9 0.4M311.9 427.5l0.5 0.6M334.3 395.5l-0.9 2.4M330.0 466.4l1.4 1.4M307.8 434.5l2.2 0.9M373.0 475.9l-0.6 2.3M336.4 453.4l-2.7 0.6M334.5 414.4l-0.2 1.0M334.7 431.8l2.9 0.1M414.8 469.3l2.7 0.2M375.2 483.8l0.2 0.6M333.1 400.9l-0.5 0.1M344.0 456.9l-0.5 0.8M362.4 484.3l-1.7 0.0M399.3 451.4l0.0 0.9M335.0 411.1l-0.2 2.3M410.9 474.5l2.5 0.6M343.8 399.2l-2.4 0.9M361.0 425.3l1.4 0.7M336.7 428.7l1.1 1.1M306.7 491.7l0.2 0.2M295.5 437.3l0.2 0.6M412.3 422.0l0.5 0.9M339.9 458.1l0.2 1.4M331.2 410.9l-0.8 0.9M412.5 471.4l-1.0 0.9M362.0 470.7l-2.6 0.0M310.9 413.5l1.8 1.0M337.0 391.5l-2.6 1.2M348.6 432.5l1.5 2.3M315.8 491.1l-0.3 0.5M400.1 390.5l1.4 0.7M312.5 436.2l-0.8 0.2M337.9 396.8l-2.3 1.1M314.2 508.1l0.2 1.4M329.1 393.1l1.0 0.7M357.3 510.6l-2.1 1.0M380.7 418.8l0.8 0.2M316.5 421.9l0.3 0.4M347.9 490.7l-0.5 0.7M410.0 406.0l2.8 0.1M387.6 392.6l-0.4 1.8M298.4 402.9l-0.4 0.1M308.4 454.8l-1.0 2.3M356.0 452.0l-1.5 1.8M416.9 424.1l0.3 2.5M389.9 398.2l0.4 1.5M409.6 431.4l-0.7 0.7M311.2 475.1l-2.7 1.0M384.9 476.0l-1.1 0.1M397.5 399.3l0.7 0.6M410.7 477.9l-1.1 2.5M392.0 511.2l-1.8 0.4M306.0 391.5l-0.0 2.0M311.7 493.8l-1.9 0.0M361.6 467.8l1.9 0.7M416.2 430.0l-0.2 0.7M313.9 479.1l0.0 2.8M333.1 458.2l-1.3 0.5M320.3 495.5l-1.6 1.6M418.6 424.0l-0.6 0.1M386.4 441.1l-1.3 1.1M353.2 471.6l-1.2 0.5M351.5 421.8l0.7 1.1M410.7 505.6l-0.2 1.1M403.7 396.3l-1.9 2.1M326.2 493.5l0.3 0.2M314.9 447.3l-2.3 0.3M349.7 428.6l0.1 1.8M306.0 501.4l0.0 2.0M365.7 490.6l-0.3 0.5M313.9 492.7l-2.5 1.4M385.6 453.9l0.4 0.2M299.2 467.5l-1.5 0.3M393.4 422.6l0.6 0.4M311.8 391.7l2.0 1.3M371.5 467.1l-1.6 0.4M409.7 498.6l0.5 1.2M314.2 475.0l0.9 0.7M414.2 487.6l-1.2 2.5M395.7 451.4l2.6 0.2M381.2 493.0l-1.7 1.0M303.6 480.7l1.4 0.2M371.0 472.7l-1.7 2.4M417.0 455.3l0.7 0.9M367.9 486.5l0.2 0.5M365.2 479.8l-0.7 0.8M369.9 417.6l1.9 0.8M390.2 485.8l-0.6 0.5M378.9 504.3l-0.8 2.0M326.1 466.4l-0.6 0.3M337.1 401.8l0.3 1.0M309.6 444.6l-1.6 0.7M320.1 450.6l-1.3 0.3M356.3 453.5l2.4 0.1M350.4 455.4l-1.4 0.3M326.5 505.4l-1.4 0.0M301.7 435.8l1.0 0.5M340.4 396.2l-0.5 0.3M310.1 397.3l-0.7 0.0M314.8 481.7l0.5 1.6M317.7 445.5l0.7 1.3M307.6 507.5l0.1 2.2M333.5 392.6l-2.7 0.2M366.5 450.9l-0.6 0.6M342.5 508.8l-1.1 1.7M396.1 497.5l-0.4 1.2M302.0 450.7l-0.7 2.4M381.2 421.6l0.7 1.5M311.8 459.7l1.0 1.3M382.0 456.7l-0.3 2.1M309.8 485.9l-0.5 1.5M350.5 484.3l1.3 0.6M349.3 494.6l0.0 0.7M393.4 405.8l-0.4 0.2M410.4 443.7l-0.9 1.0M364.5 469.4l1.4 0.2M295.8 484.2l-0.6 1.7M305.0 411.0l0.4 0.4M352.5 507.2l0.2 0.6M328.8 501.4l0.3 2.3M361.7 505.1l-0.1 3.0M398.1 478.4l0.8 0.9M348.0 469.6l0.2 0.7M405.0 435.2l1.6 1.0M398.1 426.3l-2.1 0.5M363.3 511.8l0.8 1.7M322.3 413.4l1.5 0.2M318.7 401.9l2.4 1.4M394.6 504.5l-2.7 0.2M412.6 428.3l-0.3 0.4M362.1 403.0l1.5 1.2M408.1 402.1l-0.0 1.3M403.0 477.9l1.3 2.5M344.5 391.6l-2.2 1.9M377.9 503.3l0.9 0.4M334.5 432.6l-1.7 0.3M365.5 401.3l-0.2 0.7M408.8 453.2l1.6 1.2M345.7 505.9l-0.5 0.2M404.7 459.9l-0.3 0.2M337.9 434.5l0.9 2.1M298.3 496.3l-1.2 0.5M302.2 426.2l0.1 0.4M370.2 420.6l-1.1 1.6M382.0 395.6l-0.4 0.5M342.7 458.0l-1.6 0.9M412.2 458.8l-2.7 1.1M311.8 510.7l1.6 0.1M361.5 492.8l-0.1 0.7M355.9 396.1l-1.9 1.3M335.1 454.6l-1.4 2.6M378.9 420.4l0.2 0.4M377.1 481.5l1.3 1.5M401.2 463.2l-1.4 1.7M395.1 461.3l2.0 0.9M392.2 427.7l-0.3 0.4M392.1 411.3l-0.4 1.7M312.6 510.7l0.8 2.2M410.9 417.5l2.4 1.0M371.1 482.2l-1.3 0.4M323.6 401.0l-2.2 1.9M383.4 447.9l-0.5 1.1M343.6 420.4l-2.2 1.3M415.2 457.3l-2.4 0.0M337.7 469.4l1.3 0.2M352.1 448.2l-0.0 0.6M335.6 402.1l0.2 2.0M301.8 467.6l-0.6 0.7M391.2 477.1l-2.0 1.4M314.0 455.1l-1.9 1.0M332.0 473.8l0.3 1.4M351.9 477.5l2.8 0.9M389.0 427.1l-0.3 1.2M414.8 435.1l-0.2 2.9M373.5 494.7l1.5 1.7M363.0 404.4l-1.8 0.9M355.6 480.8l-0.6 0.0M373.6 460.6l-0.2 0.3M385.8 501.0l-0.6 1.3M351.3 487.5l0.2 0.3M391.5 480.1l0.5 0.5M359.2 412.5l-2.3 0.9M340.2 489.5l2.0 1.0M294.9 454.4l1.0 1.1M331.2 476.8l0.3 0.3M320.3 506.1l-1.4 1.5M397.7 475.9l1.4 1.1M407.2 407.9l2.7 0.9M400.8 473.7l-1.3 0.1M393.5 469.5l1.0 0.3M399.7 480.8l0.9 0.4M370.6 511.8l0.8 0.1M340.9 407.2l-1.1 0.8M341.3 503.0l-0.1 0.3M398.1 455.7l-0.4 2.8M337.1 450.2l-1.5 2.2M343.5 452.4l-1.3 0.1M391.8 485.6l0.9 2.4M315.4 400.4l1.0 1.6M407.0 451.8l0.3 0.4M369.8 397.0l0.5 1.2M352.1 451.5l-0.1 0.5M335.3 508.3l0.2 1.0M302.1 501.9l-0.8 0.3M354.6 401.9l1.3 2.6M394.0 414.2l-1.3 0.7M313.1 452.5l-1.5 0.6M371.9 507.4l0.4 0.5M398.3 407.9l-1.0 0.0M402.9 475.9l-0.5 1.4M365.0 452.7l0.4 2.8M330.7 492.8l2.4 0.6M336.7 444.6l1.3 1.7M385.9 425.7l-2.3 0.2M337.9 493.5l-0.5 2.2M394.0 509.6l1.2 0.2M345.6 437.3l0.6 1.0M340.8 494.1l-0.9 1.3M389.0 422.5l-1.2 1.7M345.7 492.9l0.1 0.4M397.5 419.3l-0.4 0.1M374.6 502.2l0.2 0.7M341.0 391.4l-1.2 0.5M318.2 487.1l-2.3 0.4M398.6 498.7l1.3 1.4M349.2 498.3l1.6 2.1M336.2 465.1l-1.7 1.8M317.3 500.6l0.0 1.7M418.3 414.3l0.4 2.7M338.9 470.2l-0.4 0.2M386.2 454.1l-2.4 0.2M301.7 486.4l-0.1 1.7M309.9 409.5l-1.8 1.1M301.1 424.0l-1.1 2.4M328.7 462.3l-1.2 1.5M359.2 501.5l0.9 2.2M296.0 505.1l0.5 0.1M366.7 488.3l0.2 2.4M343.3 484.0l-0.8 0.8M415.5 492.6l-2.7 0.7M332.2 507.5l-0.6 1.4M418.8 504.6l-2.9 0.0M339.6 405.8l0.4 0.7M342.1 446.7l0.9 1.1M414.6 445.3l0.5 0.2M411.5 503.3l-0.8 2.3M335.5 473.1l2.0 2.3M313.9 459.8l2.9 0.2M342.4 398.3l2.4 1.0M312.5 487.6l-0.4 0.5M392.3 402.9l-1.3 2.4M313.7 443.7l0.5 0.3M378.2 417.1l-0.4 2.2M379.1 424.5l-0.4 0.5M323.4 475.7l-0.6 0.6M305.4 419.9l-0.3 2.5M396.0 414.0l0.5 2.7M396.8 481.0l-1.1 0.6M331.4 448.6l0.3 0.9M417.3 390.6l-1.5 1.9M312.8 405.5l-0.5 0.6M315.4 472.2l1.1 0.4M380.6 452.3l-1.4 1.8M298.2 432.9l0.4 0.6M321.0 472.0l2.6 1.5M387.6 404.3l2.2 1.3M383.6 510.8l-0.0 2.2M321.8 469.9l2.5 0.1M409.8 455.6l0.3 0.3M385.8 405.3l-0.1 0.8M304.2 448.7l0.6 0.7M367.8 507.4l-2.4 1.5M341.1 478.2l0.0 1.2M351.5 427.4l0.1 0.3M314.7 508.8l1.0 1.0M358.8 494.5l-1.1 0.0M369.9 450.9l-0.2 0.3M317.1 510.2l-1.0 0.1M417.2 458.1l-0.5 0.2M318.1 415.2l0.5 0.4M317.5 476.3l1.0 1.5M337.8 393.8l1.6 1.7M299.0 494.7l-1.9 0.2M376.7 485.7l-0.3 0.2M384.2 433.7l1.3 1.4M366.9 419.4l-1.2 1.5M297.6 507.0l0.3 0.7M374.4 511.3l-1.4 2.2M356.8 445.5l2.3 1.6M320.2 408.8l1.5 1.4M383.7 431.0l0.7 0.8M324.2 463.2l-0.4 2.4M320.6 467.5l1.0 1.8M307.6 414.9l-0.7 0.0M360.5 480.0l-2.4 1.5M311.9 392.7l2.7 0.3M326.7 428.2l-1.8 0.1M402.7 451.0l-2.0 1.4M371.8 409.7l-2.0 0.8M352.8 437.8l-0.4 0.2M356.2 456.0l0.2 1.4M317.3 406.2l-0.3 0.1M376.6 432.8l0.3 1.0M355.2 492.0l1.3 2.2M373.2 418.8l0.7 0.1M359.1 450.0l-0.8 0.4M395.1 485.2l-0.8 2.4M360.7 401.1l1.5 0.6M300.4 489.9l-0.4 0.7M382.5 401.1l1.6 1.3M317.0 448.8l0.2 1.1M373.9 509.8l-0.8 1.0M393.7 460.9l1.8 0.7M382.5 431.8l0.1 2.9M403.2 437.8l0.8 1.7M369.7 447.1l-0.6 0.4M322.4 391.6l0.2 0.9M379.0 448.9l1.3 2.2M347.6 391.1l2.0 1.2M391.7 453.8l-0.5 1.0M377.8 451.8l-0.7 2.0M352.2 456.2l0.6 2.0M370.9 497.0l-1.0 0.5M378.2 441.7l-2.3 1.1M345.0 394.8l0.5 0.6M415.2 404.6l0.2 1.3M387.6 443.3l-0.1 0.9M387.1 482.6l-2.2 0.4M328.9 460.4l1.6 2.0M298.0 427.0l1.0 1.2M382.6 465.9l-0.3 0.1M367.3 404.7l-2.1 0.6M302.5 405.7l0.8 0.5M357.5 453.2l-1.0 0.9M342.0 406.8l-2.9 0.8M307.4 473.5l-1.7 0.6M347.9 428.9l-1.3 0.9M376.4 424.1l-1.1 0.4M352.8 500.8l-0.2 2.6M369.8 462.9l-1.0 1.1M299.8 502.7l0.7 2.3M385.4 468.0l1.6 0.9M368.8 456.8l-0.1 0.3M344.6 479.1l0.8 1.0M413.5 453.4l0.1 0.3M343.7 434.1l0.9 1.2M323.5 511.2l-0.9 2.3M299.3 449.6l0.5 2.3M346.7 415.1l0.2 2.1M313.8 481.4l-0.7 0.3M411.7 444.6l1.6 1.1M309.3 506.1l0.5 2.0M319.5 405.0l-2.5 1.6M331.8 451.1l0.7 0.7M380.4 495.1l-0.1 0.9M315.8 471.6l-0.5 1.7M340.0 416.6l2.9 0.4M401.1 437.8l-2.8 0.8M416.7 512.1l-1.5 1.2M401.1 430.3l-1.5 0.9M307.1 504.1l-1.2 1.6M375.6 427.9l0.0 0.4M384.5 408.4l1.8 0.9M357.6 434.8l-0.5 0.6M301.6 408.4l-0.2 0.8M408.7 401.0l1.2 1.6M339.3 507.7l-1.4 1.5M384.5 463.4l-1.0 1.1M336.1 409.6l0.8 1.6M335.1 459.6l-0.4 1.1M362.4 470.8l1.2 2.4M296.0 459.7l-0.2 0.4M388.5 414.9l-2.3 0.1M319.7 426.8l1.2 1.8M418.9 427.2l-1.5 0.7M376.0 439.2l-1.1 1.7M374.9 389.2l1.2 2.6M358.7 472.7l-0.2 0.4M329.9 505.1l-0.9 1.6M339.4 494.0l1.0 1.3M398.2 440.0l-0.9 0.5M298.3 462.3l-0.2 0.4M346.3 488.7l-1.0 0.1M404.8 482.5l-0.5 0.1M360.3 421.6l0.6 1.6M358.7 476.9l2.4 1.5M407.5 439.8l-2.3 1.9M399.9 505.4l-0.3 1.9M314.6 462.0l0.5 2.2M361.3 511.3l-1.7 0.0M314.9 395.9l-1.2 0.7M398.0 500.0l-2.4 1.1M316.3 505.1l1.1 2.5M359.3 487.9l-2.5 0.8M331.5 423.6l2.6 0.1M406.4 474.3l2.6 0.2M404.1 512.3l-0.3 0.6M306.6 470.4l-1.9 0.8M323.3 443.2l2.0 1.9M304.1 437.6l0.8 0.4M333.6 491.2l1.1 2.1M332.5 415.4l-0.2 1.7M378.9 404.9l-0.8 0.8M365.7 456.5l-1.1 1.5M360.0 435.6l-2.3 0.1M366.4 491.8l1.7 2.4M350.0 429.0l1.5 0.0M319.5 509.3l0.0 0.8M350.1 459.3l0.4 0.6M411.7 407.5l-0.3 0.0M321.8 417.7l-0.3 0.2M310.5 487.0l-0.4 1.5M312.5 454.1l-0.9 2.7M373.4 413.9l2.5 1.5M392.9 451.7l1.1 1.3M388.7 447.3l1.1 1.3M301.3 492.2l0.5 0.6M395.4 406.4l-0.3 2.0M366.9 432.3l-2.7 1.2M309.9 391.2l0.6 0.1M362.7 410.1l2.5 0.9M350.4 451.6l0.8 1.5M350.7 491.5l-0.4 1.5M340.1 485.5l-0.5 0.7M403.6 509.1l-0.4 1.2M344.4 429.9l-1.6 1.5M368.5 479.9l1.8 0.1M372.5 421.4l-2.6 0.5M299.5 494.3l0.6 0.0M394.1 475.7l1.1 0.2M352.0 394.3l0.4 0.9M303.7 483.8l-0.1 0.7M343.7 495.5l-1.2 0.6M379.6 434.8l-0.5 0.2M312.4 497.8l-2.5 1.2M379.0 426.8l-0.5 2.7M358.4 407.5l-0.4 2.6M354.0 410.1l0.1 0.4M368.3 403.0l-0.5 0.8M340.2 503.6l1.3 1.5M364.9 505.7l0.4 0.0M337.7 481.7l-0.4 1.5M340.1 400.6l1.6 0.6M361.0 446.7l0.9 1.0M364.9 492.9l0.5 2.8M306.4 482.7l-0.1 0.4M298.1 446.6l-0.2 0.5M310.6 464.1l1.6 1.1M403.5 472.3l0.4 0.1M412.4 491.1l-1.7 2.1M318.8 454.3l-0.9 0.7M310.3 453.7l-0.6 1.3M359.1 490.0l0.6 2.2M388.9 474.2l-0.2 0.3M329.4 448.0l-2.0 0.7M367.4 500.4l2.4 0.4M361.0 433.4l0.9 0.3M314.0 421.5l-0.4 1.1M389.5 418.8l0.3 1.1M417.8 473.5l-0.7 0.2M330.8 445.3l-1.2 0.2M408.5 423.6l0.4 0.2M324.3 508.6l0.2 0.3M336.1 489.5l0.0 0.8M317.9 469.6l0.1 2.9M332.2 430.3l-1.1 2.2M347.6 394.9l1.2 2.6M328.7 473.4l0.6 0.6M409.0 509.5l0.4 0.2M341.5 403.0l1.5 0.2M352.4 500.6l0.5 2.5M328.5 430.8l-0.3 0.7M299.7 419.1l-0.1 0.6M366.6 477.3l-0.4 0.4M331.5 483.1l0.8 2.8M360.8 410.1l2.6 0.8M368.9 406.8l2.0 0.0M347.0 497.0l-0.9 0.6M383.1 393.8l-0.6 0.2M341.1 427.2l1.1 0.4" stroke="#1cd81c" stroke-width="1.85"/>
<path d="M356.6 510.3l0.0 0.0M327.5 438.1l0.0 0.0M303.0 470.9l0.0 0.0M359.5 430.8l0.0 0.0M367.6 397.7l0.0 0.0M397.9 414.9l0.0 0.0M337.2 484.4l0.0 0.0M337.3 461.7l0.0 0.0M411.3 451.9l0.0 0.0M414.8 475.2l0.0 0.0M310.4 473.5l0.0 0.0M318.7 440.4l0.0 0.0M368.3 428.0l0.0 0.0M329.9 482.4l0.0 0.0M397.6 472.8l0.0 0.0M406.2 479.5l0.0 0.0M378.1 477.1l0.0 0.0M381.2 478.3l0.0 0.0M376.8 469.0l0.0 0.0M404.8 405.8l0.0 0.0M417.9 440.0l0.0 0.0M371.7 422.5l0.0 0.0M386.0 506.9l0.0 0.0M347.6 481.5l0.0 0.0M394.7 501.2l0.0 0.0M350.3 503.1l0.0 0.0M296.6 435.0l0.0 0.0M319.1 404.9l0.0 0.0M300.9 482.0l0.0 0.0M338.3 464.3l0.0 0.0M410.3 477.2l0.0 0.0M298.9 488.7l0.0 0.0M329.6 452.0l0.0 0.0M391.7 507.3l0.0 0.0M403.2 414.7l0.0 0.0M372.5 442.0l0.0 0.0M345.6 484.3l0.0 0.0M328.8 504.7l0.0 0.0M375.4 447.4l0.0 0.0M340.8 483.1l0.0 0.0M362.0 487.0l0.0 0.0M340.8 471.3l0.0 0.0M307.7 407.6l0.0 0.0M339.2 505.9l0.0 0.0M329.3 478.4l0.0 0.0M338.0 410.2l0.0 0.0M358.7 462.4l0.0 0.0M402.5 484.5l0.0 0.0M383.5 488.9l0.0 0.0M362.7 493.5l0.0 0.0M411.7 509.4l0.0 0.0M406.8 495.3l0.0 0.0M389.3 435.9l0.0 0.0M307.0 504.8l0.0 0.0M336.1 442.8l0.0 0.0M355.2 480.8l0.0 0.0M394.2 454.2l0.0 0.0M388.0 401.6l0.0 0.0M366.5 498.4l0.0 0.0M372.4 504.8l0.0 0.0M357.9 400.4l0.0 0.0M338.0 391.4l0.0 0.0M378.6 502.4l0.0 0.0M364.8 486.4l0.0 0.0M313.2 447.3l0.0 0.0M333.3 461.0l0.0 0.0M381.1 415.4l0.0 0.0M385.8 511.1l0.0 0.0M395.5 411.2l0.0 0.0M381.2 507.9l0.0 0.0M383.1 460.4l0.0 0.0M343.8 498.7l0.0 0.0M415.5 450.0l0.0 0.0M372.3 406.4l0.0 0.0M387.8 502.6l0.0 0.0M418.5 431.7l0.0 0.0M368.7 509.9l0.0 0.0M349.6 449.8l0.0 0.0M408.9 480.3l0.0 0.0M363.0 499.9l0.0 0.0M303.5 508.9l0.0 0.0M329.8 419.2l0.0 0.0M319.2 419.4l0.0 0.0M353.1 446.2l0.0 0.0M412.1 425.2l0.0 0.0M322.7 420.9l0.0 0.0M356.9 438.3l0.0 0.0M399.5 457.3l0.0 0.0M314.9 439.8l0.0 0.0M303.6 414.3l0.0 0.0M412.7 432.2l0.0 0.0M386.1 472.8l0.0 0.0M312.4 499.2l0.0 0.0M393.0 436.7l0.0 0.0M304.7 416.9l0.0 0.0M327.0 412.9l0.0 0.0M318.1 444.9l0.0 0.0M296.5 512.4l0.0 0.0M401.3 467.5l0.0 0.0M333.3 439.4l0.0 0.0M356.9 406.4l0.0 0.0M303.6 478.4l0.0 0.0M383.8 466.9l0.0 0.0M411.0 439.2l0.0 0.0M377.0 445.6l0.0 0.0M382.8 393.6l0.0 0.0M396.9 419.5l0.0 0.0M335.5 458.8l0.0 0.0M413.4 485.8l0.0 0.0M304.9 489.5l0.0 0.0M387.5 493.8l0.0 0.0M323.8 426.7l0.0 0.0M414.0 502.8l0.0 0.0M331.4 502.6l0.0 0.0M367.2 410.5l0.0 0.0M414.7 417.4l0.0 0.0M408.0 444.0l0.0 0.0M314.8 417.6l0.0 0.0M370.8 493.8l0.0 0.0M416.3 448.5l0.0 0.0M398.7 413.9l0.0 0.0M357.1 442.8l0.0 0.0M357.4 398.2l0.0 0.0M302.3 466.9l0.0 0.0M295.8 477.9l0.0 0.0M385.5 481.1l0.0 0.0M363.2 431.4l0.0 0.0M364.4 475.5l0.0 0.0M360.4 393.4l0.0 0.0M321.9 405.3l0.0 0.0M397.4 507.8l0.0 0.0M361.7 393.3l0.0 0.0M298.3 455.5l0.0 0.0M389.7 431.0l0.0 0.0M417.0 464.1l0.0 0.0M411.6 394.8l0.0 0.0M401.4 479.5l0.0 0.0M370.6 473.2l0.0 0.0M406.7 459.3l0.0 0.0M306.1 419.2l0.0 0.0M405.3 468.0l0.0 0.0M380.2 468.5l0.0 0.0M407.4 399.7l0.0 0.0M347.9 407.5l0.0 0.0M314.2 467.1l0.0 0.0M370.1 459.7l0.0 0.0M323.8 415.3l0.0 0.0M335.1 448.0l0.0 0.0M380.9 398.2l0.0 0.0M325.8 391.7l0.0 0.0M305.5 453.3l0.0 0.0M312.1 469.2l0.0 0.0M345.5 512.7l0.0 0.0M295.8 417.8l0.0 0.0M347.2 462.4l0.0 0.0M409.4 440.2l0.0 0.0M398.0 423.1l0.0 0.0M310.5 416.0l0.0 0.0M399.8 402.7l0.0 0.0M334.0 402.0l0.0 0.0M388.9 451.2l0.0 0.0M295.6 397.2l0.0 0.0M364.0 508.0l0.0 0.0M328.2 469.0l0.0 0.0M321.1 453.7l0.0 0.0M320.6 443.0l0.0 0.0M409.9 443.6l0.0 0.0M315.2 509.4l0.0 0.0M358.6 403.9l0.0 0.0M408.8 493.9l0.0 0.0M361.0 407.5l0.0 0.0M322.4 447.5l0.0 0.0M391.5 451.6l0.0 0.0M417.4 434.7l0.0 0.0M379.4 429.5l0.0 0.0M382.6 413.0l0.0 0.0M369.3 412.1l0.0 0.0M298.8 512.7l0.0 0.0M322.5 456.1l0.0 0.0M413.5 512.0l0.0 0.0M313.3 496.9l0.0 0.0M397.2 466.7l0.0 0.0M368.2 496.2l0.0 0.0M345.2 452.9l0.0 0.0M325.4 436.2l0.0 0.0M414.5 393.0l0.0 0.0M408.6 447.8l0.0 0.0M349.2 479.3l0.0 0.0M410.7 446.6l0.0 0.0M317.8 408.8l0.0 0.0M336.5 419.9l0.0 0.0M375.0 464.6l0.0 0.0M408.0 438.3l0.0 0.0M382.5 496.6l0.0 0.0M324.5 411.0l0.0 0.0M345.3 411.5l0.0 0.0M337.6 512.6l0.0 0.0M390.9 503.4l0.0 0.0M334.4 477.3l0.0 0.0M309.4 480.8l0.0 0.0M325.1 441.4l0.0 0.0M411.3 501.5l0.0 0.0M346.8 430.3l0.0 0.0M295.7 424.1l0.0 0.0M403.0 403.0l0.0 0.0M391.5 392.6l0.0 0.0M403.9 390.6l0.0 0.0M311.6 490.8l0.0 0.0M327.7 458.9l0.0 0.0M351.2 497.3l0.0 0.0M351.1 431.6l0.0 0.0M390.9 421.3l0.0 0.0M352.3 403.0l0.0 0.0M372.7 477.1l0.0 0.0M334.4 414.9l0.0 0.0M332.9 400.9l0.0 0.0M343.7 457.3l0.0 0.0M361.6 484.3l0.0 0.0M295.6 437.6l0.0 0.0M412.0 471.8l0.0 0.0M311.8 414.0l0.0 0.0M336.8 397.3l0.0 0.0M314.3 508.7l0.0 0.0M347.6 491.0l0.0 0.0M411.4 406.0l0.0 0.0M387.4 393.5l0.0 0.0M307.9 455.9l0.0 0.0M355.3 452.9l0.0 0.0M417.0 425.3l0.0 0.0M390.1 399.0l0.0 0.0M409.3 431.8l0.0 0.0M305.9 392.5l0.0 0.0M310.8 493.8l0.0 0.0M313.9 480.5l0.0 0.0M385.7 441.7l0.0 0.0M410.6 506.2l0.0 0.0M402.8 397.4l0.0 0.0M313.7 447.4l0.0 0.0M365.6 490.9l0.0 0.0M298.5 467.7l0.0 0.0M410.0 499.2l0.0 0.0M413.6 488.9l0.0 0.0M397.0 451.5l0.0 0.0M304.3 480.8l0.0 0.0M368.0 486.7l0.0 0.0M364.8 480.2l0.0 0.0M325.7 466.5l0.0 0.0M308.8 444.9l0.0 0.0M319.4 450.8l0.0 0.0M357.5 453.6l0.0 0.0M349.7 455.5l0.0 0.0M325.8 505.4l0.0 0.0M302.2 436.0l0.0 0.0M309.8 397.3l0.0 0.0M315.1 482.5l0.0 0.0M318.1 446.1l0.0 0.0M332.2 392.7l0.0 0.0M342.0 509.6l0.0 0.0M381.9 457.8l0.0 0.0M309.5 486.6l0.0 0.0M351.2 484.6l0.0 0.0M393.2 405.9l0.0 0.0M410.0 444.2l0.0 0.0M365.1 469.5l0.0 0.0M328.9 502.5l0.0 0.0M398.5 478.9l0.0 0.0M405.8 435.7l0.0 0.0M393.3 504.6l0.0 0.0M412.4 428.5l0.0 0.0M343.4 392.5l0.0 0.0M378.3 503.5l0.0 0.0M333.7 432.8l0.0 0.0M365.4 401.7l0.0 0.0M409.6 453.8l0.0 0.0M297.7 496.6l0.0 0.0M302.2 426.3l0.0 0.0M369.6 421.5l0.0 0.0M381.7 395.9l0.0 0.0M354.9 396.7l0.0 0.0M379.0 420.6l0.0 0.0M400.5 464.1l0.0 0.0M396.1 461.7l0.0 0.0M392.1 427.8l0.0 0.0M412.1 418.0l0.0 0.0M322.5 402.0l0.0 0.0M335.7 403.1l0.0 0.0M353.3 477.9l0.0 0.0M388.8 427.7l0.0 0.0M374.3 495.6l0.0 0.0M385.5 501.6l0.0 0.0M391.7 480.3l0.0 0.0M358.1 413.0l0.0 0.0M341.2 490.0l0.0 0.0M331.4 476.9l0.0 0.0M400.2 473.8l0.0 0.0M341.2 503.1l0.0 0.0M397.9 457.2l0.0 0.0M336.4 451.3l0.0 0.0M392.2 486.8l0.0 0.0M301.7 502.0l0.0 0.0M397.8 408.0l0.0 0.0M345.9 437.9l0.0 0.0M388.4 423.3l0.0 0.0M340.4 391.7l0.0 0.0M317.0 487.3l0.0 0.0M399.2 499.4l0.0 0.0M350.0 499.4l0.0 0.0M338.7 470.3l0.0 0.0M301.7 487.3l0.0 0.0M300.5 425.2l0.0 0.0M359.6 502.6l0.0 0.0M366.8 489.5l0.0 0.0M417.3 504.6l0.0 0.0M339.8 406.1l0.0 0.0M342.6 447.3l0.0 0.0M411.1 504.5l0.0 0.0M343.7 398.8l0.0 0.0M312.3 487.9l0.0 0.0M391.7 404.1l0.0 0.0M313.9 443.9l0.0 0.0M331.5 449.0l0.0 0.0M379.9 453.2l0.0 0.0M298.4 433.2l0.0 0.0M322.2 472.7l0.0 0.0M388.7 405.0l0.0 0.0M385.7 405.7l0.0 0.0M351.6 427.6l0.0 0.0M369.8 451.1l0.0 0.0M316.6 510.3l0.0 0.0M416.9 458.2l0.0 0.0M318.0 477.0l0.0 0.0M338.6 394.7l0.0 0.0M376.5 485.9l0.0 0.0M358.0 446.2l0.0 0.0M384.1 431.4l0.0 0.0M324.0 464.4l0.0 0.0M321.1 468.4l0.0 0.0M359.3 480.7l0.0 0.0M401.7 451.7l0.0 0.0M370.8 410.1l0.0 0.0M352.6 437.9l0.0 0.0M361.5 401.4l0.0 0.0M317.1 449.4l0.0 0.0M373.6 510.3l0.0 0.0M394.6 461.2l0.0 0.0M382.5 433.2l0.0 0.0M403.6 438.7l0.0 0.0M322.5 392.1l0.0 0.0M377.5 452.8l0.0 0.0M352.5 457.2l0.0 0.0M415.3 405.2l0.0 0.0M387.6 443.7l0.0 0.0M386.0 482.8l0.0 0.0M329.7 461.4l0.0 0.0M298.5 427.6l0.0 0.0M306.5 473.8l0.0 0.0M347.2 429.4l0.0 0.0M300.1 503.9l0.0 0.0M386.2 468.4l0.0 0.0M368.7 456.9l0.0 0.0M345.0 479.6l0.0 0.0M344.1 434.7l0.0 0.0M299.5 450.8l0.0 0.0M346.8 416.1l0.0 0.0M313.4 481.6l0.0 0.0M309.5 507.1l0.0 0.0M332.1 451.4l0.0 0.0M380.4 495.6l0.0 0.0M315.6 472.4l0.0 0.0M399.7 438.2l0.0 0.0M385.4 408.9l0.0 0.0M357.4 435.1l0.0 0.0M334.9 460.2l0.0 0.0M295.9 459.9l0.0 0.0M298.3 462.5l0.0 0.0M360.6 422.4l0.0 0.0M332.8 423.6l0.0 0.0M404.0 512.6l0.0 0.0M367.3 493.0l0.0 0.0M350.8 429.0l0.0 0.0M319.5 509.7l0.0 0.0M365.5 432.9l0.0 0.0M350.8 452.3l0.0 0.0M350.5 492.3l0.0 0.0M339.9 485.9l0.0 0.0M403.4 509.7l0.0 0.0M343.6 430.6l0.0 0.0M371.2 421.7l0.0 0.0M352.2 394.7l0.0 0.0M379.4 434.9l0.0 0.0M358.2 408.8l0.0 0.0M368.0 403.4l0.0 0.0M340.8 504.4l0.0 0.0M337.5 482.4l0.0 0.0M411.6 492.1l0.0 0.0M359.4 491.1l0.0 0.0M328.4 448.3l0.0 0.0M361.4 433.6l0.0 0.0M313.8 422.0l0.0 0.0M330.2 445.4l0.0 0.0M408.6 423.7l0.0 0.0M336.1 489.9l0.0 0.0M317.9 471.1l0.0 0.0M331.6 431.4l0.0 0.0M352.6 501.8l0.0 0.0M362.1 410.5l0.0 0.0M346.6 497.3l0.0 0.0M341.7 427.4l0.0 0.0" stroke="#3cf23c" stroke-width="1.1"/>
</g>
<rect x="384.0" y="503.5" width="27.0" height="1.8" fill="#fff"/>
<text x="397.5" y="501.5" font-size="6.5" text-anchor="middle" style="fill:#fff;stroke:#000;stroke-width:1.6;paint-order:stroke">250 μm</text>
<text x="411.3" y="510.8" font-size="4.4" text-anchor="end" style="fill:#f0f4f0">2X</text>
<path d="M384.3 507.7h1.2v2.4" stroke="#c8d0c8" stroke-width="0.5" fill="none"/>
</g>
<g id="panel-tcp">
<clipPath id="c-tcp"><rect x="421.3" y="390.0" width="123.4" height="123.29999999999995"/></clipPath>
<rect x="421.3" y="390.0" width="123.4" height="123.29999999999995" fill="#020402"/>
<g clip-path="url(#c-tcp)" filter="url(#soft)" fill="none" stroke-linecap="round">
<path d="M471.8 456.7l0.1 0.1M436.1 390.8l-0.1 1.6M506.9 430.1l-0.9 0.5M435.6 399.1l-0.3 0.0M498.2 508.7l0.3 0.8M534.0 413.5l0.1 0.1M501.9 430.3l-0.3 0.9M426.5 409.7l1.2 0.1M465.1 414.2l0.7 1.2M495.6 397.7l1.0 0.2M500.4 423.3l0.7 0.9M527.7 463.6l0.0 0.5M537.7 399.3l-1.1 0.2M430.1 423.4l1.4 0.6M486.4 428.8l0.0 1.5M506.0 488.6l-1.2 0.1M506.2 444.9l-0.7 1.0M447.6 406.3l0.3 0.0M500.4 428.1l-1.0 0.3M505.0 474.5l-0.2 0.6M501.8 490.4l-0.2 0.2M530.3 491.4l0.2 0.2M502.5 410.8l0.2 1.4M482.8 436.6l-0.4 0.3M445.5 492.7l-0.2 0.3M422.8 462.3l-0.6 1.1M442.6 488.0l-0.2 0.0M469.1 410.2l-0.8 0.3M465.0 508.2l1.2 0.1M490.4 492.3l-0.6 0.1M449.8 498.6l0.1 0.0M423.1 479.5l1.2 0.5M487.2 404.2l-0.4 0.1M521.2 455.4l-0.0 1.1M425.3 414.2l-0.4 0.6M423.6 420.3l-0.2 0.7M473.0 430.3l0.5 0.9M487.0 462.3l1.2 0.2M459.5 479.3l-0.4 1.4M534.4 460.0l-0.5 0.2M534.8 457.4l-0.0 0.7M532.2 432.6l0.3 1.0M538.6 391.4l0.0 1.1M474.5 442.3l0.5 0.1M472.1 482.5l-0.3 0.6M451.4 495.0l-0.9 1.3M427.1 405.9l0.6 0.0M425.7 482.1l-0.1 0.1M540.5 415.4l-1.2 0.6M525.2 474.4l-0.4 0.6M440.3 462.4l0.2 0.4M519.5 510.5l-0.9 0.9M513.4 415.5l-0.8 0.7M473.7 470.1l-0.4 0.5M505.2 466.4l1.3 0.5M521.3 407.2l-0.6 0.4M425.7 403.2l0.1 0.1M509.9 397.1l-0.7 1.0M518.8 418.9l-0.5 1.2M439.3 491.5l0.5 0.0M532.6 465.9l-1.3 0.3M472.3 507.9l-0.7 0.3M481.4 497.9l0.1 0.4M441.1 497.2l0.4 0.1M437.5 407.6l-0.8 0.8M496.8 493.5l-1.3 0.9M431.8 487.6l-0.6 0.2M435.9 431.7l-1.3 0.5M541.9 446.7l-0.3 0.2M494.4 428.8l0.7 0.1M527.4 428.7l1.0 0.6M440.6 512.5l0.5 0.5M515.3 456.4l-0.1 0.2M443.4 482.6l-0.5 0.8M528.7 431.5l-0.4 0.9M426.5 448.9l-0.9 0.0M539.4 510.3l-0.0 0.3M485.1 434.8l0.2 1.1M431.8 420.6l-0.6 0.6M529.4 439.1l0.1 0.1M482.5 446.1l-0.4 0.9M462.0 474.5l-0.3 0.6M515.5 493.4l1.0 0.3M483.6 463.0l-0.7 0.2M479.0 469.3l0.5 0.3M426.5 465.4l0.1 1.1M495.3 476.5l1.5 0.0M527.6 485.2l-0.2 0.1M478.5 476.6l0.1 0.1M527.6 473.3l-1.1 0.2M455.2 452.7l-0.5 0.5M504.1 501.1l0.5 1.1M524.0 495.4l-0.5 0.8M526.2 410.8l0.5 0.3M427.8 439.1l-0.7 0.2M430.7 446.7l-0.1 1.6M492.3 445.9l0.9 1.1M533.6 474.9l1.5 0.2M480.5 427.4l-0.9 0.9M457.1 409.9l0.9 0.4M526.7 439.9l-0.4 0.1M465.9 404.7l-1.4 0.6M522.6 391.9l0.9 0.2M446.5 502.5l0.0 0.3M532.0 417.7l0.2 0.3M458.8 393.4l-0.1 0.0M464.4 431.2l1.0 0.1M497.9 444.7l-0.1 1.4M424.6 463.8l0.9 0.3M455.2 485.4l-0.2 0.1M538.5 473.8l1.0 1.1M475.2 405.7l-0.2 1.2M540.9 466.4l-1.0 0.1M498.3 408.3l0.3 0.0M469.7 435.3l-0.4 1.3M542.1 417.7l0.3 1.0M511.7 509.6l1.3 0.3M533.4 402.6l0.4 0.4M463.2 442.0l0.4 0.4M479.9 492.2l0.7 0.4M443.2 418.9l-1.1 0.2M496.5 469.0l0.8 1.4M484.6 455.8l-0.4 0.4M477.4 506.0l-0.6 0.3M488.9 427.1l-0.1 0.0M487.3 444.3l0.9 0.3M523.7 443.0l0.4 0.7M505.9 496.1l-1.2 0.7M449.5 409.1l-1.0 1.2M489.5 449.4l-1.3 0.2M532.0 512.1l0.1 1.3M450.7 456.6l0.6 0.3M543.6 404.9l0.4 0.3M494.2 438.9l-1.4 0.7M536.5 424.8l-0.0 0.5M478.6 438.4l-1.4 0.1M441.4 392.7l-0.4 0.1M511.9 496.1l-0.4 1.0M433.7 475.6l0.5 0.0M452.0 395.9l-0.7 0.1M422.0 455.5l0.0 0.1M436.2 459.7l1.0 0.9M507.4 464.0l1.2 0.8M472.6 486.2l-0.2 0.0M429.2 429.3l-0.5 1.3M526.3 396.3l0.5 0.1M439.0 446.6l-1.1 0.7M456.7 440.8l0.8 0.8M473.7 446.4l0.4 1.5M471.7 489.1l-0.5 0.6M507.4 485.1l-0.3 0.3M490.1 449.8l-0.9 0.6M480.8 404.5l1.4 0.1M538.1 480.0l-1.4 0.8M428.0 463.3l0.0 0.3M445.4 447.0l-1.5 0.3M430.4 499.1l0.1 0.4M542.5 449.3l0.1 0.0M437.7 484.3l-1.1 0.7M457.3 409.2l-0.3 1.1M434.6 500.3l0.1 0.3M425.0 443.9l-1.1 1.0M490.8 504.9l-0.8 0.3M507.5 418.2l-0.8 0.4M481.7 508.5l0.4 0.2M443.0 459.1l0.0 0.8M516.0 443.2l0.3 0.1M473.2 415.0l0.5 0.1M470.1 492.5l-0.5 0.4M458.5 423.8l0.4 0.9M448.7 483.9l0.8 0.8M496.1 472.2l0.6 1.1M493.8 420.3l-0.1 0.4M488.1 433.5l-0.4 0.0M526.7 503.0l-0.3 0.6M438.1 487.4l-0.8 0.1M483.1 472.8l-0.2 1.5M501.4 473.1l1.0 0.8M542.4 399.5l-0.3 1.3M493.1 457.6l0.6 0.8M502.0 462.1l0.7 1.0M487.3 415.8l1.5 0.2M502.2 405.1l-0.1 0.9M537.1 401.5l0.4 0.6M500.8 395.1l0.1 0.2M543.3 463.0l-1.4 0.5M537.4 509.9l-0.7 0.2M472.3 463.0l0.2 0.2M423.1 492.9l-0.1 1.2M429.0 432.6l-0.5 0.2M521.2 448.2l0.8 0.3M510.2 460.6l0.5 0.5M513.0 465.4l-0.1 0.9M448.1 493.2l-0.5 0.4M516.0 497.3l-0.7 0.1M509.6 422.5l-0.0 0.6M525.3 422.2l-0.2 0.0M489.6 465.3l0.1 0.4M495.3 390.7l0.8 0.4M469.5 476.6l-0.9 0.3M499.0 484.6l-0.4 0.3M517.3 437.6l-0.1 0.1M532.0 469.4l0.5 0.5M507.8 510.3l0.6 0.4M502.0 485.0l-0.1 0.4M447.5 453.7l-0.1 1.1M480.9 494.2l-1.4 0.7M448.5 406.8l-0.1 1.1M454.4 490.1l0.7 0.0M432.0 461.0l0.3 0.1M456.1 409.7l0.0 0.1M489.4 467.2l-0.0 0.3M436.6 406.5l-0.1 0.1M475.6 450.9l-0.3 0.7M423.2 446.8l0.7 0.2M488.7 509.8l-0.4 0.4M511.5 490.4l-0.2 0.6M538.0 439.6l0.2 0.1M459.6 454.8l-0.2 0.9M520.6 506.2l-0.4 0.6M483.8 510.1l-0.1 0.4M518.7 427.6l1.3 0.7M498.9 422.1l0.3 0.1M434.3 424.2l-0.4 0.4M504.5 402.6l0.2 0.4M457.1 408.5l0.3 0.0M517.4 451.4l-0.0 0.2M466.8 437.9l1.0 0.5M436.4 400.9l0.5 0.3M496.9 487.4l0.5 0.2M507.3 489.2l0.7 0.7M520.4 463.0l-0.1 0.3M544.0 474.8l-0.1 0.1M541.1 479.5l1.1 0.2M488.8 484.7l-0.0 0.1M497.4 462.0l-1.0 0.1M484.8 447.9l0.1 1.4M455.9 484.8l-1.0 0.4M508.1 434.1l-0.5 0.6M485.1 399.5l0.6 0.4M469.5 504.8l-1.1 0.2M467.4 464.7l-0.2 0.3M535.0 504.9l-0.0 0.3M527.4 509.0l-1.3 0.1M424.6 485.4l0.6 1.3M530.8 453.6l-1.0 0.1M533.2 435.6l0.3 0.3M487.5 472.2l-0.3 0.5M483.6 443.9l-0.9 1.0M541.5 484.6l0.3 0.1M487.6 499.3l-0.2 0.2M476.1 399.6l-1.1 0.6M525.3 455.5l0.4 0.3M489.6 487.2l-0.0 0.1M460.8 434.4l-1.1 0.9M454.7 500.0l-0.0 0.2M437.0 445.2l-0.2 0.3M432.8 453.1l0.0 0.7M469.9 498.7l0.5 0.1M527.0 456.2l1.1 1.0M507.9 390.7l0.7 1.2M489.1 422.0l-0.1 0.7M422.8 405.5l0.9 0.4M485.1 487.9l-0.4 1.2M539.1 455.7l-0.2 0.7M446.5 426.1l-0.6 0.3M450.4 464.1l0.3 0.4M483.4 468.3l0.2 0.6M447.3 498.6l-0.2 0.1M510.1 433.4l0.0 0.1M490.4 507.3l1.4 0.2M521.4 394.0l-0.1 1.1M469.4 393.9l-0.2 0.2M454.0 438.0l0.1 1.0M497.8 465.0l0.6 0.8M435.4 413.8l-0.2 0.2M454.9 456.4l-0.1 0.3M501.3 455.2l1.0 0.0M423.3 486.5l1.1 0.9M491.7 472.6l-0.2 0.8M431.0 404.4l-0.5 0.6M516.1 481.2l0.7 0.6M501.8 487.0l0.7 1.0M531.9 410.5l-0.9 0.5M508.1 394.2l0.8 0.1M429.9 444.7l-0.1 0.3M444.8 403.5l-0.9 0.9M524.5 508.7l-0.5 1.2M432.6 398.5l1.2 0.7M432.1 432.6l0.4 0.0M493.4 415.9l0.2 0.3M466.6 473.2l0.3 0.4M485.9 402.3l-1.3 0.8M493.9 482.3l0.3 0.3M531.4 415.1l0.0 0.2M447.7 439.7l-1.4 0.6M468.2 407.7l0.7 0.0M509.0 466.7l0.0 0.1M496.6 481.2l0.3 0.7M466.3 425.5l-0.2 1.2M537.3 512.6l-0.8 0.2M429.7 476.3l-0.0 0.9M524.9 508.0l-0.8 0.8M467.1 484.7l-0.5 0.0M449.0 457.5l0.0 1.5M507.6 478.7l-0.1 0.0M541.6 453.3l0.2 0.9M436.4 497.3l-0.0 0.7M514.9 447.8l-0.0 0.3M456.2 406.9l-0.2 0.2M524.6 511.6l-1.4 0.3M429.6 474.9l0.2 0.1M489.9 451.9l-0.7 1.0M447.1 434.3l-0.9 0.8M479.5 489.5l1.3 0.9M472.0 501.3l0.9 1.3M493.1 461.8l1.0 0.9M496.0 401.7l-0.2 0.7M435.9 509.0l1.2 1.0M451.5 432.5l-1.1 0.2M514.5 438.8l-0.3 0.1M432.3 464.2l0.2 0.5M502.9 452.3l0.6 1.2M527.2 487.6l0.3 0.6M519.0 431.6l0.2 0.2M486.8 418.6l0.3 1.5M424.9 451.2l-0.2 0.4M471.5 408.5l-1.1 0.2M461.2 445.9l1.3 0.1M486.1 495.2l0.4 0.6M477.6 411.2l-0.2 0.7M488.8 412.1l-0.1 0.6M474.8 480.4l-0.0 0.3M475.9 428.3l-0.6 0.2M502.7 506.3l1.0 0.1M441.5 430.5l-0.5 0.2M520.1 443.8l-0.6 1.0M488.0 395.5l-0.2 0.3M506.3 500.1l0.4 1.2M445.0 498.0l0.0 0.8M537.5 498.7l0.9 1.3M485.2 395.1l-0.8 1.2M465.8 415.8l-0.1 0.0M538.1 467.9l-0.3 0.0M465.9 426.0l0.1 0.0M487.6 418.3l0.3 1.0M531.1 473.2l-0.7 1.0M531.5 443.8l0.2 0.3M504.1 455.2l-0.0 0.9M524.2 483.2l0.8 0.6M535.7 471.3l0.7 0.3M436.0 454.9l-0.1 0.1M425.7 473.1l1.3 0.9M526.3 415.2l0.3 0.2M487.2 452.5l-0.7 0.9M460.3 411.3l-1.3 0.4M507.6 473.8l0.1 1.2M460.6 484.3l0.4 0.4M519.4 433.9l-1.1 0.7M452.7 403.6l-0.0 0.2M437.0 394.7l-0.4 0.2M540.4 427.3l1.5 0.3M485.7 424.2l-0.2 0.1M440.5 429.9l-0.3 0.4M453.6 502.4l0.8 1.1M504.2 439.1l-0.5 1.5M452.8 479.2l0.0 0.4M543.1 488.1l0.5 0.0M522.7 441.0l0.2 0.2M440.1 442.3l-0.6 1.1M534.8 461.4l-0.0 0.2M481.3 460.4l-0.1 0.4M492.2 450.6l0.3 0.1M430.8 512.5l0.0 0.1M494.6 408.5l1.0 0.9" stroke="#109a10" stroke-width="1.6"/>
<path d="M527.7 397.4l0.1 0.2M542.5 451.4l-0.5 0.5M529.0 457.2l0.5 0.0M539.9 404.0l0.0 0.3M449.3 397.6l0.3 0.4M443.4 509.7l-0.1 0.3M459.2 434.9l0.4 0.4M471.8 391.2l0.7 0.5M521.1 433.6l-0.7 0.1M540.3 498.7l-0.4 1.1M536.3 507.7l-0.8 1.3M456.3 403.0l-0.7 0.9M448.9 486.0l0.1 1.6M465.6 392.3l-0.9 0.3M476.0 488.5l-0.3 0.3M429.5 448.1l-0.2 0.9M500.5 452.6l-1.2 0.1M516.5 417.6l-0.7 0.9M520.3 483.5l-0.4 0.4M528.4 478.9l0.6 0.2M523.8 512.2l-0.0 0.1M501.2 411.5l-0.1 0.8M440.7 408.9l0.8 0.5M495.8 393.6l-1.0 0.3M540.7 457.8l0.9 0.5M478.6 492.7l0.9 0.7M539.3 419.2l-0.4 0.8M513.7 471.3l0.7 0.7M444.1 446.4l-0.7 0.2M452.9 499.1l-0.1 1.0M536.6 420.5l1.2 0.7M422.7 471.9l0.6 0.2M473.7 398.3l0.3 0.2M523.7 472.7l-0.4 0.2M464.5 478.6l0.0 0.2M502.9 485.8l1.2 0.4M543.7 489.5l0.3 0.4M478.5 453.2l-1.3 0.9M462.9 445.6l-0.0 0.2M530.6 395.8l-0.2 0.1M486.2 413.3l0.5 0.2M445.6 483.6l0.2 0.4M443.0 459.2l1.1 0.2M505.6 395.5l-0.0 0.3M462.3 440.5l-0.1 0.4M436.0 423.1l0.1 1.6M447.4 398.9l-0.3 1.4M496.6 424.2l-1.3 0.1M445.0 428.7l0.1 0.3M503.8 503.7l-0.2 1.2M445.7 506.5l-0.1 1.3M517.8 435.6l-1.1 0.2M533.2 504.9l-0.5 0.2M539.4 494.6l0.4 0.5M422.0 405.4l0.7 0.3M470.7 480.7l-0.7 0.3M530.0 503.3l0.2 0.1M541.4 393.0l0.2 0.6M438.9 400.5l-0.3 1.0M543.0 416.6l-0.2 0.2M515.6 437.7l-1.0 1.2M539.9 425.1l-0.6 0.1M490.7 450.0l-0.3 0.1M527.8 465.8l-0.0 0.2M484.8 401.4l1.4 0.7M454.4 434.9l0.0 0.2M439.0 511.0l-0.4 0.8M485.8 436.9l-0.5 0.0M492.0 481.4l0.3 0.4M463.8 512.2l0.2 0.0M435.3 480.4l0.3 0.2M525.2 407.8l-1.0 1.2M480.5 491.6l1.2 0.4M517.3 413.4l1.1 0.3M484.7 442.0l-0.8 0.1M433.1 401.2l-0.4 0.2M497.5 491.4l0.2 0.9M496.2 414.5l-0.3 1.1M493.3 409.3l-0.6 1.0M506.8 487.5l-0.7 0.3M464.2 485.9l-0.6 0.4M495.7 454.8l-0.3 0.1M502.8 477.0l0.8 0.1M505.3 448.4l-1.2 1.0M543.4 407.5l-0.5 0.4M533.0 509.5l-1.0 0.5M473.8 484.8l1.0 0.6M495.9 400.8l-0.8 0.4M428.4 444.2l0.2 0.2M518.6 473.1l-0.3 0.3M424.2 448.4l-0.2 0.6M431.1 432.2l0.1 0.0M510.8 496.0l0.3 0.6M522.3 436.0l0.7 0.2M486.6 459.2l-0.3 0.6M492.4 408.1l0.4 0.3M439.5 457.2l0.5 0.5M542.4 503.4l0.9 0.1M541.3 462.1l0.8 0.2M528.4 498.4l-0.3 0.1M452.7 445.0l1.2 0.1M518.0 390.4l-1.2 0.8M485.5 506.7l-0.5 0.1M448.5 444.1l-0.0 0.6M525.7 391.5l-0.2 0.1M528.4 461.8l0.5 0.9M539.3 401.6l-0.1 0.7M421.7 488.2l0.4 0.6M491.8 457.6l1.3 0.7M433.6 412.6l-0.8 0.8M448.6 472.1l1.2 1.0M476.7 393.1l-0.6 0.3M527.6 426.8l0.5 1.1M482.8 401.3l-1.5 0.4M457.1 493.7l0.7 0.3M438.7 488.5l0.2 0.6M431.3 475.7l0.9 1.0M489.3 480.8l-0.9 0.8M471.2 505.1l-0.2 0.1M515.6 456.1l0.5 0.5M438.8 394.4l0.1 0.2M467.9 475.9l-0.8 1.3M437.2 488.2l0.8 0.7M436.2 485.8l-0.2 0.4M491.2 509.8l-1.0 1.0M539.0 449.8l-0.5 0.2M517.8 476.8l0.0 0.6M486.4 427.4l0.3 0.3M525.5 398.8l1.0 0.3M470.8 440.8l0.3 0.4M508.3 466.9l-0.1 0.3M501.2 473.3l0.4 0.3M455.1 489.0l-0.5 0.2M434.3 450.1l-0.7 0.9M499.5 467.8l0.9 0.4M471.3 455.8l-0.3 0.3M488.3 491.9l-0.3 1.2M497.8 397.9l0.7 0.1M484.3 499.6l0.2 0.5M432.4 422.3l0.9 0.3M488.9 427.0l1.3 0.1M450.6 464.7l-0.4 0.6M530.4 405.5l1.3 0.6M483.2 444.8l-0.4 0.9M429.1 404.4l-1.1 1.1M524.6 505.0l0.6 1.0M476.5 458.8l-0.4 0.6M531.1 427.4l1.3 0.9M541.3 454.0l0.7 0.9M508.2 506.2l0.8 0.9M494.6 412.1l0.9 0.2M505.6 470.1l0.3 0.1M534.5 426.3l-0.6 0.9M520.1 440.3l-0.5 0.2M425.0 449.5l-0.0 0.3M469.6 488.8l0.7 0.3M433.1 507.9l0.3 0.5M481.4 505.0l-0.6 0.2M474.5 409.6l1.2 0.4M498.1 466.5l-1.4 0.2M452.5 418.4l-0.1 0.4M470.0 461.5l0.4 1.0M506.1 469.7l-0.7 1.1M445.7 511.4l1.3 0.5M520.8 406.5l0.9 1.2M525.5 394.5l0.1 1.0M449.6 490.6l1.4 0.1M542.0 475.7l0.0 0.2M437.4 412.2l-0.5 0.1M426.0 451.6l0.4 0.7M438.4 446.3l0.6 0.4M443.1 462.4l1.4 0.3M462.9 413.5l0.1 0.2M465.3 431.3l-0.7 0.2M429.8 498.0l-0.3 1.2M490.9 439.0l-0.3 1.4M432.4 464.2l-0.1 0.6M440.0 440.9l0.2 0.6M453.1 457.2l-0.7 0.7M485.4 429.0l-1.2 0.6M431.4 509.9l-0.3 1.1M447.3 482.8l-0.1 0.5M495.3 469.0l0.2 0.2M464.7 410.2l0.7 0.0M538.2 484.9l-0.2 1.3M472.7 498.0l0.6 0.1M522.0 456.1l0.8 0.5M468.3 505.9l0.8 0.5M483.9 441.0l0.4 0.8M526.5 494.2l-0.8 1.2M479.2 417.1l-0.2 0.0M461.1 494.9l-0.0 0.2M479.8 433.2l-0.2 0.1M523.1 494.9l-1.2 0.8M446.3 492.7l-0.1 0.2M537.3 416.3l0.1 0.4M500.3 458.5l0.0 0.2M486.8 442.8l-0.6 0.3M445.8 401.7l0.6 0.0M522.5 395.3l-0.2 0.5M496.3 396.3l-0.5 0.3M470.8 431.8l0.0 0.1M509.9 487.0l-0.1 1.1M443.2 398.3l1.1 1.0M512.3 487.2l-0.6 0.8M538.4 469.4l0.1 0.3M441.9 431.2l-1.1 0.2M538.8 392.0l0.1 0.2M442.8 413.4l-0.3 0.9M422.8 454.3l1.5 0.4M505.6 422.0l-0.4 0.4M472.6 442.7l-0.1 0.2M532.0 442.7l0.0 0.1M499.3 483.6l-0.8 1.4M459.4 466.4l-1.4 0.7M442.8 500.9l-0.1 0.2M429.6 500.7l-1.3 0.2M536.1 483.1l0.9 1.1M537.0 511.8l1.3 0.6M498.5 480.4l0.3 0.8M450.8 504.6l-0.2 1.5M542.1 437.4l1.4 0.8M531.2 507.6l1.0 0.9M503.5 427.4l-0.5 0.8M467.2 472.0l-0.3 0.3M454.8 415.0l-1.3 0.0M423.8 476.8l-0.3 1.3M505.9 416.6l-0.7 0.3M504.8 467.0l-0.4 0.5M463.1 489.2l0.6 0.4M473.8 456.6l-0.5 0.3M523.3 461.6l-0.7 0.5M541.8 400.1l0.7 0.3M526.8 476.3l1.1 0.5M465.3 418.2l-1.5 0.2M488.9 443.3l-0.6 0.3M522.2 478.9l1.3 0.4M452.9 396.3l0.3 0.7M485.7 391.3l0.2 0.8M450.3 456.1l0.6 0.8M515.0 452.0l0.3 0.2M496.6 460.1l-0.3 1.5M482.0 508.8l0.1 1.4M433.1 447.1l-1.3 0.7M491.9 404.4l0.3 0.7M450.0 431.2l0.1 0.1M433.5 461.3l-0.2 1.2M498.9 490.2l0.9 0.1M515.1 496.7l-0.8 1.3M423.6 451.2l0.3 1.2M505.0 499.2l0.6 0.1M468.0 428.8l0.3 0.3M433.3 500.2l-0.1 0.4M535.9 503.5l0.3 0.0M528.7 509.6l0.5 0.5M451.6 494.5l1.1 0.6M511.5 482.9l-0.1 1.5M465.4 401.2l-0.1 0.1M430.6 457.6l1.6 0.1M511.1 420.7l0.5 0.1M482.4 457.1l0.5 0.4M496.4 463.1l-0.1 0.8M478.1 403.3l-0.3 0.2M529.7 483.8l-0.4 0.5M497.4 475.7l1.0 0.5M477.5 506.5l0.9 1.1M500.8 418.6l0.1 0.1M473.7 418.0l-0.1 1.2M487.8 503.8l-0.5 1.1M529.4 410.7l1.2 0.7M527.1 489.8l-0.6 0.6M541.3 422.0l0.1 0.1M524.9 501.2l-0.4 0.3M491.9 474.1l-1.1 0.4M520.0 451.3l0.2 0.8M434.1 430.1l-1.1 0.4M458.6 470.4l1.1 0.8M438.5 427.0l-0.1 0.6M467.5 429.9l1.0 0.7M516.9 488.0l1.2 0.6M543.1 466.4l1.2 0.9M448.0 449.9l-0.5 0.2M442.9 390.9l-0.3 0.2M453.4 503.9l-0.5 0.1M519.6 445.0l-0.9 0.6M460.6 459.7l-1.4 0.4M519.0 399.4l-0.6 0.4M437.6 403.7l0.4 1.2M444.0 474.7l-1.3 0.6M443.6 480.6l-1.4 0.4M446.2 405.8l-1.2 0.2M544.1 469.2l-0.3 1.0M543.8 479.2l0.7 0.5M512.0 476.3l-0.4 0.6M533.6 469.7l-0.9 0.6M533.2 473.3l0.9 0.6M422.5 490.2l0.1 0.9M536.5 474.3l-0.3 0.4M445.7 512.5l0.0 0.6M437.2 507.5l0.7 0.1M472.6 423.2l1.0 0.2M515.5 458.6l0.5 0.1M476.7 448.7l1.0 0.6M471.4 420.9l0.3 0.2M449.2 462.8l-1.3 0.8M457.8 404.1l-0.8 0.6M462.0 481.6l0.1 0.7M434.3 409.7l0.0 0.1M517.3 447.3l1.1 0.4M441.3 494.4l0.8 0.1M516.9 444.0l-0.5 0.5M491.6 431.4l-0.1 0.2M439.3 476.2l0.7 0.0M452.9 439.2l-0.4 0.2M492.7 420.1l0.5 0.0M462.8 437.0l-0.4 1.2M522.5 444.5l1.3 0.1M502.5 424.8l1.1 0.3M477.7 457.0l0.3 0.0M455.9 480.4l0.9 0.2M487.2 484.3l-0.4 0.2M535.2 431.5l-1.0 0.4M460.8 455.3l0.4 0.7M491.3 491.6l0.1 0.4M423.7 389.9l-0.5 1.3M423.8 410.9l0.3 0.6M455.2 454.4l1.4 0.5M536.9 396.8l-1.3 0.8M474.9 420.1l-0.0 0.1M432.2 455.1l-1.0 0.3M469.7 512.0l0.5 0.3M518.2 510.1l-0.5 0.4M461.5 446.7l0.1 0.3M494.4 502.7l0.0 0.6M476.5 494.9l0.9 0.0M478.3 443.5l0.3 0.3M440.3 486.5l0.9 1.2M507.8 424.4l0.5 0.1M487.2 404.6l-0.7 0.6M473.6 469.0l0.1 1.5M535.1 468.9l-0.9 0.3M463.5 420.1l-1.0 0.8M461.7 392.3l-0.3 0.1M489.9 484.2l0.2 0.2M430.0 451.7l0.2 0.4M449.9 418.5l-1.1 0.8M424.6 506.6l0.7 0.6M542.2 447.4l-0.6 0.4M443.5 460.8l1.4 0.4M448.4 497.2l-1.5 0.3M539.2 433.1l-0.6 1.2M471.7 483.2l0.5 1.4M449.0 412.9l-0.3 0.2M424.8 460.1l1.2 0.7M488.9 391.9l0.5 0.1M422.9 499.1l0.1 1.2M535.9 493.1l1.3 0.8M484.5 497.0l-0.2 0.1M528.8 419.4l-0.2 0.9M531.5 462.1l1.5 0.3M428.8 421.6l0.2 1.5M444.5 417.0l0.8 1.0M500.9 478.0l0.5 0.5M495.9 480.7l0.2 0.1M501.4 486.9l1.5 0.1M484.5 408.3l0.7 0.4M520.9 499.1l-0.4 0.4M526.9 480.5l-1.5 0.1M532.9 414.1l0.4 1.0M495.1 447.3l0.7 0.7M503.3 433.1l0.3 0.1M489.8 433.8l-0.6 1.0M475.6 428.0l-0.6 0.6M459.9 455.3l0.7 0.8M510.2 492.0l0.8 0.1M498.1 444.9l-0.5 1.5M502.1 509.7l-0.1 1.6M449.2 499.5l0.2 0.4M441.7 394.9l-0.2 0.4M470.4 435.1l-0.9 0.5M508.2 443.4l-0.3 0.8M434.0 419.9l-0.1 0.8M484.4 404.9l-0.7 1.2M477.5 468.6l0.9 0.3M539.6 429.6l0.0 1.0M538.4 399.5l-1.0 0.1M540.0 488.8l-0.3 1.2M469.5 417.5l-0.7 1.2M539.9 471.2l-0.3 0.1M542.2 430.3l-0.4 0.8M434.6 392.7l0.0 0.1M518.6 493.6l0.4 1.1M468.6 439.1l1.0 0.4M527.0 410.5l-1.0 0.0M536.9 466.3l-0.6 0.5M433.8 466.6l0.0 0.2M455.9 437.2l-0.7 0.8M513.0 465.6l-0.2 1.4M543.4 390.3l-0.1 0.8M536.4 391.3l-0.7 1.0M523.5 481.7l1.2 0.1M503.2 394.7l-0.5 1.4M519.8 411.7l0.6 1.0M525.8 452.0l0.9 0.5M510.1 417.2l-1.0 1.2M507.7 409.5l-0.4 0.7M530.3 438.3l-1.4 0.2M445.0 457.4l0.6 0.4M522.4 458.7l0.5 0.4M434.6 422.3l0.8 0.8M513.8 490.3l0.2 0.3M463.2 464.8l-1.2 0.6M515.1 448.2l1.0 0.2M446.3 489.6l0.9 0.4M429.7 399.8l-0.7 0.1M513.5 395.8l1.2 1.0M424.7 470.5l0.3 0.1M520.5 512.5l-0.4 0.2M502.3 450.8l-0.7 0.6M456.7 459.1l0.2 0.3M538.8 443.6l-0.6 0.5M432.7 472.4l0.0 0.2M528.6 416.9l1.3 0.3M532.8 489.2l1.2 0.5M541.0 427.5l0.1 0.7M515.6 503.8l-1.0 1.3M490.5 432.6l-0.4 1.0M446.1 421.2l-1.5 0.0M542.0 480.9l0.2 0.3M488.2 476.5l1.2 0.0M444.6 452.0l0.6 0.2M494.2 463.3l-0.4 1.1M467.1 392.8l0.8 0.9M455.9 509.9l0.0 0.4M485.1 393.2l-0.6 1.4M490.3 502.9l0.0 0.2M425.6 427.1l1.4 0.6M490.4 410.2l-0.3 0.3M442.2 496.9l-1.0 0.3M530.8 487.4l-0.2 1.5M470.2 497.5l-0.3 1.0M424.3 504.5l-1.1 0.9M531.2 431.0l0.1 0.3M495.6 477.7l-0.0 0.1M510.1 395.8l0.4 0.1M515.5 501.5l-0.2 0.0M533.6 496.6l0.2 1.5M444.5 495.4l-0.5 0.5M436.7 449.0l0.4 0.4M453.7 440.2l0.9 0.9M533.1 458.6l0.7 0.1M469.8 404.0l0.2 0.2M501.0 425.8l-0.3 0.5M506.1 461.3l0.9 0.1M541.7 399.2l0.2 0.0M524.2 432.3l1.0 0.5M439.9 500.6l0.2 1.5M496.4 425.9l0.1 1.5M437.0 469.1l0.4 0.5M490.2 431.7l-0.0 0.8M445.4 493.8l-1.3 0.5M454.1 475.7l-0.9 0.6M423.4 500.0l-0.1 1.1M479.9 412.3l0.1 0.4M531.0 468.1l-0.8 0.2M427.3 478.0l0.5 0.1M461.0 479.7l-0.6 0.4M465.3 394.9l-0.2 0.0M478.0 504.9l0.1 0.6M438.7 433.3l-1.2 0.6M506.2 434.2l-0.5 1.0M494.3 426.1l-0.6 1.3M507.1 492.1l-0.1 0.9M480.7 410.0l-0.1 0.1M461.1 407.0l-1.0 0.3M439.5 464.8l-0.6 0.4M458.9 473.5l0.1 1.0M476.6 491.4l0.8 0.2M530.5 464.6l-1.1 0.1M521.1 493.0l-0.3 0.2M434.3 504.6l1.2 0.1M421.8 474.6l0.5 1.0M452.6 410.8l1.1 0.8M497.6 511.4l0.1 0.2M503.2 457.1l0.1 1.4M532.7 478.9l-0.2 0.1M492.0 496.8l0.4 0.6M439.5 437.8l-1.1 0.4M508.0 392.1l0.7 0.4M465.6 405.4l1.1 0.9M461.1 470.9l1.3 0.0M500.1 462.2l-0.5 0.2M506.1 461.5l-1.0 0.3M523.3 422.1l-0.3 1.1M515.7 431.9l-0.3 0.0M537.8 477.5l0.6 0.8M536.7 427.8l0.2 0.4M439.4 394.8l0.9 0.0M529.9 476.1l0.8 0.8M513.7 478.7l-0.9 0.6M513.5 447.8l0.8 1.2M426.8 434.8l0.2 0.2M429.7 507.4l-0.1 0.2M508.9 421.3l0.4 0.3M438.2 420.9l-0.4 1.2M490.6 489.8l-0.1 1.0M535.6 470.9l0.7 1.0M474.5 421.6l0.5 0.9M508.4 500.8l1.1 0.9M471.4 401.0l-1.5 0.2M495.1 437.1l-0.7 0.5M494.9 405.6l0.4 0.2M478.0 473.1l-0.8 0.6M525.1 510.0l-0.2 0.3M501.9 453.3l-0.2 0.6M450.5 424.3l0.1 0.5M434.3 399.0l0.4 0.5M543.7 404.8l-0.0 0.2M456.7 418.7l-1.2 0.7M529.9 425.6l0.4 0.3M543.4 401.3l-1.5 0.5M503.2 468.9l-0.3 0.5M425.4 436.4l0.0 0.7M497.9 404.2l0.2 0.8M499.6 471.4l0.1 0.3M519.0 421.4l-0.6 0.8M476.7 397.9l-0.2 0.4M426.3 440.3l0.0 0.7M461.1 428.8l1.4 0.5M434.3 452.0l1.1 0.7M449.7 394.7l-0.1 0.1M445.9 455.2l-0.3 0.2M461.0 432.0l0.1 0.6M534.5 484.2l-1.4 0.1M490.0 401.9l-0.2 0.2M481.5 451.4l-0.9 0.4M491.9 484.4l-0.9 0.1M521.2 393.0l0.7 0.5M501.6 443.9l0.0 0.9M502.6 413.0l0.7 1.3M534.9 500.0l0.4 0.0M543.3 461.4l0.4 1.0M466.1 495.3l0.1 1.1M496.0 406.4l-0.2 0.5M452.6 489.4l-0.5 0.2M465.5 424.2l-0.5 0.5M534.8 450.4l1.1 0.7M441.8 486.9l-1.0 0.6M435.0 457.9l1.4 0.6M538.2 509.0l-0.2 0.2M483.9 489.9l-0.6 1.4M440.9 500.4l0.1 0.3M509.3 414.6l-0.0 1.4M424.3 483.8l-0.2 0.8M433.4 473.6l-0.2 0.1M500.7 446.1l-0.5 0.8M538.8 469.0l0.3 0.2M464.5 485.2l-0.1 0.3M512.9 436.3l0.5 0.4M437.5 498.3l-0.5 0.3M460.9 491.5l-1.0 0.0M499.7 408.7l-0.5 0.8M468.4 433.3l-0.3 0.1M475.2 480.3l-0.3 1.2M503.1 442.6l0.6 0.1M464.3 467.8l-0.1 0.4M438.1 493.0l-0.6 0.1M534.3 475.9l0.4 1.2M543.5 428.5l1.0 1.0M488.2 450.8l0.3 1.0M462.2 456.6l-0.6 0.7M450.0 420.9l-0.5 1.3M492.9 506.4l0.9 0.2M480.7 469.6l0.1 0.0M530.8 434.6l1.5 0.0M480.3 415.7l-1.1 0.3M459.1 428.5l0.2 0.2M444.8 395.6l0.2 0.6M484.7 442.6l0.6 0.8M524.8 391.0l-0.4 1.4M481.9 427.9l0.2 0.2M447.8 501.7l1.4 0.6M489.3 463.3l-1.5 0.2M427.2 438.0l0.6 0.3M499.8 414.4l0.1 0.8M429.8 411.2l-0.4 0.5M537.9 458.4l-1.1 0.1M449.4 459.4l-0.4 1.0M446.8 446.8l0.6 0.5M493.5 413.4l0.1 0.1M517.6 491.1l0.1 0.2M494.0 435.7l0.2 1.0M441.2 451.5l-0.3 0.0M482.0 439.0l0.4 1.2M437.9 414.1l-0.1 0.0M525.2 466.9l0.1 0.2M526.2 454.4l0.4 0.5M455.8 490.7l0.6 1.3M428.2 415.3l0.8 1.1M496.4 485.4l0.3 0.1M523.3 429.1l-1.3 0.8M467.5 459.7l0.8 0.7M490.9 396.6l-0.8 1.2M424.3 399.9l-0.1 0.4M526.7 492.0l-0.3 0.7M448.9 436.0l0.6 0.5M516.3 423.3l-1.0 0.8M483.3 423.6l0.3 0.8M445.5 414.3l0.5 0.2M512.7 493.4l0.2 0.7M543.0 511.6l-0.2 0.2M483.5 436.6l-0.6 1.4M486.6 476.6l-0.9 0.3M443.3 404.1l-0.2 1.0M524.2 476.0l0.7 0.5M441.4 450.7l-1.2 1.0M427.7 425.0l-0.1 0.8M450.6 509.4l0.8 0.5M476.7 475.6l-0.5 0.2M523.2 439.8l0.4 0.4M480.0 438.5l0.0 0.5M485.9 468.3l0.9 1.1M511.9 411.0l-1.2 0.2M543.4 395.2l-0.8 0.7M445.3 480.4l0.3 1.0M474.7 395.6l0.5 0.5M479.4 395.9l0.5 0.2M491.5 482.2l-1.4 0.4M540.6 392.7l0.1 0.2M543.9 465.1l0.1 0.0M480.4 503.1l0.2 0.5M470.1 492.9l1.5 0.4M492.8 390.5l-0.5 0.1M436.2 490.5l-1.0 0.8M482.9 444.6l-1.3 0.8M471.8 415.1l-0.1 0.1M504.7 400.0l-0.3 0.6M531.1 460.8l0.1 0.2M471.6 508.1l0.2 0.2M494.5 443.9l1.0 0.9M424.8 474.3l-1.3 0.4M476.8 429.1l-0.3 0.3M515.3 440.6l0.7 0.1M430.4 501.0l0.3 0.4M450.3 439.4l-0.3 0.5M464.0 493.1l-1.2 0.4M468.6 428.0l-1.1 0.1M516.3 392.4l-0.6 0.8M519.8 430.4l-0.2 0.3M438.7 510.9l0.0 1.0M454.2 451.3l0.1 0.1M472.5 402.9l-0.8 1.3M533.6 511.4l0.8 0.1M465.6 507.0l0.1 0.2M428.1 503.5l-0.0 0.9M522.1 401.5l0.4 1.1M452.3 441.6l-0.2 1.5M466.7 433.4l-0.7 0.0M501.8 405.1l0.4 0.3M436.1 425.2l0.0 1.2M451.3 407.5l-0.1 0.6M447.4 485.7l-0.1 0.1M429.4 460.5l0.9 0.3M538.5 479.4l0.0 0.1M517.0 485.7l1.1 0.3M536.7 441.1l0.2 0.8M432.7 483.2l0.1 0.2M525.3 503.7l-0.0 0.3M422.9 481.7l-0.1 0.2M468.1 486.2l-0.6 0.4M503.1 483.6l-0.9 0.2M484.4 417.4l0.6 0.5M465.1 446.8l-0.3 0.0M455.1 470.0l-0.9 0.5M445.9 475.9l-0.1 0.1M517.1 509.3l0.3 0.4M493.8 467.1l0.2 0.5M502.2 445.5l0.5 0.5M452.6 402.1l-1.6 0.2M522.7 479.0l-0.1 1.0M507.9 463.5l-1.4 0.1M473.0 427.7l0.7 0.0M501.2 487.9l-0.7 0.7M507.0 405.2l0.1 0.3M525.3 402.7l1.5 0.5M483.0 509.8l0.3 0.0M469.9 411.8l0.4 0.0M506.6 495.1l1.0 0.2M438.8 452.8l0.2 0.8M492.5 423.7l0.2 1.2M533.7 417.0l-1.0 0.2M504.6 495.2l-1.2 0.2M472.3 477.6l0.4 0.8M423.8 422.2l1.1 1.0M473.9 413.6l1.0 0.5M506.6 480.5l-0.7 0.7M491.6 477.9l-0.2 0.2M431.0 431.0l-1.0 0.8M483.6 409.3l-1.2 0.5M489.2 404.5l0.6 0.4M502.4 466.0l0.2 0.0M531.3 415.6l0.7 0.8M476.9 406.1l0.6 0.0M489.0 392.6l1.0 0.3M439.5 443.2l0.2 1.4M494.2 396.6l0.1 0.3M427.8 430.8l-0.9 0.4M520.8 435.3l0.6 0.3M531.3 511.3l-0.4 0.7M466.6 463.7l-1.3 0.1M500.1 507.7l-0.5 0.1M494.7 417.9l0.7 0.4M489.6 422.0l1.2 0.1M538.8 481.8l0.0 0.2M426.4 500.6l1.0 0.3M424.2 496.9l-0.2 0.4M422.7 511.9l0.2 0.5M524.9 484.3l1.1 0.1M487.9 510.5l0.2 0.6M455.9 474.2l-0.8 0.9M489.6 407.2l-0.2 0.7M494.4 457.2l0.4 0.6M426.7 456.2l0.4 0.6M447.7 477.2l-0.4 0.0M431.1 428.5l0.8 0.8M422.9 457.7l0.6 0.8M492.5 430.5l1.2 0.5M494.9 429.9l-0.3 0.3M457.7 477.3l0.5 0.0M439.0 506.1l0.8 0.1M523.5 414.6l0.0 0.1M426.9 483.3l-0.0 0.6M439.3 402.9l-0.3 1.2M530.5 402.4l0.8 0.1M540.2 506.7l-0.6 1.2M456.4 467.6l0.8 1.3M476.7 499.4l1.2 0.9M530.9 470.9l-0.2 1.6M432.1 417.6l-0.9 0.2M458.6 405.8l-0.2 0.9M517.2 462.6l0.8 1.1M487.1 435.1l0.2 0.0M491.5 434.5l-0.2 1.0M534.7 491.4l0.4 0.1M423.4 488.2l0.7 0.4M494.9 441.6l-0.7 0.2M470.3 398.0l0.1 0.8M508.3 508.7l-1.0 0.5M505.8 483.6l0.3 0.6M479.2 390.5l0.3 1.0M442.7 504.6l0.4 1.0M526.9 424.4l-0.7 1.3M468.5 415.0l1.3 0.7M512.3 427.6l0.2 0.4M487.2 478.5l-0.8 1.0M542.7 442.6l-0.5 1.1M447.5 465.6l-0.5 0.4M496.3 504.7l-0.4 0.6M481.6 397.7l0.5 1.1M429.0 472.3l-0.9 0.1M463.9 475.8l-0.3 1.1M474.3 502.1l0.8 1.2M473.8 438.4l-0.7 0.1M532.2 393.0l-0.0 0.2M445.4 408.2l0.7 0.1M538.0 428.0l-0.6 0.2M437.3 441.7l-0.4 0.0M487.5 487.6l0.8 0.7M445.7 478.0l-0.3 0.9M447.6 495.9l-0.6 0.1M539.2 465.7l-0.3 1.3M431.3 499.1l0.9 0.5M476.8 412.8l-0.3 1.1M439.2 406.8l0.1 0.2M432.7 507.1l0.6 0.0M486.4 409.3l1.1 1.0M511.0 398.5l-0.4 1.3M476.4 510.0l1.1 0.2M533.9 416.2l-0.6 0.3M470.7 510.7l-0.2 0.5M466.7 413.8l-0.3 0.2M454.8 398.9l-0.7 0.0M530.8 459.6l0.1 0.2M432.8 406.1l0.0 1.2M427.5 421.2l-0.2 0.4M497.6 424.6l0.1 0.2M438.4 432.6l0.0 0.4M450.2 482.8l-1.2 0.7M489.9 469.3l-0.4 0.1M438.2 479.2l-0.0 1.2M500.2 486.2l0.2 0.4M432.8 443.0l-0.9 1.2M441.4 423.0l0.6 1.2M453.1 406.6l-1.2 0.6M532.7 398.4l0.6 0.3M542.7 423.2l0.4 0.5M464.0 427.2l-0.9 0.2M499.3 472.9l0.6 0.5M478.4 422.1l0.4 0.4M475.7 432.3l0.7 0.8M489.2 416.7l0.4 1.2M469.3 438.1l-1.5 0.3M496.9 409.7l0.2 0.3M448.6 401.4l-0.5 0.8M521.6 476.7l-0.3 0.8M438.0 417.7l-0.3 0.1M483.8 472.6l-1.1 1.1M534.3 456.3l-0.2 0.3M480.1 512.0l-0.1 0.2M487.5 401.0l0.4 0.4M468.7 474.7l1.4 0.8M529.5 441.3l-0.2 0.5M485.8 473.7l-0.1 1.0M427.2 433.6l0.4 0.9M534.7 465.6l0.4 0.0M437.8 435.7l-0.8 0.3M441.8 504.7l0.6 0.6M429.5 511.0l0.7 1.0M528.7 486.2l-0.9 1.2M457.4 482.4l1.0 0.8M440.2 506.5l0.6 0.4M484.7 399.7l0.1 0.7M431.7 404.5l-1.0 0.4M441.6 435.8l1.2 0.5M441.5 401.9l1.3 0.1M501.6 496.9l-1.2 0.9M489.1 424.2l0.5 0.9M468.3 465.6l-0.2 1.0M447.1 430.1l1.5 0.0M477.9 503.0l0.1 0.2M480.1 510.1l-0.3 0.1M528.7 452.4l-0.3 0.1M448.9 493.4l-0.8 0.0M535.0 506.1l0.2 0.3M461.1 478.2l0.1 0.7M538.6 461.5l0.1 0.3M513.0 452.3l-0.2 0.3M539.1 413.0l0.9 1.1M487.3 429.8l0.2 1.3M503.1 400.8l-1.2 1.1M453.7 436.0l0.4 1.0M514.0 412.3l-0.0 0.2M437.4 462.8l-0.5 0.5M484.8 450.9l-0.3 0.5M491.1 483.3l0.9 0.2M477.9 494.2l-1.0 1.2M487.4 400.9l0.7 1.3M528.4 431.7l-1.3 0.8M519.7 502.5l-1.2 0.6M484.7 499.1l-0.1 0.4M448.4 425.4l-0.5 0.5M494.9 474.9l-0.6 1.1M449.3 406.0l-0.0 0.1M532.8 460.1l-0.4 0.1M511.6 461.0l-0.1 0.1M483.3 434.1l0.5 0.3M446.3 503.5l0.5 1.4M504.9 496.1l-0.3 1.3M520.6 424.2l0.3 0.8M452.8 392.4l1.3 1.0M498.8 456.9l-0.4 0.3M481.0 446.8l0.2 0.7M524.5 475.2l0.3 0.2M501.4 482.4l-1.0 0.6M456.9 471.2l-0.0 0.2M444.2 501.8l0.6 1.5M495.3 393.6l-0.2 0.2M538.2 454.8l0.8 0.4M454.1 478.9l-0.3 0.2M435.1 481.3l-0.7 1.1M515.9 484.3l-0.4 0.2M471.7 439.7l0.8 0.3M438.8 474.0l-0.4 0.1M440.7 414.4l-0.9 0.8M433.0 409.3l0.2 0.1" stroke="#1cd81c" stroke-width="1.6"/>
<path d="M542.3 451.7l0.0 0.0M539.9 404.2l0.0 0.0M443.3 509.8l0.0 0.0M459.4 435.1l0.0 0.0M472.1 391.5l0.0 0.0M499.9 452.7l0.0 0.0M520.1 483.7l0.0 0.0M441.1 409.2l0.0 0.0M495.3 393.7l0.0 0.0M443.8 446.5l0.0 0.0M452.8 499.6l0.0 0.0M537.2 420.8l0.0 0.0M423.0 472.0l0.0 0.0M503.5 486.0l0.0 0.0M543.9 489.7l0.0 0.0M462.9 445.7l0.0 0.0M462.3 440.7l0.0 0.0M539.6 494.8l0.0 0.0M541.5 393.3l0.0 0.0M527.8 465.8l0.0 0.0M438.8 511.4l0.0 0.0M485.5 436.9l0.0 0.0M463.9 512.2l0.0 0.0M435.5 480.5l0.0 0.0M524.7 408.4l0.0 0.0M481.2 491.8l0.0 0.0M484.3 442.1l0.0 0.0M432.9 401.3l0.0 0.0M463.9 486.1l0.0 0.0M532.5 509.8l0.0 0.0M495.4 401.0l0.0 0.0M518.5 473.3l0.0 0.0M539.2 401.9l0.0 0.0M421.9 488.5l0.0 0.0M492.4 458.0l0.0 0.0M433.2 413.0l0.0 0.0M476.4 393.2l0.0 0.0M471.1 505.2l0.0 0.0M515.9 456.3l0.0 0.0M538.8 449.9l0.0 0.0M517.8 477.1l0.0 0.0M526.0 398.9l0.0 0.0M508.2 467.1l0.0 0.0M501.5 473.5l0.0 0.0M454.8 489.1l0.0 0.0M471.1 456.0l0.0 0.0M432.8 422.5l0.0 0.0M524.9 505.4l0.0 0.0M531.7 427.9l0.0 0.0M508.6 506.6l0.0 0.0M534.2 426.8l0.0 0.0M519.9 440.4l0.0 0.0M425.0 449.7l0.0 0.0M475.1 409.8l0.0 0.0M452.4 418.5l0.0 0.0M505.8 470.3l0.0 0.0M438.7 446.5l0.0 0.0M429.6 498.6l0.0 0.0M490.7 439.7l0.0 0.0M484.8 429.3l0.0 0.0M447.3 483.1l0.0 0.0M495.4 469.1l0.0 0.0M538.1 485.5l0.0 0.0M468.7 506.1l0.0 0.0M479.7 433.2l0.0 0.0M522.4 495.3l0.0 0.0M496.1 396.5l0.0 0.0M512.0 487.7l0.0 0.0M538.4 469.5l0.0 0.0M538.8 392.1l0.0 0.0M442.6 413.9l0.0 0.0M423.5 454.5l0.0 0.0M472.6 442.8l0.0 0.0M458.7 466.8l0.0 0.0M537.6 512.1l0.0 0.0M450.7 505.3l0.0 0.0M467.0 472.1l0.0 0.0M522.9 461.8l0.0 0.0M488.6 443.5l0.0 0.0M485.8 391.7l0.0 0.0M496.5 460.8l0.0 0.0M433.4 461.9l0.0 0.0M499.4 490.2l0.0 0.0M468.1 429.0l0.0 0.0M433.3 500.4l0.0 0.0M536.0 503.5l0.0 0.0M452.1 494.8l0.0 0.0M511.5 483.6l0.0 0.0M511.4 420.8l0.0 0.0M529.5 484.1l0.0 0.0M530.0 411.1l0.0 0.0M524.7 501.4l0.0 0.0M491.3 474.3l0.0 0.0M520.1 451.7l0.0 0.0M468.0 430.3l0.0 0.0M453.1 504.0l0.0 0.0M443.4 475.0l0.0 0.0M511.8 476.5l0.0 0.0M533.2 470.0l0.0 0.0M422.6 490.6l0.0 0.0M477.2 449.0l0.0 0.0M471.6 421.0l0.0 0.0M448.6 463.2l0.0 0.0M462.1 481.9l0.0 0.0M516.6 444.2l0.0 0.0M439.6 476.2l0.0 0.0M503.1 425.0l0.0 0.0M477.8 457.0l0.0 0.0M456.4 480.5l0.0 0.0M487.0 484.4l0.0 0.0M534.7 431.7l0.0 0.0M491.3 491.8l0.0 0.0M423.4 390.5l0.0 0.0M536.2 397.2l0.0 0.0M431.8 455.3l0.0 0.0M469.9 512.1l0.0 0.0M494.4 503.0l0.0 0.0M440.7 487.2l0.0 0.0M486.8 404.9l0.0 0.0M473.6 469.8l0.0 0.0M534.7 469.1l0.0 0.0M461.5 392.3l0.0 0.0M490.0 484.3l0.0 0.0M449.3 418.9l0.0 0.0M444.2 461.0l0.0 0.0M538.9 433.7l0.0 0.0M425.4 460.5l0.0 0.0M489.1 391.9l0.0 0.0M528.7 419.9l0.0 0.0M501.2 478.2l0.0 0.0M520.7 499.3l0.0 0.0M526.2 480.5l0.0 0.0M533.1 414.6l0.0 0.0M497.9 445.7l0.0 0.0M502.1 510.4l0.0 0.0M484.1 405.5l0.0 0.0M477.9 468.7l0.0 0.0M469.1 418.1l0.0 0.0M539.8 471.2l0.0 0.0M434.6 392.8l0.0 0.0M518.8 494.2l0.0 0.0M536.6 466.6l0.0 0.0M433.9 466.6l0.0 0.0M455.6 437.6l0.0 0.0M543.4 390.7l0.0 0.0M536.1 391.8l0.0 0.0M524.1 481.8l0.0 0.0M526.2 452.3l0.0 0.0M529.5 438.4l0.0 0.0M445.3 457.6l0.0 0.0M435.1 422.8l0.0 0.0M513.9 490.4l0.0 0.0M429.4 399.8l0.0 0.0M424.9 470.5l0.0 0.0M456.8 459.2l0.0 0.0M490.3 433.1l0.0 0.0M456.0 510.1l0.0 0.0M426.4 427.4l0.0 0.0M490.2 410.3l0.0 0.0M470.0 498.0l0.0 0.0M495.6 477.8l0.0 0.0M533.7 497.4l0.0 0.0M444.2 495.6l0.0 0.0M436.9 449.2l0.0 0.0M454.1 440.6l0.0 0.0M533.5 458.6l0.0 0.0M524.7 432.6l0.0 0.0M496.5 426.6l0.0 0.0M490.2 432.1l0.0 0.0M453.6 476.0l0.0 0.0M465.2 394.9l0.0 0.0M506.0 434.7l0.0 0.0M507.0 492.6l0.0 0.0M460.6 407.2l0.0 0.0M530.0 464.6l0.0 0.0M422.0 475.1l0.0 0.0M453.1 411.2l0.0 0.0M497.6 511.5l0.0 0.0M461.7 470.9l0.0 0.0M499.9 462.4l0.0 0.0M515.5 431.9l0.0 0.0M538.1 477.9l0.0 0.0M530.3 476.5l0.0 0.0M509.1 421.4l0.0 0.0M474.7 422.1l0.0 0.0M508.9 501.2l0.0 0.0M470.6 401.1l0.0 0.0M477.6 473.4l0.0 0.0M525.0 510.2l0.0 0.0M450.5 424.5l0.0 0.0M434.5 399.3l0.0 0.0M456.1 419.0l0.0 0.0M542.7 401.5l0.0 0.0M476.6 398.1l0.0 0.0M461.9 429.0l0.0 0.0M434.9 452.4l0.0 0.0M489.9 402.1l0.0 0.0M501.6 444.3l0.0 0.0M502.9 413.6l0.0 0.0M535.1 500.0l0.0 0.0M543.5 461.9l0.0 0.0M538.1 509.2l0.0 0.0M433.3 473.7l0.0 0.0M500.4 446.5l0.0 0.0M513.1 436.5l0.0 0.0M460.4 491.5l0.0 0.0M499.5 409.1l0.0 0.0M475.1 480.9l0.0 0.0M464.2 468.0l0.0 0.0M437.8 493.1l0.0 0.0M479.7 415.8l0.0 0.0M485.0 443.0l0.0 0.0M448.5 502.0l0.0 0.0M429.6 411.5l0.0 0.0M494.1 436.2l0.0 0.0M441.1 451.5l0.0 0.0M525.2 466.9l0.0 0.0M526.4 454.6l0.0 0.0M456.1 491.4l0.0 0.0M428.6 415.8l0.0 0.0M496.6 485.5l0.0 0.0M424.3 400.1l0.0 0.0M526.5 492.4l0.0 0.0M449.2 436.2l0.0 0.0M542.9 511.7l0.0 0.0M486.2 476.7l0.0 0.0M443.3 404.7l0.0 0.0M524.6 476.2l0.0 0.0M440.8 451.2l0.0 0.0M451.0 509.6l0.0 0.0M511.3 411.1l0.0 0.0M445.4 480.9l0.0 0.0M540.7 392.8l0.0 0.0M471.7 415.1l0.0 0.0M504.6 400.2l0.0 0.0M531.1 460.9l0.0 0.0M495.1 444.4l0.0 0.0M430.5 501.3l0.0 0.0M463.4 493.3l0.0 0.0M468.0 428.0l0.0 0.0M438.7 511.4l0.0 0.0M472.1 403.5l0.0 0.0M466.4 433.4l0.0 0.0M436.1 425.8l0.0 0.0M447.3 485.8l0.0 0.0M429.9 460.6l0.0 0.0M432.7 483.3l0.0 0.0M422.9 481.9l0.0 0.0M467.8 486.4l0.0 0.0M454.6 470.3l0.0 0.0M493.9 467.3l0.0 0.0M502.4 445.7l0.0 0.0M507.2 463.6l0.0 0.0M507.0 405.3l0.0 0.0M526.1 402.9l0.0 0.0M438.9 453.2l0.0 0.0M424.4 422.7l0.0 0.0M474.3 413.8l0.0 0.0M483.0 409.5l0.0 0.0M489.5 404.7l0.0 0.0M489.5 392.7l0.0 0.0M499.8 507.7l0.0 0.0M495.0 418.1l0.0 0.0M422.8 512.1l0.0 0.0M494.6 457.5l0.0 0.0M431.5 428.9l0.0 0.0M423.2 458.1l0.0 0.0M439.2 403.5l0.0 0.0M539.9 507.3l0.0 0.0M456.8 468.3l0.0 0.0M477.3 499.9l0.0 0.0M458.5 406.2l0.0 0.0M491.4 435.0l0.0 0.0M423.8 488.4l0.0 0.0M494.6 441.7l0.0 0.0M507.7 509.0l0.0 0.0M505.9 483.9l0.0 0.0M512.4 427.8l0.0 0.0M486.8 479.0l0.0 0.0M447.2 465.8l0.0 0.0M474.7 502.6l0.0 0.0M537.7 428.0l0.0 0.0M487.9 487.9l0.0 0.0M486.9 409.8l0.0 0.0M533.6 416.3l0.0 0.0M427.4 421.4l0.0 0.0M449.6 483.2l0.0 0.0M489.7 469.3l0.0 0.0M438.2 479.7l0.0 0.0M500.3 486.5l0.0 0.0M432.3 443.6l0.0 0.0M542.9 423.4l0.0 0.0M463.6 427.3l0.0 0.0M499.6 473.1l0.0 0.0M478.6 422.3l0.0 0.0M476.1 432.7l0.0 0.0M489.4 417.3l0.0 0.0M497.0 409.9l0.0 0.0M448.3 401.8l0.0 0.0M437.9 417.7l0.0 0.0M483.3 473.1l0.0 0.0M534.2 456.4l0.0 0.0M480.1 512.1l0.0 0.0M469.3 475.0l0.0 0.0M485.8 474.2l0.0 0.0M427.4 434.1l0.0 0.0M437.4 435.9l0.0 0.0M442.2 505.0l0.0 0.0M429.9 511.6l0.0 0.0M440.5 506.7l0.0 0.0M442.2 402.0l0.0 0.0M501.0 497.4l0.0 0.0M478.0 503.1l0.0 0.0M535.1 506.2l0.0 0.0M502.5 401.3l0.0 0.0M437.2 463.1l0.0 0.0M484.7 451.1l0.0 0.0M491.6 483.4l0.0 0.0M477.4 494.7l0.0 0.0M487.7 401.6l0.0 0.0M484.7 499.3l0.0 0.0M448.1 425.6l0.0 0.0M494.6 475.4l0.0 0.0M449.3 406.1l0.0 0.0M483.6 434.3l0.0 0.0M504.7 496.8l0.0 0.0M520.8 424.6l0.0 0.0M453.5 392.9l0.0 0.0M498.6 457.0l0.0 0.0M524.7 475.3l0.0 0.0M456.9 471.3l0.0 0.0M444.5 502.6l0.0 0.0M495.2 393.7l0.0 0.0M433.1 409.4l0.0 0.0" stroke="#3cf23c" stroke-width="1.1"/>
</g>
<rect x="510.0" y="501.9" width="27.0" height="1.8" fill="#fff"/>
<text x="523.5" y="499.6" font-size="6.5" text-anchor="middle" style="fill:#fff;stroke:#000;stroke-width:1.6;paint-order:stroke">250 μm</text>
<text x="537.3" y="509.2" font-size="4.4" text-anchor="end" style="fill:#f0f4f0">2X</text>
<path d="M510.3 506.1h1.2v2.4" stroke="#c8d0c8" stroke-width="0.5" fill="none"/>
</g>
</svg></body></html>
